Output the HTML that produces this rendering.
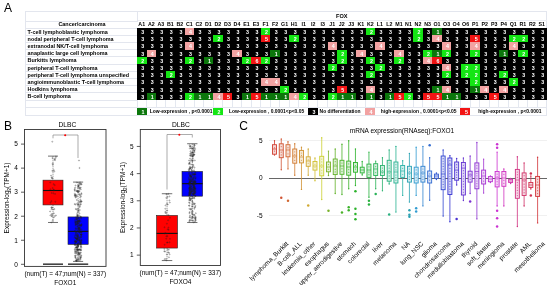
<!DOCTYPE html>
<html><head><meta charset="utf-8"><style>
html,body{margin:0;padding:0;background:#fff;}
body{width:550px;height:289px;position:relative;overflow:hidden;font-family:'Liberation Sans', Arial, sans-serif;color:#000;}
.lbl{position:absolute;line-height:1;}
.ln{position:absolute;background:#e3e6ee;}
.t{position:absolute;white-space:nowrap;}
.b{font-weight:bold;}
.d{color:#fff;text-align:center;font-size:5.3px;}
</style></head><body>
<div class="lbl" style="left:3.9px;top:1.7px;font-size:12px">A</div>
<div class="ln" style="left:25px;top:11px;width:522px;height:104.5px;border:1px solid #e3e6ee;box-sizing:border-box;background:none"></div>
<div class="ln" style="left:25px;top:20.8px;width:112.0px;height:1.2px"></div>
<div class="ln" style="left:137.0px;top:20.4px;width:410.0px;height:1px;background:#eceef4"></div>
<div class="ln" style="left:136.5px;top:11px;width:1px;height:11px"></div>
<div class="ln" style="left:136.5px;top:99px;width:1px;height:16.5px"></div>
<div class="ln" style="left:25px;top:34.7px;width:112.0px;height:1px"></div>
<div class="ln" style="left:25px;top:41.9px;width:112.0px;height:1px"></div>
<div class="ln" style="left:25px;top:49.1px;width:112.0px;height:1px"></div>
<div class="ln" style="left:25px;top:56.3px;width:112.0px;height:1px"></div>
<div class="ln" style="left:25px;top:63.5px;width:112.0px;height:1px"></div>
<div class="ln" style="left:25px;top:70.7px;width:112.0px;height:1px"></div>
<div class="ln" style="left:25px;top:77.9px;width:112.0px;height:1px"></div>
<div class="ln" style="left:25px;top:85.1px;width:112.0px;height:1px"></div>
<div class="ln" style="left:25px;top:92.3px;width:112.0px;height:1px"></div>
<div class="ln" style="left:25px;top:99.5px;width:112.0px;height:1px"></div>
<div class="ln" style="left:25px;top:106.8px;width:112.0px;height:1px"></div>
<div class="ln" style="left:25px;top:27.5px;width:112.0px;height:1px"></div>
<div class="ln" style="left:137.0px;top:107px;width:410.0px;height:1px"></div>
<div class="ln" style="left:146.03px;top:100px;width:1px;height:7.5px;background:#e4e8f0"></div>
<div class="ln" style="left:155.55px;top:100px;width:1px;height:7.5px;background:#e4e8f0"></div>
<div class="ln" style="left:165.08px;top:100px;width:1px;height:7.5px;background:#e4e8f0"></div>
<div class="ln" style="left:174.6px;top:100px;width:1px;height:7.5px;background:#e4e8f0"></div>
<div class="ln" style="left:184.13px;top:100px;width:1px;height:7.5px;background:#e4e8f0"></div>
<div class="ln" style="left:193.65px;top:100px;width:1px;height:7.5px;background:#e4e8f0"></div>
<div class="ln" style="left:203.18px;top:100px;width:1px;height:7.5px;background:#e4e8f0"></div>
<div class="ln" style="left:212.7px;top:100px;width:1px;height:7.5px;background:#e4e8f0"></div>
<div class="ln" style="left:222.23px;top:100px;width:1px;height:7.5px;background:#e4e8f0"></div>
<div class="ln" style="left:231.76px;top:100px;width:1px;height:7.5px;background:#e4e8f0"></div>
<div class="ln" style="left:241.28px;top:100px;width:1px;height:7.5px;background:#e4e8f0"></div>
<div class="ln" style="left:250.81px;top:100px;width:1px;height:7.5px;background:#e4e8f0"></div>
<div class="ln" style="left:260.33px;top:100px;width:1px;height:7.5px;background:#e4e8f0"></div>
<div class="ln" style="left:269.86px;top:100px;width:1px;height:7.5px;background:#e4e8f0"></div>
<div class="ln" style="left:279.38px;top:100px;width:1px;height:7.5px;background:#e4e8f0"></div>
<div class="ln" style="left:288.91px;top:100px;width:1px;height:7.5px;background:#e4e8f0"></div>
<div class="ln" style="left:298.43px;top:100px;width:1px;height:7.5px;background:#e4e8f0"></div>
<div class="ln" style="left:307.96px;top:100px;width:1px;height:7.5px;background:#e4e8f0"></div>
<div class="ln" style="left:317.49px;top:100px;width:1px;height:7.5px;background:#e4e8f0"></div>
<div class="ln" style="left:327.01px;top:100px;width:1px;height:7.5px;background:#e4e8f0"></div>
<div class="ln" style="left:336.54px;top:100px;width:1px;height:7.5px;background:#e4e8f0"></div>
<div class="ln" style="left:346.06px;top:100px;width:1px;height:7.5px;background:#e4e8f0"></div>
<div class="ln" style="left:355.59px;top:100px;width:1px;height:7.5px;background:#e4e8f0"></div>
<div class="ln" style="left:365.11px;top:100px;width:1px;height:7.5px;background:#e4e8f0"></div>
<div class="ln" style="left:374.64px;top:100px;width:1px;height:7.5px;background:#e4e8f0"></div>
<div class="ln" style="left:384.17px;top:100px;width:1px;height:7.5px;background:#e4e8f0"></div>
<div class="ln" style="left:393.69px;top:100px;width:1px;height:7.5px;background:#e4e8f0"></div>
<div class="ln" style="left:403.22px;top:100px;width:1px;height:7.5px;background:#e4e8f0"></div>
<div class="ln" style="left:412.74px;top:100px;width:1px;height:7.5px;background:#e4e8f0"></div>
<div class="ln" style="left:422.27px;top:100px;width:1px;height:7.5px;background:#e4e8f0"></div>
<div class="ln" style="left:431.79px;top:100px;width:1px;height:7.5px;background:#e4e8f0"></div>
<div class="ln" style="left:441.32px;top:100px;width:1px;height:7.5px;background:#e4e8f0"></div>
<div class="ln" style="left:450.84px;top:100px;width:1px;height:7.5px;background:#e4e8f0"></div>
<div class="ln" style="left:460.37px;top:100px;width:1px;height:7.5px;background:#e4e8f0"></div>
<div class="ln" style="left:469.9px;top:100px;width:1px;height:7.5px;background:#e4e8f0"></div>
<div class="ln" style="left:479.42px;top:100px;width:1px;height:7.5px;background:#e4e8f0"></div>
<div class="ln" style="left:488.95px;top:100px;width:1px;height:7.5px;background:#e4e8f0"></div>
<div class="ln" style="left:498.47px;top:100px;width:1px;height:7.5px;background:#e4e8f0"></div>
<div class="ln" style="left:508px;top:100px;width:1px;height:7.5px;background:#e4e8f0"></div>
<div class="ln" style="left:517.52px;top:100px;width:1px;height:7.5px;background:#e4e8f0"></div>
<div class="ln" style="left:527.05px;top:100px;width:1px;height:7.5px;background:#e4e8f0"></div>
<div class="ln" style="left:536.57px;top:100px;width:1px;height:7.5px;background:#e4e8f0"></div>
<div class="t b" style="left:137.0px;width:409.6px;top:11.5px;height:9px;line-height:9px;text-align:center;font-size:5.6px">FOX</div>
<div class="t b" style="left:26px;width:112.0px;top:21.4px;height:7px;line-height:7px;text-align:center;font-size:5.45px">Cancer/carcinoma</div>
<div class="t b" style="left:136px;width:11.53px;top:21.3px;height:7px;line-height:7px;text-align:center;font-size:5.3px">A1</div>
<div class="t b" style="left:145.53px;width:11.53px;top:21.3px;height:7px;line-height:7px;text-align:center;font-size:5.3px">A2</div>
<div class="t b" style="left:155.05px;width:11.53px;top:21.3px;height:7px;line-height:7px;text-align:center;font-size:5.3px">A3</div>
<div class="t b" style="left:164.58px;width:11.53px;top:21.3px;height:7px;line-height:7px;text-align:center;font-size:5.3px">B1</div>
<div class="t b" style="left:174.1px;width:11.53px;top:21.3px;height:7px;line-height:7px;text-align:center;font-size:5.3px">B2</div>
<div class="t b" style="left:183.63px;width:11.53px;top:21.3px;height:7px;line-height:7px;text-align:center;font-size:5.3px">C1</div>
<div class="t b" style="left:193.15px;width:11.53px;top:21.3px;height:7px;line-height:7px;text-align:center;font-size:5.3px">C2</div>
<div class="t b" style="left:202.68px;width:11.53px;top:21.3px;height:7px;line-height:7px;text-align:center;font-size:5.3px">D1</div>
<div class="t b" style="left:212.2px;width:11.53px;top:21.3px;height:7px;line-height:7px;text-align:center;font-size:5.3px">D2</div>
<div class="t b" style="left:221.73px;width:11.53px;top:21.3px;height:7px;line-height:7px;text-align:center;font-size:5.3px">D3</div>
<div class="t b" style="left:231.26px;width:11.53px;top:21.3px;height:7px;line-height:7px;text-align:center;font-size:5.3px">D4</div>
<div class="t b" style="left:240.78px;width:11.53px;top:21.3px;height:7px;line-height:7px;text-align:center;font-size:5.3px">E1</div>
<div class="t b" style="left:250.31px;width:11.53px;top:21.3px;height:7px;line-height:7px;text-align:center;font-size:5.3px">E3</div>
<div class="t b" style="left:259.83px;width:11.53px;top:21.3px;height:7px;line-height:7px;text-align:center;font-size:5.3px">F1</div>
<div class="t b" style="left:269.36px;width:11.53px;top:21.3px;height:7px;line-height:7px;text-align:center;font-size:5.3px">F2</div>
<div class="t b" style="left:278.88px;width:11.53px;top:21.3px;height:7px;line-height:7px;text-align:center;font-size:5.3px">G1</div>
<div class="t b" style="left:288.41px;width:11.53px;top:21.3px;height:7px;line-height:7px;text-align:center;font-size:5.3px">H1</div>
<div class="t b" style="left:297.93px;width:11.53px;top:21.3px;height:7px;line-height:7px;text-align:center;font-size:5.3px">I1</div>
<div class="t b" style="left:307.46px;width:11.53px;top:21.3px;height:7px;line-height:7px;text-align:center;font-size:5.3px">I2</div>
<div class="t b" style="left:316.99px;width:11.53px;top:21.3px;height:7px;line-height:7px;text-align:center;font-size:5.3px">I3</div>
<div class="t b" style="left:326.51px;width:11.53px;top:21.3px;height:7px;line-height:7px;text-align:center;font-size:5.3px">J1</div>
<div class="t b" style="left:336.04px;width:11.53px;top:21.3px;height:7px;line-height:7px;text-align:center;font-size:5.3px">J2</div>
<div class="t b" style="left:345.56px;width:11.53px;top:21.3px;height:7px;line-height:7px;text-align:center;font-size:5.3px">J3</div>
<div class="t b" style="left:355.09px;width:11.53px;top:21.3px;height:7px;line-height:7px;text-align:center;font-size:5.3px">K1</div>
<div class="t b" style="left:364.61px;width:11.53px;top:21.3px;height:7px;line-height:7px;text-align:center;font-size:5.3px">K2</div>
<div class="t b" style="left:374.14px;width:11.53px;top:21.3px;height:7px;line-height:7px;text-align:center;font-size:5.3px">L1</div>
<div class="t b" style="left:383.67px;width:11.53px;top:21.3px;height:7px;line-height:7px;text-align:center;font-size:5.3px">L2</div>
<div class="t b" style="left:393.19px;width:11.53px;top:21.3px;height:7px;line-height:7px;text-align:center;font-size:5.3px">M1</div>
<div class="t b" style="left:402.72px;width:11.53px;top:21.3px;height:7px;line-height:7px;text-align:center;font-size:5.3px">N1</div>
<div class="t b" style="left:412.24px;width:11.53px;top:21.3px;height:7px;line-height:7px;text-align:center;font-size:5.3px">N2</div>
<div class="t b" style="left:421.77px;width:11.53px;top:21.3px;height:7px;line-height:7px;text-align:center;font-size:5.3px">N3</div>
<div class="t b" style="left:431.29px;width:11.53px;top:21.3px;height:7px;line-height:7px;text-align:center;font-size:5.3px">O1</div>
<div class="t b" style="left:440.82px;width:11.53px;top:21.3px;height:7px;line-height:7px;text-align:center;font-size:5.3px">O3</div>
<div class="t b" style="left:450.34px;width:11.53px;top:21.3px;height:7px;line-height:7px;text-align:center;font-size:5.3px">O4</div>
<div class="t b" style="left:459.87px;width:11.53px;top:21.3px;height:7px;line-height:7px;text-align:center;font-size:5.3px">O6</div>
<div class="t b" style="left:469.4px;width:11.53px;top:21.3px;height:7px;line-height:7px;text-align:center;font-size:5.3px">P1</div>
<div class="t b" style="left:478.92px;width:11.53px;top:21.3px;height:7px;line-height:7px;text-align:center;font-size:5.3px">P2</div>
<div class="t b" style="left:488.45px;width:11.53px;top:21.3px;height:7px;line-height:7px;text-align:center;font-size:5.3px">P3</div>
<div class="t b" style="left:497.97px;width:11.53px;top:21.3px;height:7px;line-height:7px;text-align:center;font-size:5.3px">P4</div>
<div class="t b" style="left:507.5px;width:11.53px;top:21.3px;height:7px;line-height:7px;text-align:center;font-size:5.3px">Q1</div>
<div class="t b" style="left:517.02px;width:11.53px;top:21.3px;height:7px;line-height:7px;text-align:center;font-size:5.3px">R1</div>
<div class="t b" style="left:526.55px;width:11.53px;top:21.3px;height:7px;line-height:7px;text-align:center;font-size:5.3px">R2</div>
<div class="t b" style="left:536.07px;width:11.53px;top:21.3px;height:7px;line-height:7px;text-align:center;font-size:5.3px">S1</div>
<div style="position:absolute;left:137.0px;top:28.0px;width:409.6px;height:72px;background:#000"></div>
<div class="t b" style="left:27.6px;top:28.6px;height:7.2px;line-height:7.2px;font-size:5.42px">T-cell lymphoblastic lymphoma</div>
<div class="t b d" style="left:138px;top:28.9px;width:9.53px;height:7.2px;line-height:7.2px">3</div>
<div class="t b d" style="left:147.53px;top:28.9px;width:9.53px;height:7.2px;line-height:7.2px">3</div>
<div class="t b d" style="left:157.05px;top:28.9px;width:9.53px;height:7.2px;line-height:7.2px">3</div>
<div class="t b d" style="left:166.58px;top:28.9px;width:9.53px;height:7.2px;line-height:7.2px">3</div>
<div class="t b d" style="left:176.1px;top:28.9px;width:9.53px;height:7.2px;line-height:7.2px">3</div>
<div style="position:absolute;left:184.63px;top:28px;width:9.53px;height:7.2px;background:#f2a2a2"></div>
<div class="t b d" style="left:185.63px;top:28.9px;width:9.53px;height:7.2px;line-height:7.2px">4</div>
<div class="t b d" style="left:195.15px;top:28.9px;width:9.53px;height:7.2px;line-height:7.2px">3</div>
<div class="t b d" style="left:204.68px;top:28.9px;width:9.53px;height:7.2px;line-height:7.2px">3</div>
<div class="t b d" style="left:214.2px;top:28.9px;width:9.53px;height:7.2px;line-height:7.2px">3</div>
<div class="t b d" style="left:223.73px;top:28.9px;width:9.53px;height:7.2px;line-height:7.2px">3</div>
<div class="t b d" style="left:233.26px;top:28.9px;width:9.53px;height:7.2px;line-height:7.2px">3</div>
<div class="t b d" style="left:242.78px;top:28.9px;width:9.53px;height:7.2px;line-height:7.2px">3</div>
<div class="t b d" style="left:252.31px;top:28.9px;width:9.53px;height:7.2px;line-height:7.2px">3</div>
<div style="position:absolute;left:260.83px;top:28px;width:9.53px;height:7.2px;background:#14e614"></div>
<div class="t b d" style="left:261.83px;top:28.9px;width:9.53px;height:7.2px;line-height:7.2px">2</div>
<div class="t b d" style="left:271.36px;top:28.9px;width:9.53px;height:7.2px;line-height:7.2px">3</div>
<div class="t b d" style="left:280.88px;top:28.9px;width:9.53px;height:7.2px;line-height:7.2px">3</div>
<div class="t b d" style="left:290.41px;top:28.9px;width:9.53px;height:7.2px;line-height:7.2px">3</div>
<div class="t b d" style="left:299.93px;top:28.9px;width:9.53px;height:7.2px;line-height:7.2px">3</div>
<div class="t b d" style="left:309.46px;top:28.9px;width:9.53px;height:7.2px;line-height:7.2px">3</div>
<div class="t b d" style="left:318.99px;top:28.9px;width:9.53px;height:7.2px;line-height:7.2px">3</div>
<div class="t b d" style="left:328.51px;top:28.9px;width:9.53px;height:7.2px;line-height:7.2px">3</div>
<div class="t b d" style="left:338.04px;top:28.9px;width:9.53px;height:7.2px;line-height:7.2px">3</div>
<div class="t b d" style="left:347.56px;top:28.9px;width:9.53px;height:7.2px;line-height:7.2px">3</div>
<div class="t b d" style="left:357.09px;top:28.9px;width:9.53px;height:7.2px;line-height:7.2px">3</div>
<div style="position:absolute;left:365.61px;top:28px;width:9.53px;height:7.2px;background:#14e614"></div>
<div class="t b d" style="left:366.61px;top:28.9px;width:9.53px;height:7.2px;line-height:7.2px">2</div>
<div class="t b d" style="left:376.14px;top:28.9px;width:9.53px;height:7.2px;line-height:7.2px">3</div>
<div class="t b d" style="left:385.67px;top:28.9px;width:9.53px;height:7.2px;line-height:7.2px">3</div>
<div class="t b d" style="left:395.19px;top:28.9px;width:9.53px;height:7.2px;line-height:7.2px">3</div>
<div class="t b d" style="left:404.72px;top:28.9px;width:9.53px;height:7.2px;line-height:7.2px">3</div>
<div style="position:absolute;left:413.24px;top:28px;width:9.53px;height:7.2px;background:#14e614"></div>
<div class="t b d" style="left:414.24px;top:28.9px;width:9.53px;height:7.2px;line-height:7.2px">2</div>
<div class="t b d" style="left:423.77px;top:28.9px;width:9.53px;height:7.2px;line-height:7.2px">3</div>
<div style="position:absolute;left:432.29px;top:28px;width:9.53px;height:7.2px;background:#0c770c"></div>
<div class="t b d" style="left:433.29px;top:28.9px;width:9.53px;height:7.2px;line-height:7.2px">1</div>
<div class="t b d" style="left:442.82px;top:28.9px;width:9.53px;height:7.2px;line-height:7.2px">3</div>
<div class="t b d" style="left:452.34px;top:28.9px;width:9.53px;height:7.2px;line-height:7.2px">3</div>
<div class="t b d" style="left:461.87px;top:28.9px;width:9.53px;height:7.2px;line-height:7.2px">3</div>
<div class="t b d" style="left:471.4px;top:28.9px;width:9.53px;height:7.2px;line-height:7.2px">3</div>
<div class="t b d" style="left:480.92px;top:28.9px;width:9.53px;height:7.2px;line-height:7.2px">3</div>
<div class="t b d" style="left:490.45px;top:28.9px;width:9.53px;height:7.2px;line-height:7.2px">3</div>
<div class="t b d" style="left:499.97px;top:28.9px;width:9.53px;height:7.2px;line-height:7.2px">3</div>
<div class="t b d" style="left:509.5px;top:28.9px;width:9.53px;height:7.2px;line-height:7.2px">3</div>
<div class="t b d" style="left:519.02px;top:28.9px;width:9.53px;height:7.2px;line-height:7.2px">3</div>
<div class="t b d" style="left:528.55px;top:28.9px;width:9.53px;height:7.2px;line-height:7.2px">3</div>
<div class="t b d" style="left:538.07px;top:28.9px;width:9.53px;height:7.2px;line-height:7.2px">3</div>
<div class="t b" style="left:27.6px;top:35.8px;height:7.2px;line-height:7.2px;font-size:5.42px">nodal peripheral T-cell lymphoma</div>
<div class="t b d" style="left:138px;top:36.1px;width:9.53px;height:7.2px;line-height:7.2px">3</div>
<div class="t b d" style="left:147.53px;top:36.1px;width:9.53px;height:7.2px;line-height:7.2px">3</div>
<div class="t b d" style="left:157.05px;top:36.1px;width:9.53px;height:7.2px;line-height:7.2px">3</div>
<div class="t b d" style="left:166.58px;top:36.1px;width:9.53px;height:7.2px;line-height:7.2px">3</div>
<div class="t b d" style="left:176.1px;top:36.1px;width:9.53px;height:7.2px;line-height:7.2px">3</div>
<div class="t b d" style="left:185.63px;top:36.1px;width:9.53px;height:7.2px;line-height:7.2px">3</div>
<div class="t b d" style="left:195.15px;top:36.1px;width:9.53px;height:7.2px;line-height:7.2px">3</div>
<div class="t b d" style="left:204.68px;top:36.1px;width:9.53px;height:7.2px;line-height:7.2px">3</div>
<div style="position:absolute;left:213.2px;top:35.2px;width:9.53px;height:7.2px;background:#14e614"></div>
<div class="t b d" style="left:214.2px;top:36.1px;width:9.53px;height:7.2px;line-height:7.2px">2</div>
<div class="t b d" style="left:223.73px;top:36.1px;width:9.53px;height:7.2px;line-height:7.2px">3</div>
<div class="t b d" style="left:233.26px;top:36.1px;width:9.53px;height:7.2px;line-height:7.2px">3</div>
<div class="t b d" style="left:242.78px;top:36.1px;width:9.53px;height:7.2px;line-height:7.2px">3</div>
<div class="t b d" style="left:252.31px;top:36.1px;width:9.53px;height:7.2px;line-height:7.2px">3</div>
<div style="position:absolute;left:260.83px;top:35.2px;width:9.53px;height:7.2px;background:#f21414"></div>
<div class="t b d" style="left:261.83px;top:36.1px;width:9.53px;height:7.2px;line-height:7.2px">5</div>
<div class="t b d" style="left:271.36px;top:36.1px;width:9.53px;height:7.2px;line-height:7.2px">3</div>
<div class="t b d" style="left:280.88px;top:36.1px;width:9.53px;height:7.2px;line-height:7.2px">3</div>
<div style="position:absolute;left:289.41px;top:35.2px;width:9.53px;height:7.2px;background:#14e614"></div>
<div class="t b d" style="left:290.41px;top:36.1px;width:9.53px;height:7.2px;line-height:7.2px">2</div>
<div class="t b d" style="left:299.93px;top:36.1px;width:9.53px;height:7.2px;line-height:7.2px">3</div>
<div class="t b d" style="left:309.46px;top:36.1px;width:9.53px;height:7.2px;line-height:7.2px">3</div>
<div class="t b d" style="left:318.99px;top:36.1px;width:9.53px;height:7.2px;line-height:7.2px">3</div>
<div class="t b d" style="left:328.51px;top:36.1px;width:9.53px;height:7.2px;line-height:7.2px">3</div>
<div class="t b d" style="left:338.04px;top:36.1px;width:9.53px;height:7.2px;line-height:7.2px">3</div>
<div class="t b d" style="left:347.56px;top:36.1px;width:9.53px;height:7.2px;line-height:7.2px">3</div>
<div class="t b d" style="left:357.09px;top:36.1px;width:9.53px;height:7.2px;line-height:7.2px">3</div>
<div class="t b d" style="left:366.61px;top:36.1px;width:9.53px;height:7.2px;line-height:7.2px">3</div>
<div class="t b d" style="left:376.14px;top:36.1px;width:9.53px;height:7.2px;line-height:7.2px">3</div>
<div class="t b d" style="left:385.67px;top:36.1px;width:9.53px;height:7.2px;line-height:7.2px">3</div>
<div class="t b d" style="left:395.19px;top:36.1px;width:9.53px;height:7.2px;line-height:7.2px">3</div>
<div class="t b d" style="left:404.72px;top:36.1px;width:9.53px;height:7.2px;line-height:7.2px">3</div>
<div style="position:absolute;left:413.24px;top:35.2px;width:9.53px;height:7.2px;background:#14e614"></div>
<div class="t b d" style="left:414.24px;top:36.1px;width:9.53px;height:7.2px;line-height:7.2px">2</div>
<div class="t b d" style="left:423.77px;top:36.1px;width:9.53px;height:7.2px;line-height:7.2px">3</div>
<div style="position:absolute;left:432.29px;top:35.2px;width:9.53px;height:7.2px;background:#f2a2a2"></div>
<div class="t b d" style="left:433.29px;top:36.1px;width:9.53px;height:7.2px;line-height:7.2px">4</div>
<div class="t b d" style="left:442.82px;top:36.1px;width:9.53px;height:7.2px;line-height:7.2px">3</div>
<div class="t b d" style="left:452.34px;top:36.1px;width:9.53px;height:7.2px;line-height:7.2px">3</div>
<div class="t b d" style="left:461.87px;top:36.1px;width:9.53px;height:7.2px;line-height:7.2px">3</div>
<div style="position:absolute;left:470.4px;top:35.2px;width:9.53px;height:7.2px;background:#f21414"></div>
<div class="t b d" style="left:471.4px;top:36.1px;width:9.53px;height:7.2px;line-height:7.2px">5</div>
<div class="t b d" style="left:480.92px;top:36.1px;width:9.53px;height:7.2px;line-height:7.2px">3</div>
<div class="t b d" style="left:490.45px;top:36.1px;width:9.53px;height:7.2px;line-height:7.2px">3</div>
<div class="t b d" style="left:499.97px;top:36.1px;width:9.53px;height:7.2px;line-height:7.2px">3</div>
<div style="position:absolute;left:508.5px;top:35.2px;width:9.53px;height:7.2px;background:#14e614"></div>
<div class="t b d" style="left:509.5px;top:36.1px;width:9.53px;height:7.2px;line-height:7.2px">2</div>
<div style="position:absolute;left:518.02px;top:35.2px;width:9.53px;height:7.2px;background:#14e614"></div>
<div class="t b d" style="left:519.02px;top:36.1px;width:9.53px;height:7.2px;line-height:7.2px">2</div>
<div class="t b d" style="left:528.55px;top:36.1px;width:9.53px;height:7.2px;line-height:7.2px">3</div>
<div class="t b d" style="left:538.07px;top:36.1px;width:9.53px;height:7.2px;line-height:7.2px">3</div>
<div class="t b" style="left:27.6px;top:43px;height:7.2px;line-height:7.2px;font-size:5.42px">extranodal NK/T-cell lymphoma</div>
<div class="t b d" style="left:138px;top:43.3px;width:9.53px;height:7.2px;line-height:7.2px">3</div>
<div class="t b d" style="left:147.53px;top:43.3px;width:9.53px;height:7.2px;line-height:7.2px">3</div>
<div class="t b d" style="left:157.05px;top:43.3px;width:9.53px;height:7.2px;line-height:7.2px">3</div>
<div class="t b d" style="left:166.58px;top:43.3px;width:9.53px;height:7.2px;line-height:7.2px">3</div>
<div class="t b d" style="left:176.1px;top:43.3px;width:9.53px;height:7.2px;line-height:7.2px">3</div>
<div style="position:absolute;left:184.63px;top:42.4px;width:9.53px;height:7.2px;background:#f2a2a2"></div>
<div class="t b d" style="left:185.63px;top:43.3px;width:9.53px;height:7.2px;line-height:7.2px">4</div>
<div class="t b d" style="left:195.15px;top:43.3px;width:9.53px;height:7.2px;line-height:7.2px">3</div>
<div class="t b d" style="left:204.68px;top:43.3px;width:9.53px;height:7.2px;line-height:7.2px">3</div>
<div class="t b d" style="left:214.2px;top:43.3px;width:9.53px;height:7.2px;line-height:7.2px">3</div>
<div class="t b d" style="left:223.73px;top:43.3px;width:9.53px;height:7.2px;line-height:7.2px">3</div>
<div class="t b d" style="left:233.26px;top:43.3px;width:9.53px;height:7.2px;line-height:7.2px">3</div>
<div class="t b d" style="left:242.78px;top:43.3px;width:9.53px;height:7.2px;line-height:7.2px">3</div>
<div class="t b d" style="left:252.31px;top:43.3px;width:9.53px;height:7.2px;line-height:7.2px">3</div>
<div class="t b d" style="left:261.83px;top:43.3px;width:9.53px;height:7.2px;line-height:7.2px">3</div>
<div class="t b d" style="left:271.36px;top:43.3px;width:9.53px;height:7.2px;line-height:7.2px">3</div>
<div class="t b d" style="left:280.88px;top:43.3px;width:9.53px;height:7.2px;line-height:7.2px">3</div>
<div class="t b d" style="left:290.41px;top:43.3px;width:9.53px;height:7.2px;line-height:7.2px">3</div>
<div class="t b d" style="left:299.93px;top:43.3px;width:9.53px;height:7.2px;line-height:7.2px">3</div>
<div class="t b d" style="left:309.46px;top:43.3px;width:9.53px;height:7.2px;line-height:7.2px">3</div>
<div class="t b d" style="left:318.99px;top:43.3px;width:9.53px;height:7.2px;line-height:7.2px">3</div>
<div style="position:absolute;left:327.51px;top:42.4px;width:9.53px;height:7.2px;background:#f2a2a2"></div>
<div class="t b d" style="left:328.51px;top:43.3px;width:9.53px;height:7.2px;line-height:7.2px">4</div>
<div class="t b d" style="left:338.04px;top:43.3px;width:9.53px;height:7.2px;line-height:7.2px">3</div>
<div class="t b d" style="left:347.56px;top:43.3px;width:9.53px;height:7.2px;line-height:7.2px">3</div>
<div class="t b d" style="left:357.09px;top:43.3px;width:9.53px;height:7.2px;line-height:7.2px">3</div>
<div class="t b d" style="left:366.61px;top:43.3px;width:9.53px;height:7.2px;line-height:7.2px">3</div>
<div style="position:absolute;left:375.14px;top:42.4px;width:9.53px;height:7.2px;background:#f2a2a2"></div>
<div class="t b d" style="left:376.14px;top:43.3px;width:9.53px;height:7.2px;line-height:7.2px">4</div>
<div class="t b d" style="left:385.67px;top:43.3px;width:9.53px;height:7.2px;line-height:7.2px">3</div>
<div class="t b d" style="left:395.19px;top:43.3px;width:9.53px;height:7.2px;line-height:7.2px">3</div>
<div class="t b d" style="left:404.72px;top:43.3px;width:9.53px;height:7.2px;line-height:7.2px">3</div>
<div class="t b d" style="left:414.24px;top:43.3px;width:9.53px;height:7.2px;line-height:7.2px">3</div>
<div class="t b d" style="left:423.77px;top:43.3px;width:9.53px;height:7.2px;line-height:7.2px">3</div>
<div class="t b d" style="left:433.29px;top:43.3px;width:9.53px;height:7.2px;line-height:7.2px">3</div>
<div style="position:absolute;left:441.82px;top:42.4px;width:9.53px;height:7.2px;background:#f2a2a2"></div>
<div class="t b d" style="left:442.82px;top:43.3px;width:9.53px;height:7.2px;line-height:7.2px">4</div>
<div class="t b d" style="left:452.34px;top:43.3px;width:9.53px;height:7.2px;line-height:7.2px">3</div>
<div class="t b d" style="left:461.87px;top:43.3px;width:9.53px;height:7.2px;line-height:7.2px">3</div>
<div style="position:absolute;left:470.4px;top:42.4px;width:9.53px;height:7.2px;background:#f2a2a2"></div>
<div class="t b d" style="left:471.4px;top:43.3px;width:9.53px;height:7.2px;line-height:7.2px">4</div>
<div class="t b d" style="left:480.92px;top:43.3px;width:9.53px;height:7.2px;line-height:7.2px">3</div>
<div class="t b d" style="left:490.45px;top:43.3px;width:9.53px;height:7.2px;line-height:7.2px">3</div>
<div class="t b d" style="left:499.97px;top:43.3px;width:9.53px;height:7.2px;line-height:7.2px">3</div>
<div style="position:absolute;left:508.5px;top:42.4px;width:9.53px;height:7.2px;background:#f2a2a2"></div>
<div class="t b d" style="left:509.5px;top:43.3px;width:9.53px;height:7.2px;line-height:7.2px">4</div>
<div class="t b d" style="left:519.02px;top:43.3px;width:9.53px;height:7.2px;line-height:7.2px">3</div>
<div class="t b d" style="left:528.55px;top:43.3px;width:9.53px;height:7.2px;line-height:7.2px">3</div>
<div class="t b d" style="left:538.07px;top:43.3px;width:9.53px;height:7.2px;line-height:7.2px">3</div>
<div class="t b" style="left:27.6px;top:50.2px;height:7.2px;line-height:7.2px;font-size:5.42px">anaplastic large cell lymphoma</div>
<div class="t b d" style="left:138px;top:50.5px;width:9.53px;height:7.2px;line-height:7.2px">3</div>
<div style="position:absolute;left:146.53px;top:49.6px;width:9.53px;height:7.2px;background:#f2a2a2"></div>
<div class="t b d" style="left:147.53px;top:50.5px;width:9.53px;height:7.2px;line-height:7.2px">4</div>
<div class="t b d" style="left:157.05px;top:50.5px;width:9.53px;height:7.2px;line-height:7.2px">3</div>
<div class="t b d" style="left:166.58px;top:50.5px;width:9.53px;height:7.2px;line-height:7.2px">3</div>
<div class="t b d" style="left:176.1px;top:50.5px;width:9.53px;height:7.2px;line-height:7.2px">3</div>
<div class="t b d" style="left:185.63px;top:50.5px;width:9.53px;height:7.2px;line-height:7.2px">3</div>
<div class="t b d" style="left:195.15px;top:50.5px;width:9.53px;height:7.2px;line-height:7.2px">3</div>
<div class="t b d" style="left:204.68px;top:50.5px;width:9.53px;height:7.2px;line-height:7.2px">3</div>
<div class="t b d" style="left:214.2px;top:50.5px;width:9.53px;height:7.2px;line-height:7.2px">3</div>
<div class="t b d" style="left:223.73px;top:50.5px;width:9.53px;height:7.2px;line-height:7.2px">3</div>
<div style="position:absolute;left:232.26px;top:49.6px;width:9.53px;height:7.2px;background:#f2a2a2"></div>
<div class="t b d" style="left:233.26px;top:50.5px;width:9.53px;height:7.2px;line-height:7.2px">4</div>
<div class="t b d" style="left:242.78px;top:50.5px;width:9.53px;height:7.2px;line-height:7.2px">3</div>
<div class="t b d" style="left:252.31px;top:50.5px;width:9.53px;height:7.2px;line-height:7.2px">3</div>
<div class="t b d" style="left:261.83px;top:50.5px;width:9.53px;height:7.2px;line-height:7.2px">3</div>
<div style="position:absolute;left:270.36px;top:49.6px;width:9.53px;height:7.2px;background:#0c770c"></div>
<div class="t b d" style="left:271.36px;top:50.5px;width:9.53px;height:7.2px;line-height:7.2px">1</div>
<div class="t b d" style="left:280.88px;top:50.5px;width:9.53px;height:7.2px;line-height:7.2px">3</div>
<div class="t b d" style="left:290.41px;top:50.5px;width:9.53px;height:7.2px;line-height:7.2px">3</div>
<div class="t b d" style="left:299.93px;top:50.5px;width:9.53px;height:7.2px;line-height:7.2px">3</div>
<div class="t b d" style="left:309.46px;top:50.5px;width:9.53px;height:7.2px;line-height:7.2px">3</div>
<div class="t b d" style="left:318.99px;top:50.5px;width:9.53px;height:7.2px;line-height:7.2px">3</div>
<div class="t b d" style="left:328.51px;top:50.5px;width:9.53px;height:7.2px;line-height:7.2px">3</div>
<div style="position:absolute;left:337.04px;top:49.6px;width:9.53px;height:7.2px;background:#14e614"></div>
<div class="t b d" style="left:338.04px;top:50.5px;width:9.53px;height:7.2px;line-height:7.2px">2</div>
<div class="t b d" style="left:347.56px;top:50.5px;width:9.53px;height:7.2px;line-height:7.2px">3</div>
<div style="position:absolute;left:356.09px;top:49.6px;width:9.53px;height:7.2px;background:#f2a2a2"></div>
<div class="t b d" style="left:357.09px;top:50.5px;width:9.53px;height:7.2px;line-height:7.2px">4</div>
<div class="t b d" style="left:366.61px;top:50.5px;width:9.53px;height:7.2px;line-height:7.2px">3</div>
<div class="t b d" style="left:376.14px;top:50.5px;width:9.53px;height:7.2px;line-height:7.2px">3</div>
<div class="t b d" style="left:385.67px;top:50.5px;width:9.53px;height:7.2px;line-height:7.2px">3</div>
<div style="position:absolute;left:394.19px;top:49.6px;width:9.53px;height:7.2px;background:#f2a2a2"></div>
<div class="t b d" style="left:395.19px;top:50.5px;width:9.53px;height:7.2px;line-height:7.2px">4</div>
<div class="t b d" style="left:404.72px;top:50.5px;width:9.53px;height:7.2px;line-height:7.2px">3</div>
<div class="t b d" style="left:414.24px;top:50.5px;width:9.53px;height:7.2px;line-height:7.2px">3</div>
<div style="position:absolute;left:422.77px;top:49.6px;width:9.53px;height:7.2px;background:#14e614"></div>
<div class="t b d" style="left:423.77px;top:50.5px;width:9.53px;height:7.2px;line-height:7.2px">2</div>
<div style="position:absolute;left:432.29px;top:49.6px;width:9.53px;height:7.2px;background:#0c770c"></div>
<div class="t b d" style="left:433.29px;top:50.5px;width:9.53px;height:7.2px;line-height:7.2px">1</div>
<div style="position:absolute;left:441.82px;top:49.6px;width:9.53px;height:7.2px;background:#14e614"></div>
<div class="t b d" style="left:442.82px;top:50.5px;width:9.53px;height:7.2px;line-height:7.2px">2</div>
<div class="t b d" style="left:452.34px;top:50.5px;width:9.53px;height:7.2px;line-height:7.2px">3</div>
<div class="t b d" style="left:461.87px;top:50.5px;width:9.53px;height:7.2px;line-height:7.2px">3</div>
<div style="position:absolute;left:470.4px;top:49.6px;width:9.53px;height:7.2px;background:#14e614"></div>
<div class="t b d" style="left:471.4px;top:50.5px;width:9.53px;height:7.2px;line-height:7.2px">2</div>
<div class="t b d" style="left:480.92px;top:50.5px;width:9.53px;height:7.2px;line-height:7.2px">3</div>
<div class="t b d" style="left:490.45px;top:50.5px;width:9.53px;height:7.2px;line-height:7.2px">3</div>
<div style="position:absolute;left:498.97px;top:49.6px;width:9.53px;height:7.2px;background:#0c770c"></div>
<div class="t b d" style="left:499.97px;top:50.5px;width:9.53px;height:7.2px;line-height:7.2px">1</div>
<div class="t b d" style="left:509.5px;top:50.5px;width:9.53px;height:7.2px;line-height:7.2px">3</div>
<div style="position:absolute;left:518.02px;top:49.6px;width:9.53px;height:7.2px;background:#14e614"></div>
<div class="t b d" style="left:519.02px;top:50.5px;width:9.53px;height:7.2px;line-height:7.2px">2</div>
<div class="t b d" style="left:528.55px;top:50.5px;width:9.53px;height:7.2px;line-height:7.2px">3</div>
<div class="t b d" style="left:538.07px;top:50.5px;width:9.53px;height:7.2px;line-height:7.2px">3</div>
<div class="t b" style="left:27.6px;top:57.4px;height:7.2px;line-height:7.2px;font-size:5.42px">Burkitts lymphoma</div>
<div style="position:absolute;left:137px;top:56.8px;width:9.53px;height:7.2px;background:#14e614"></div>
<div class="t b d" style="left:138px;top:57.7px;width:9.53px;height:7.2px;line-height:7.2px">2</div>
<div class="t b d" style="left:147.53px;top:57.7px;width:9.53px;height:7.2px;line-height:7.2px">3</div>
<div class="t b d" style="left:157.05px;top:57.7px;width:9.53px;height:7.2px;line-height:7.2px">3</div>
<div class="t b d" style="left:166.58px;top:57.7px;width:9.53px;height:7.2px;line-height:7.2px">3</div>
<div class="t b d" style="left:176.1px;top:57.7px;width:9.53px;height:7.2px;line-height:7.2px">3</div>
<div style="position:absolute;left:184.63px;top:56.8px;width:9.53px;height:7.2px;background:#14e614"></div>
<div class="t b d" style="left:185.63px;top:57.7px;width:9.53px;height:7.2px;line-height:7.2px">2</div>
<div class="t b d" style="left:195.15px;top:57.7px;width:9.53px;height:7.2px;line-height:7.2px">3</div>
<div style="position:absolute;left:203.68px;top:56.8px;width:9.53px;height:7.2px;background:#0c770c"></div>
<div class="t b d" style="left:204.68px;top:57.7px;width:9.53px;height:7.2px;line-height:7.2px">1</div>
<div class="t b d" style="left:214.2px;top:57.7px;width:9.53px;height:7.2px;line-height:7.2px">3</div>
<div class="t b d" style="left:223.73px;top:57.7px;width:9.53px;height:7.2px;line-height:7.2px">3</div>
<div class="t b d" style="left:233.26px;top:57.7px;width:9.53px;height:7.2px;line-height:7.2px">3</div>
<div style="position:absolute;left:241.78px;top:56.8px;width:9.53px;height:7.2px;background:#14e614"></div>
<div class="t b d" style="left:242.78px;top:57.7px;width:9.53px;height:7.2px;line-height:7.2px">2</div>
<div style="position:absolute;left:251.31px;top:56.8px;width:9.53px;height:7.2px;background:#f21414"></div>
<div class="t b d" style="left:252.31px;top:57.7px;width:9.53px;height:7.2px;line-height:7.2px">6</div>
<div style="position:absolute;left:260.83px;top:56.8px;width:9.53px;height:7.2px;background:#14e614"></div>
<div class="t b d" style="left:261.83px;top:57.7px;width:9.53px;height:7.2px;line-height:7.2px">2</div>
<div class="t b d" style="left:271.36px;top:57.7px;width:9.53px;height:7.2px;line-height:7.2px">3</div>
<div class="t b d" style="left:280.88px;top:57.7px;width:9.53px;height:7.2px;line-height:7.2px">3</div>
<div class="t b d" style="left:290.41px;top:57.7px;width:9.53px;height:7.2px;line-height:7.2px">3</div>
<div class="t b d" style="left:299.93px;top:57.7px;width:9.53px;height:7.2px;line-height:7.2px">3</div>
<div class="t b d" style="left:309.46px;top:57.7px;width:9.53px;height:7.2px;line-height:7.2px">3</div>
<div class="t b d" style="left:318.99px;top:57.7px;width:9.53px;height:7.2px;line-height:7.2px">3</div>
<div class="t b d" style="left:328.51px;top:57.7px;width:9.53px;height:7.2px;line-height:7.2px">3</div>
<div style="position:absolute;left:337.04px;top:56.8px;width:9.53px;height:7.2px;background:#14e614"></div>
<div class="t b d" style="left:338.04px;top:57.7px;width:9.53px;height:7.2px;line-height:7.2px">2</div>
<div class="t b d" style="left:347.56px;top:57.7px;width:9.53px;height:7.2px;line-height:7.2px">3</div>
<div class="t b d" style="left:357.09px;top:57.7px;width:9.53px;height:7.2px;line-height:7.2px">3</div>
<div style="position:absolute;left:365.61px;top:56.8px;width:9.53px;height:7.2px;background:#14e614"></div>
<div class="t b d" style="left:366.61px;top:57.7px;width:9.53px;height:7.2px;line-height:7.2px">2</div>
<div class="t b d" style="left:376.14px;top:57.7px;width:9.53px;height:7.2px;line-height:7.2px">3</div>
<div class="t b d" style="left:385.67px;top:57.7px;width:9.53px;height:7.2px;line-height:7.2px">3</div>
<div style="position:absolute;left:394.19px;top:56.8px;width:9.53px;height:7.2px;background:#14e614"></div>
<div class="t b d" style="left:395.19px;top:57.7px;width:9.53px;height:7.2px;line-height:7.2px">2</div>
<div class="t b d" style="left:404.72px;top:57.7px;width:9.53px;height:7.2px;line-height:7.2px">3</div>
<div class="t b d" style="left:414.24px;top:57.7px;width:9.53px;height:7.2px;line-height:7.2px">3</div>
<div style="position:absolute;left:422.77px;top:56.8px;width:9.53px;height:7.2px;background:#f2a2a2"></div>
<div class="t b d" style="left:423.77px;top:57.7px;width:9.53px;height:7.2px;line-height:7.2px">4</div>
<div style="position:absolute;left:432.29px;top:56.8px;width:9.53px;height:7.2px;background:#f21414"></div>
<div class="t b d" style="left:433.29px;top:57.7px;width:9.53px;height:7.2px;line-height:7.2px">6</div>
<div class="t b d" style="left:442.82px;top:57.7px;width:9.53px;height:7.2px;line-height:7.2px">3</div>
<div class="t b d" style="left:452.34px;top:57.7px;width:9.53px;height:7.2px;line-height:7.2px">3</div>
<div class="t b d" style="left:461.87px;top:57.7px;width:9.53px;height:7.2px;line-height:7.2px">3</div>
<div class="t b d" style="left:471.4px;top:57.7px;width:9.53px;height:7.2px;line-height:7.2px">3</div>
<div class="t b d" style="left:480.92px;top:57.7px;width:9.53px;height:7.2px;line-height:7.2px">3</div>
<div class="t b d" style="left:490.45px;top:57.7px;width:9.53px;height:7.2px;line-height:7.2px">3</div>
<div class="t b d" style="left:499.97px;top:57.7px;width:9.53px;height:7.2px;line-height:7.2px">3</div>
<div class="t b d" style="left:509.5px;top:57.7px;width:9.53px;height:7.2px;line-height:7.2px">3</div>
<div class="t b d" style="left:519.02px;top:57.7px;width:9.53px;height:7.2px;line-height:7.2px">3</div>
<div class="t b d" style="left:528.55px;top:57.7px;width:9.53px;height:7.2px;line-height:7.2px">3</div>
<div class="t b d" style="left:538.07px;top:57.7px;width:9.53px;height:7.2px;line-height:7.2px">3</div>
<div class="t b" style="left:27.6px;top:64.6px;height:7.2px;line-height:7.2px;font-size:5.42px">peripheral T-cell lymphoma</div>
<div class="t b d" style="left:138px;top:64.9px;width:9.53px;height:7.2px;line-height:7.2px">3</div>
<div class="t b d" style="left:147.53px;top:64.9px;width:9.53px;height:7.2px;line-height:7.2px">3</div>
<div class="t b d" style="left:157.05px;top:64.9px;width:9.53px;height:7.2px;line-height:7.2px">3</div>
<div class="t b d" style="left:166.58px;top:64.9px;width:9.53px;height:7.2px;line-height:7.2px">3</div>
<div class="t b d" style="left:176.1px;top:64.9px;width:9.53px;height:7.2px;line-height:7.2px">3</div>
<div class="t b d" style="left:185.63px;top:64.9px;width:9.53px;height:7.2px;line-height:7.2px">3</div>
<div class="t b d" style="left:195.15px;top:64.9px;width:9.53px;height:7.2px;line-height:7.2px">3</div>
<div class="t b d" style="left:204.68px;top:64.9px;width:9.53px;height:7.2px;line-height:7.2px">3</div>
<div class="t b d" style="left:214.2px;top:64.9px;width:9.53px;height:7.2px;line-height:7.2px">3</div>
<div class="t b d" style="left:223.73px;top:64.9px;width:9.53px;height:7.2px;line-height:7.2px">3</div>
<div class="t b d" style="left:233.26px;top:64.9px;width:9.53px;height:7.2px;line-height:7.2px">3</div>
<div class="t b d" style="left:242.78px;top:64.9px;width:9.53px;height:7.2px;line-height:7.2px">3</div>
<div class="t b d" style="left:252.31px;top:64.9px;width:9.53px;height:7.2px;line-height:7.2px">3</div>
<div class="t b d" style="left:261.83px;top:64.9px;width:9.53px;height:7.2px;line-height:7.2px">3</div>
<div class="t b d" style="left:271.36px;top:64.9px;width:9.53px;height:7.2px;line-height:7.2px">3</div>
<div class="t b d" style="left:280.88px;top:64.9px;width:9.53px;height:7.2px;line-height:7.2px">3</div>
<div class="t b d" style="left:290.41px;top:64.9px;width:9.53px;height:7.2px;line-height:7.2px">3</div>
<div class="t b d" style="left:299.93px;top:64.9px;width:9.53px;height:7.2px;line-height:7.2px">3</div>
<div class="t b d" style="left:309.46px;top:64.9px;width:9.53px;height:7.2px;line-height:7.2px">3</div>
<div class="t b d" style="left:318.99px;top:64.9px;width:9.53px;height:7.2px;line-height:7.2px">3</div>
<div style="position:absolute;left:327.51px;top:64px;width:9.53px;height:7.2px;background:#14e614"></div>
<div class="t b d" style="left:328.51px;top:64.9px;width:9.53px;height:7.2px;line-height:7.2px">2</div>
<div class="t b d" style="left:338.04px;top:64.9px;width:9.53px;height:7.2px;line-height:7.2px">3</div>
<div class="t b d" style="left:347.56px;top:64.9px;width:9.53px;height:7.2px;line-height:7.2px">3</div>
<div class="t b d" style="left:357.09px;top:64.9px;width:9.53px;height:7.2px;line-height:7.2px">3</div>
<div class="t b d" style="left:366.61px;top:64.9px;width:9.53px;height:7.2px;line-height:7.2px">3</div>
<div style="position:absolute;left:375.14px;top:64px;width:9.53px;height:7.2px;background:#14e614"></div>
<div class="t b d" style="left:376.14px;top:64.9px;width:9.53px;height:7.2px;line-height:7.2px">2</div>
<div class="t b d" style="left:385.67px;top:64.9px;width:9.53px;height:7.2px;line-height:7.2px">3</div>
<div class="t b d" style="left:395.19px;top:64.9px;width:9.53px;height:7.2px;line-height:7.2px">3</div>
<div class="t b d" style="left:404.72px;top:64.9px;width:9.53px;height:7.2px;line-height:7.2px">3</div>
<div class="t b d" style="left:414.24px;top:64.9px;width:9.53px;height:7.2px;line-height:7.2px">3</div>
<div class="t b d" style="left:423.77px;top:64.9px;width:9.53px;height:7.2px;line-height:7.2px">3</div>
<div class="t b d" style="left:433.29px;top:64.9px;width:9.53px;height:7.2px;line-height:7.2px">3</div>
<div style="position:absolute;left:441.82px;top:64px;width:9.53px;height:7.2px;background:#f2a2a2"></div>
<div class="t b d" style="left:442.82px;top:64.9px;width:9.53px;height:7.2px;line-height:7.2px">4</div>
<div class="t b d" style="left:452.34px;top:64.9px;width:9.53px;height:7.2px;line-height:7.2px">3</div>
<div style="position:absolute;left:460.87px;top:64px;width:9.53px;height:7.2px;background:#14e614"></div>
<div class="t b d" style="left:461.87px;top:64.9px;width:9.53px;height:7.2px;line-height:7.2px">2</div>
<div style="position:absolute;left:470.4px;top:64px;width:9.53px;height:7.2px;background:#14e614"></div>
<div class="t b d" style="left:471.4px;top:64.9px;width:9.53px;height:7.2px;line-height:7.2px">2</div>
<div class="t b d" style="left:480.92px;top:64.9px;width:9.53px;height:7.2px;line-height:7.2px">3</div>
<div class="t b d" style="left:490.45px;top:64.9px;width:9.53px;height:7.2px;line-height:7.2px">3</div>
<div class="t b d" style="left:499.97px;top:64.9px;width:9.53px;height:7.2px;line-height:7.2px">3</div>
<div class="t b d" style="left:509.5px;top:64.9px;width:9.53px;height:7.2px;line-height:7.2px">3</div>
<div class="t b d" style="left:519.02px;top:64.9px;width:9.53px;height:7.2px;line-height:7.2px">3</div>
<div class="t b d" style="left:528.55px;top:64.9px;width:9.53px;height:7.2px;line-height:7.2px">3</div>
<div class="t b d" style="left:538.07px;top:64.9px;width:9.53px;height:7.2px;line-height:7.2px">3</div>
<div class="t b" style="left:27.6px;top:71.8px;height:7.2px;line-height:7.2px;font-size:5.42px">peripheral T-cell lymphoma unspecified</div>
<div class="t b d" style="left:138px;top:72.1px;width:9.53px;height:7.2px;line-height:7.2px">3</div>
<div class="t b d" style="left:147.53px;top:72.1px;width:9.53px;height:7.2px;line-height:7.2px">3</div>
<div class="t b d" style="left:157.05px;top:72.1px;width:9.53px;height:7.2px;line-height:7.2px">3</div>
<div style="position:absolute;left:165.58px;top:71.2px;width:9.53px;height:7.2px;background:#14e614"></div>
<div class="t b d" style="left:166.58px;top:72.1px;width:9.53px;height:7.2px;line-height:7.2px">2</div>
<div class="t b d" style="left:176.1px;top:72.1px;width:9.53px;height:7.2px;line-height:7.2px">3</div>
<div class="t b d" style="left:185.63px;top:72.1px;width:9.53px;height:7.2px;line-height:7.2px">3</div>
<div class="t b d" style="left:195.15px;top:72.1px;width:9.53px;height:7.2px;line-height:7.2px">3</div>
<div class="t b d" style="left:204.68px;top:72.1px;width:9.53px;height:7.2px;line-height:7.2px">3</div>
<div class="t b d" style="left:214.2px;top:72.1px;width:9.53px;height:7.2px;line-height:7.2px">3</div>
<div class="t b d" style="left:223.73px;top:72.1px;width:9.53px;height:7.2px;line-height:7.2px">3</div>
<div class="t b d" style="left:233.26px;top:72.1px;width:9.53px;height:7.2px;line-height:7.2px">3</div>
<div class="t b d" style="left:242.78px;top:72.1px;width:9.53px;height:7.2px;line-height:7.2px">3</div>
<div class="t b d" style="left:252.31px;top:72.1px;width:9.53px;height:7.2px;line-height:7.2px">3</div>
<div class="t b d" style="left:261.83px;top:72.1px;width:9.53px;height:7.2px;line-height:7.2px">3</div>
<div class="t b d" style="left:271.36px;top:72.1px;width:9.53px;height:7.2px;line-height:7.2px">3</div>
<div class="t b d" style="left:280.88px;top:72.1px;width:9.53px;height:7.2px;line-height:7.2px">3</div>
<div class="t b d" style="left:290.41px;top:72.1px;width:9.53px;height:7.2px;line-height:7.2px">3</div>
<div class="t b d" style="left:299.93px;top:72.1px;width:9.53px;height:7.2px;line-height:7.2px">3</div>
<div class="t b d" style="left:309.46px;top:72.1px;width:9.53px;height:7.2px;line-height:7.2px">3</div>
<div class="t b d" style="left:318.99px;top:72.1px;width:9.53px;height:7.2px;line-height:7.2px">3</div>
<div class="t b d" style="left:328.51px;top:72.1px;width:9.53px;height:7.2px;line-height:7.2px">3</div>
<div class="t b d" style="left:338.04px;top:72.1px;width:9.53px;height:7.2px;line-height:7.2px">3</div>
<div class="t b d" style="left:347.56px;top:72.1px;width:9.53px;height:7.2px;line-height:7.2px">3</div>
<div class="t b d" style="left:357.09px;top:72.1px;width:9.53px;height:7.2px;line-height:7.2px">3</div>
<div style="position:absolute;left:365.61px;top:71.2px;width:9.53px;height:7.2px;background:#14e614"></div>
<div class="t b d" style="left:366.61px;top:72.1px;width:9.53px;height:7.2px;line-height:7.2px">2</div>
<div class="t b d" style="left:376.14px;top:72.1px;width:9.53px;height:7.2px;line-height:7.2px">3</div>
<div class="t b d" style="left:385.67px;top:72.1px;width:9.53px;height:7.2px;line-height:7.2px">3</div>
<div class="t b d" style="left:395.19px;top:72.1px;width:9.53px;height:7.2px;line-height:7.2px">3</div>
<div class="t b d" style="left:404.72px;top:72.1px;width:9.53px;height:7.2px;line-height:7.2px">3</div>
<div class="t b d" style="left:414.24px;top:72.1px;width:9.53px;height:7.2px;line-height:7.2px">3</div>
<div class="t b d" style="left:423.77px;top:72.1px;width:9.53px;height:7.2px;line-height:7.2px">3</div>
<div class="t b d" style="left:433.29px;top:72.1px;width:9.53px;height:7.2px;line-height:7.2px">3</div>
<div style="position:absolute;left:441.82px;top:71.2px;width:9.53px;height:7.2px;background:#14e614"></div>
<div class="t b d" style="left:442.82px;top:72.1px;width:9.53px;height:7.2px;line-height:7.2px">2</div>
<div class="t b d" style="left:452.34px;top:72.1px;width:9.53px;height:7.2px;line-height:7.2px">3</div>
<div style="position:absolute;left:460.87px;top:71.2px;width:9.53px;height:7.2px;background:#14e614"></div>
<div class="t b d" style="left:461.87px;top:72.1px;width:9.53px;height:7.2px;line-height:7.2px">2</div>
<div style="position:absolute;left:470.4px;top:71.2px;width:9.53px;height:7.2px;background:#14e614"></div>
<div class="t b d" style="left:471.4px;top:72.1px;width:9.53px;height:7.2px;line-height:7.2px">2</div>
<div class="t b d" style="left:480.92px;top:72.1px;width:9.53px;height:7.2px;line-height:7.2px">3</div>
<div class="t b d" style="left:490.45px;top:72.1px;width:9.53px;height:7.2px;line-height:7.2px">3</div>
<div style="position:absolute;left:498.97px;top:71.2px;width:9.53px;height:7.2px;background:#14e614"></div>
<div class="t b d" style="left:499.97px;top:72.1px;width:9.53px;height:7.2px;line-height:7.2px">2</div>
<div class="t b d" style="left:509.5px;top:72.1px;width:9.53px;height:7.2px;line-height:7.2px">3</div>
<div class="t b d" style="left:519.02px;top:72.1px;width:9.53px;height:7.2px;line-height:7.2px">3</div>
<div class="t b d" style="left:528.55px;top:72.1px;width:9.53px;height:7.2px;line-height:7.2px">3</div>
<div class="t b d" style="left:538.07px;top:72.1px;width:9.53px;height:7.2px;line-height:7.2px">3</div>
<div class="t b" style="left:27.6px;top:79px;height:7.2px;line-height:7.2px;font-size:5.42px">angioimmunoblastic T-cell lymphoma</div>
<div class="t b d" style="left:138px;top:79.3px;width:9.53px;height:7.2px;line-height:7.2px">3</div>
<div class="t b d" style="left:147.53px;top:79.3px;width:9.53px;height:7.2px;line-height:7.2px">3</div>
<div class="t b d" style="left:157.05px;top:79.3px;width:9.53px;height:7.2px;line-height:7.2px">3</div>
<div class="t b d" style="left:166.58px;top:79.3px;width:9.53px;height:7.2px;line-height:7.2px">3</div>
<div class="t b d" style="left:176.1px;top:79.3px;width:9.53px;height:7.2px;line-height:7.2px">3</div>
<div class="t b d" style="left:185.63px;top:79.3px;width:9.53px;height:7.2px;line-height:7.2px">3</div>
<div class="t b d" style="left:195.15px;top:79.3px;width:9.53px;height:7.2px;line-height:7.2px">3</div>
<div class="t b d" style="left:204.68px;top:79.3px;width:9.53px;height:7.2px;line-height:7.2px">3</div>
<div class="t b d" style="left:214.2px;top:79.3px;width:9.53px;height:7.2px;line-height:7.2px">3</div>
<div class="t b d" style="left:223.73px;top:79.3px;width:9.53px;height:7.2px;line-height:7.2px">3</div>
<div class="t b d" style="left:233.26px;top:79.3px;width:9.53px;height:7.2px;line-height:7.2px">3</div>
<div class="t b d" style="left:242.78px;top:79.3px;width:9.53px;height:7.2px;line-height:7.2px">3</div>
<div class="t b d" style="left:252.31px;top:79.3px;width:9.53px;height:7.2px;line-height:7.2px">3</div>
<div style="position:absolute;left:260.83px;top:78.4px;width:9.53px;height:7.2px;background:#f2a2a2"></div>
<div class="t b d" style="left:261.83px;top:79.3px;width:9.53px;height:7.2px;line-height:7.2px">4</div>
<div style="position:absolute;left:270.36px;top:78.4px;width:9.53px;height:7.2px;background:#f2a2a2"></div>
<div class="t b d" style="left:271.36px;top:79.3px;width:9.53px;height:7.2px;line-height:7.2px">4</div>
<div class="t b d" style="left:280.88px;top:79.3px;width:9.53px;height:7.2px;line-height:7.2px">3</div>
<div class="t b d" style="left:290.41px;top:79.3px;width:9.53px;height:7.2px;line-height:7.2px">3</div>
<div class="t b d" style="left:299.93px;top:79.3px;width:9.53px;height:7.2px;line-height:7.2px">3</div>
<div class="t b d" style="left:309.46px;top:79.3px;width:9.53px;height:7.2px;line-height:7.2px">3</div>
<div class="t b d" style="left:318.99px;top:79.3px;width:9.53px;height:7.2px;line-height:7.2px">3</div>
<div class="t b d" style="left:328.51px;top:79.3px;width:9.53px;height:7.2px;line-height:7.2px">3</div>
<div class="t b d" style="left:338.04px;top:79.3px;width:9.53px;height:7.2px;line-height:7.2px">3</div>
<div class="t b d" style="left:347.56px;top:79.3px;width:9.53px;height:7.2px;line-height:7.2px">3</div>
<div class="t b d" style="left:357.09px;top:79.3px;width:9.53px;height:7.2px;line-height:7.2px">3</div>
<div class="t b d" style="left:366.61px;top:79.3px;width:9.53px;height:7.2px;line-height:7.2px">3</div>
<div class="t b d" style="left:376.14px;top:79.3px;width:9.53px;height:7.2px;line-height:7.2px">3</div>
<div class="t b d" style="left:385.67px;top:79.3px;width:9.53px;height:7.2px;line-height:7.2px">3</div>
<div class="t b d" style="left:395.19px;top:79.3px;width:9.53px;height:7.2px;line-height:7.2px">3</div>
<div class="t b d" style="left:404.72px;top:79.3px;width:9.53px;height:7.2px;line-height:7.2px">3</div>
<div class="t b d" style="left:414.24px;top:79.3px;width:9.53px;height:7.2px;line-height:7.2px">3</div>
<div class="t b d" style="left:423.77px;top:79.3px;width:9.53px;height:7.2px;line-height:7.2px">3</div>
<div class="t b d" style="left:433.29px;top:79.3px;width:9.53px;height:7.2px;line-height:7.2px">3</div>
<div class="t b d" style="left:442.82px;top:79.3px;width:9.53px;height:7.2px;line-height:7.2px">3</div>
<div class="t b d" style="left:452.34px;top:79.3px;width:9.53px;height:7.2px;line-height:7.2px">3</div>
<div class="t b d" style="left:461.87px;top:79.3px;width:9.53px;height:7.2px;line-height:7.2px">3</div>
<div style="position:absolute;left:470.4px;top:78.4px;width:9.53px;height:7.2px;background:#14e614"></div>
<div class="t b d" style="left:471.4px;top:79.3px;width:9.53px;height:7.2px;line-height:7.2px">2</div>
<div class="t b d" style="left:480.92px;top:79.3px;width:9.53px;height:7.2px;line-height:7.2px">3</div>
<div class="t b d" style="left:490.45px;top:79.3px;width:9.53px;height:7.2px;line-height:7.2px">3</div>
<div class="t b d" style="left:499.97px;top:79.3px;width:9.53px;height:7.2px;line-height:7.2px">3</div>
<div style="position:absolute;left:508.5px;top:78.4px;width:9.53px;height:7.2px;background:#14e614"></div>
<div class="t b d" style="left:509.5px;top:79.3px;width:9.53px;height:7.2px;line-height:7.2px">2</div>
<div class="t b d" style="left:519.02px;top:79.3px;width:9.53px;height:7.2px;line-height:7.2px">3</div>
<div class="t b d" style="left:528.55px;top:79.3px;width:9.53px;height:7.2px;line-height:7.2px">3</div>
<div class="t b d" style="left:538.07px;top:79.3px;width:9.53px;height:7.2px;line-height:7.2px">3</div>
<div class="t b" style="left:27.6px;top:86.2px;height:7.2px;line-height:7.2px;font-size:5.42px">Hodkins lymphoma</div>
<div class="t b d" style="left:138px;top:86.5px;width:9.53px;height:7.2px;line-height:7.2px">3</div>
<div class="t b d" style="left:147.53px;top:86.5px;width:9.53px;height:7.2px;line-height:7.2px">3</div>
<div class="t b d" style="left:157.05px;top:86.5px;width:9.53px;height:7.2px;line-height:7.2px">3</div>
<div class="t b d" style="left:166.58px;top:86.5px;width:9.53px;height:7.2px;line-height:7.2px">3</div>
<div class="t b d" style="left:176.1px;top:86.5px;width:9.53px;height:7.2px;line-height:7.2px">3</div>
<div class="t b d" style="left:185.63px;top:86.5px;width:9.53px;height:7.2px;line-height:7.2px">3</div>
<div class="t b d" style="left:195.15px;top:86.5px;width:9.53px;height:7.2px;line-height:7.2px">3</div>
<div class="t b d" style="left:204.68px;top:86.5px;width:9.53px;height:7.2px;line-height:7.2px">3</div>
<div class="t b d" style="left:214.2px;top:86.5px;width:9.53px;height:7.2px;line-height:7.2px">3</div>
<div class="t b d" style="left:223.73px;top:86.5px;width:9.53px;height:7.2px;line-height:7.2px">3</div>
<div class="t b d" style="left:233.26px;top:86.5px;width:9.53px;height:7.2px;line-height:7.2px">3</div>
<div class="t b d" style="left:242.78px;top:86.5px;width:9.53px;height:7.2px;line-height:7.2px">3</div>
<div class="t b d" style="left:252.31px;top:86.5px;width:9.53px;height:7.2px;line-height:7.2px">3</div>
<div class="t b d" style="left:261.83px;top:86.5px;width:9.53px;height:7.2px;line-height:7.2px">3</div>
<div class="t b d" style="left:271.36px;top:86.5px;width:9.53px;height:7.2px;line-height:7.2px">3</div>
<div style="position:absolute;left:279.88px;top:85.6px;width:9.53px;height:7.2px;background:#14e614"></div>
<div class="t b d" style="left:280.88px;top:86.5px;width:9.53px;height:7.2px;line-height:7.2px">2</div>
<div class="t b d" style="left:290.41px;top:86.5px;width:9.53px;height:7.2px;line-height:7.2px">3</div>
<div class="t b d" style="left:299.93px;top:86.5px;width:9.53px;height:7.2px;line-height:7.2px">3</div>
<div class="t b d" style="left:309.46px;top:86.5px;width:9.53px;height:7.2px;line-height:7.2px">3</div>
<div class="t b d" style="left:318.99px;top:86.5px;width:9.53px;height:7.2px;line-height:7.2px">3</div>
<div class="t b d" style="left:328.51px;top:86.5px;width:9.53px;height:7.2px;line-height:7.2px">3</div>
<div style="position:absolute;left:337.04px;top:85.6px;width:9.53px;height:7.2px;background:#f21414"></div>
<div class="t b d" style="left:338.04px;top:86.5px;width:9.53px;height:7.2px;line-height:7.2px">5</div>
<div class="t b d" style="left:347.56px;top:86.5px;width:9.53px;height:7.2px;line-height:7.2px">3</div>
<div class="t b d" style="left:357.09px;top:86.5px;width:9.53px;height:7.2px;line-height:7.2px">3</div>
<div style="position:absolute;left:365.61px;top:85.6px;width:9.53px;height:7.2px;background:#f2a2a2"></div>
<div class="t b d" style="left:366.61px;top:86.5px;width:9.53px;height:7.2px;line-height:7.2px">4</div>
<div class="t b d" style="left:376.14px;top:86.5px;width:9.53px;height:7.2px;line-height:7.2px">3</div>
<div class="t b d" style="left:385.67px;top:86.5px;width:9.53px;height:7.2px;line-height:7.2px">3</div>
<div class="t b d" style="left:395.19px;top:86.5px;width:9.53px;height:7.2px;line-height:7.2px">3</div>
<div class="t b d" style="left:404.72px;top:86.5px;width:9.53px;height:7.2px;line-height:7.2px">3</div>
<div class="t b d" style="left:414.24px;top:86.5px;width:9.53px;height:7.2px;line-height:7.2px">3</div>
<div class="t b d" style="left:423.77px;top:86.5px;width:9.53px;height:7.2px;line-height:7.2px">3</div>
<div style="position:absolute;left:432.29px;top:85.6px;width:9.53px;height:7.2px;background:#0c770c"></div>
<div class="t b d" style="left:433.29px;top:86.5px;width:9.53px;height:7.2px;line-height:7.2px">1</div>
<div style="position:absolute;left:441.82px;top:85.6px;width:9.53px;height:7.2px;background:#f2a2a2"></div>
<div class="t b d" style="left:442.82px;top:86.5px;width:9.53px;height:7.2px;line-height:7.2px">4</div>
<div class="t b d" style="left:452.34px;top:86.5px;width:9.53px;height:7.2px;line-height:7.2px">3</div>
<div class="t b d" style="left:461.87px;top:86.5px;width:9.53px;height:7.2px;line-height:7.2px">3</div>
<div style="position:absolute;left:470.4px;top:85.6px;width:9.53px;height:7.2px;background:#0c770c"></div>
<div class="t b d" style="left:471.4px;top:86.5px;width:9.53px;height:7.2px;line-height:7.2px">1</div>
<div style="position:absolute;left:479.92px;top:85.6px;width:9.53px;height:7.2px;background:#f2a2a2"></div>
<div class="t b d" style="left:480.92px;top:86.5px;width:9.53px;height:7.2px;line-height:7.2px">4</div>
<div class="t b d" style="left:490.45px;top:86.5px;width:9.53px;height:7.2px;line-height:7.2px">3</div>
<div style="position:absolute;left:498.97px;top:85.6px;width:9.53px;height:7.2px;background:#f2a2a2"></div>
<div class="t b d" style="left:499.97px;top:86.5px;width:9.53px;height:7.2px;line-height:7.2px">4</div>
<div class="t b d" style="left:509.5px;top:86.5px;width:9.53px;height:7.2px;line-height:7.2px">3</div>
<div class="t b d" style="left:519.02px;top:86.5px;width:9.53px;height:7.2px;line-height:7.2px">3</div>
<div class="t b d" style="left:528.55px;top:86.5px;width:9.53px;height:7.2px;line-height:7.2px">3</div>
<div class="t b d" style="left:538.07px;top:86.5px;width:9.53px;height:7.2px;line-height:7.2px">3</div>
<div class="t b" style="left:27.6px;top:93.4px;height:7.2px;line-height:7.2px;font-size:5.42px">B-cell lymphoma</div>
<div class="t b d" style="left:138px;top:93.7px;width:9.53px;height:7.2px;line-height:7.2px">3</div>
<div style="position:absolute;left:146.53px;top:92.8px;width:9.53px;height:7.2px;background:#0c770c"></div>
<div class="t b d" style="left:147.53px;top:93.7px;width:9.53px;height:7.2px;line-height:7.2px">1</div>
<div class="t b d" style="left:157.05px;top:93.7px;width:9.53px;height:7.2px;line-height:7.2px">3</div>
<div class="t b d" style="left:166.58px;top:93.7px;width:9.53px;height:7.2px;line-height:7.2px">3</div>
<div class="t b d" style="left:176.1px;top:93.7px;width:9.53px;height:7.2px;line-height:7.2px">3</div>
<div style="position:absolute;left:184.63px;top:92.8px;width:9.53px;height:7.2px;background:#14e614"></div>
<div class="t b d" style="left:185.63px;top:93.7px;width:9.53px;height:7.2px;line-height:7.2px">2</div>
<div style="position:absolute;left:194.15px;top:92.8px;width:9.53px;height:7.2px;background:#0c770c"></div>
<div class="t b d" style="left:195.15px;top:93.7px;width:9.53px;height:7.2px;line-height:7.2px">1</div>
<div style="position:absolute;left:203.68px;top:92.8px;width:9.53px;height:7.2px;background:#0c770c"></div>
<div class="t b d" style="left:204.68px;top:93.7px;width:9.53px;height:7.2px;line-height:7.2px">1</div>
<div style="position:absolute;left:213.2px;top:92.8px;width:9.53px;height:7.2px;background:#f2a2a2"></div>
<div class="t b d" style="left:214.2px;top:93.7px;width:9.53px;height:7.2px;line-height:7.2px">4</div>
<div style="position:absolute;left:222.73px;top:92.8px;width:9.53px;height:7.2px;background:#f21414"></div>
<div class="t b d" style="left:223.73px;top:93.7px;width:9.53px;height:7.2px;line-height:7.2px">5</div>
<div class="t b d" style="left:233.26px;top:93.7px;width:9.53px;height:7.2px;line-height:7.2px">3</div>
<div style="position:absolute;left:241.78px;top:92.8px;width:9.53px;height:7.2px;background:#0c770c"></div>
<div class="t b d" style="left:242.78px;top:93.7px;width:9.53px;height:7.2px;line-height:7.2px">1</div>
<div style="position:absolute;left:251.31px;top:92.8px;width:9.53px;height:7.2px;background:#f21414"></div>
<div class="t b d" style="left:252.31px;top:93.7px;width:9.53px;height:7.2px;line-height:7.2px">5</div>
<div style="position:absolute;left:260.83px;top:92.8px;width:9.53px;height:7.2px;background:#0c770c"></div>
<div class="t b d" style="left:261.83px;top:93.7px;width:9.53px;height:7.2px;line-height:7.2px">1</div>
<div style="position:absolute;left:270.36px;top:92.8px;width:9.53px;height:7.2px;background:#0c770c"></div>
<div class="t b d" style="left:271.36px;top:93.7px;width:9.53px;height:7.2px;line-height:7.2px">1</div>
<div style="position:absolute;left:279.88px;top:92.8px;width:9.53px;height:7.2px;background:#0c770c"></div>
<div class="t b d" style="left:280.88px;top:93.7px;width:9.53px;height:7.2px;line-height:7.2px">1</div>
<div style="position:absolute;left:289.41px;top:92.8px;width:9.53px;height:7.2px;background:#f2a2a2"></div>
<div class="t b d" style="left:290.41px;top:93.7px;width:9.53px;height:7.2px;line-height:7.2px">4</div>
<div style="position:absolute;left:298.93px;top:92.8px;width:9.53px;height:7.2px;background:#14e614"></div>
<div class="t b d" style="left:299.93px;top:93.7px;width:9.53px;height:7.2px;line-height:7.2px">2</div>
<div class="t b d" style="left:309.46px;top:93.7px;width:9.53px;height:7.2px;line-height:7.2px">3</div>
<div class="t b d" style="left:318.99px;top:93.7px;width:9.53px;height:7.2px;line-height:7.2px">3</div>
<div style="position:absolute;left:327.51px;top:92.8px;width:9.53px;height:7.2px;background:#14e614"></div>
<div class="t b d" style="left:328.51px;top:93.7px;width:9.53px;height:7.2px;line-height:7.2px">2</div>
<div style="position:absolute;left:337.04px;top:92.8px;width:9.53px;height:7.2px;background:#0c770c"></div>
<div class="t b d" style="left:338.04px;top:93.7px;width:9.53px;height:7.2px;line-height:7.2px">1</div>
<div style="position:absolute;left:346.56px;top:92.8px;width:9.53px;height:7.2px;background:#0c770c"></div>
<div class="t b d" style="left:347.56px;top:93.7px;width:9.53px;height:7.2px;line-height:7.2px">1</div>
<div class="t b d" style="left:357.09px;top:93.7px;width:9.53px;height:7.2px;line-height:7.2px">3</div>
<div style="position:absolute;left:365.61px;top:92.8px;width:9.53px;height:7.2px;background:#0c770c"></div>
<div class="t b d" style="left:366.61px;top:93.7px;width:9.53px;height:7.2px;line-height:7.2px">1</div>
<div class="t b d" style="left:376.14px;top:93.7px;width:9.53px;height:7.2px;line-height:7.2px">3</div>
<div style="position:absolute;left:384.67px;top:92.8px;width:9.53px;height:7.2px;background:#0c770c"></div>
<div class="t b d" style="left:385.67px;top:93.7px;width:9.53px;height:7.2px;line-height:7.2px">1</div>
<div style="position:absolute;left:394.19px;top:92.8px;width:9.53px;height:7.2px;background:#f21414"></div>
<div class="t b d" style="left:395.19px;top:93.7px;width:9.53px;height:7.2px;line-height:7.2px">5</div>
<div style="position:absolute;left:403.72px;top:92.8px;width:9.53px;height:7.2px;background:#14e614"></div>
<div class="t b d" style="left:404.72px;top:93.7px;width:9.53px;height:7.2px;line-height:7.2px">2</div>
<div class="t b d" style="left:414.24px;top:93.7px;width:9.53px;height:7.2px;line-height:7.2px">3</div>
<div style="position:absolute;left:422.77px;top:92.8px;width:9.53px;height:7.2px;background:#f21414"></div>
<div class="t b d" style="left:423.77px;top:93.7px;width:9.53px;height:7.2px;line-height:7.2px">5</div>
<div style="position:absolute;left:432.29px;top:92.8px;width:9.53px;height:7.2px;background:#f21414"></div>
<div class="t b d" style="left:433.29px;top:93.7px;width:9.53px;height:7.2px;line-height:7.2px">5</div>
<div style="position:absolute;left:441.82px;top:92.8px;width:9.53px;height:7.2px;background:#0c770c"></div>
<div class="t b d" style="left:442.82px;top:93.7px;width:9.53px;height:7.2px;line-height:7.2px">1</div>
<div style="position:absolute;left:451.34px;top:92.8px;width:9.53px;height:7.2px;background:#0c770c"></div>
<div class="t b d" style="left:452.34px;top:93.7px;width:9.53px;height:7.2px;line-height:7.2px">1</div>
<div class="t b d" style="left:461.87px;top:93.7px;width:9.53px;height:7.2px;line-height:7.2px">3</div>
<div class="t b d" style="left:471.4px;top:93.7px;width:9.53px;height:7.2px;line-height:7.2px">3</div>
<div class="t b d" style="left:480.92px;top:93.7px;width:9.53px;height:7.2px;line-height:7.2px">3</div>
<div style="position:absolute;left:489.45px;top:92.8px;width:9.53px;height:7.2px;background:#f21414"></div>
<div class="t b d" style="left:490.45px;top:93.7px;width:9.53px;height:7.2px;line-height:7.2px">5</div>
<div class="t b d" style="left:499.97px;top:93.7px;width:9.53px;height:7.2px;line-height:7.2px">3</div>
<div class="t b d" style="left:509.5px;top:93.7px;width:9.53px;height:7.2px;line-height:7.2px">3</div>
<div class="t b d" style="left:519.02px;top:93.7px;width:9.53px;height:7.2px;line-height:7.2px">3</div>
<div class="t b d" style="left:528.55px;top:93.7px;width:9.53px;height:7.2px;line-height:7.2px">3</div>
<div class="t b d" style="left:538.07px;top:93.7px;width:9.53px;height:7.2px;line-height:7.2px">3</div>
<div style="position:absolute;left:137.0px;top:108.2px;width:10.1px;height:7.2px;background:#0c770c"></div>
<div class="t b d" style="left:138.1px;top:109.1px;width:10px;height:6.8px;line-height:6.8px">1</div>
<div class="t b" style="left:149.7px;top:108.6px;height:6.8px;line-height:6.8px;font-size:4.95px">Low-expression , p&lt;0.0001</div>
<div style="position:absolute;left:213.0px;top:108.2px;width:10.1px;height:7.2px;background:#14e614"></div>
<div class="t b d" style="left:214.1px;top:109.1px;width:10px;height:6.8px;line-height:6.8px">2</div>
<div class="t b" style="left:229.0px;top:108.6px;height:6.8px;line-height:6.8px;font-size:4.95px">Low-expression , 0.0001&lt;p&lt;0.05</div>
<div style="position:absolute;left:308.0px;top:108.2px;width:10.1px;height:7.2px;background:#000"></div>
<div class="t b d" style="left:309.1px;top:109.1px;width:10px;height:6.8px;line-height:6.8px">3</div>
<div class="t b" style="left:319.6px;top:108.6px;height:6.8px;line-height:6.8px;font-size:4.95px">No differentiation</div>
<div style="position:absolute;left:365.0px;top:108.2px;width:10.1px;height:7.2px;background:#f2a2a2"></div>
<div class="t b d" style="left:366.1px;top:109.1px;width:10px;height:6.8px;line-height:6.8px">4</div>
<div class="t b" style="left:380.8px;top:108.6px;height:6.8px;line-height:6.8px;font-size:4.95px">high-expression , 0.0001&lt;p&lt;0.05</div>
<div style="position:absolute;left:460.3px;top:108.2px;width:10.1px;height:7.2px;background:#f21414"></div>
<div class="t b d" style="left:461.4px;top:109.1px;width:10px;height:6.8px;line-height:6.8px">5</div>
<div class="t b" style="left:478.2px;top:108.6px;height:6.8px;line-height:6.8px;font-size:4.95px">high-expression , p&lt;0.0001</div>
<div class="lbl" style="left:4.1px;top:119.8px;font-size:12px">B</div>
<svg width="550" height="289" style="position:absolute;left:0;top:0" font-family="Liberation Sans, Arial, sans-serif">
<rect x="24.5" y="129.5" width="81.5" height="136.9" fill="none" stroke="#333" stroke-width="0.9"/>
<line x1="21" y1="264.3" x2="24.5" y2="264.3" stroke="#333" stroke-width="0.8"/>
<text x="17.9" y="266.6" text-anchor="end" font-size="6.5">0</text>
<line x1="21" y1="240.26" x2="24.5" y2="240.26" stroke="#333" stroke-width="0.8"/>
<text x="17.9" y="242.56" text-anchor="end" font-size="6.5">1</text>
<line x1="21" y1="216.22" x2="24.5" y2="216.22" stroke="#333" stroke-width="0.8"/>
<text x="17.9" y="218.52" text-anchor="end" font-size="6.5">2</text>
<line x1="21" y1="192.18" x2="24.5" y2="192.18" stroke="#333" stroke-width="0.8"/>
<text x="17.9" y="194.48" text-anchor="end" font-size="6.5">3</text>
<line x1="21" y1="168.14" x2="24.5" y2="168.14" stroke="#333" stroke-width="0.8"/>
<text x="17.9" y="170.44" text-anchor="end" font-size="6.5">4</text>
<line x1="21" y1="144.1" x2="24.5" y2="144.1" stroke="#333" stroke-width="0.8"/>
<text x="17.9" y="146.4" text-anchor="end" font-size="6.5">5</text>
<line x1="53" y1="156.12" x2="53" y2="180.16" stroke="#555" stroke-width="0.6" stroke-dasharray="1.2,0.8"/>
<line x1="53" y1="204.92" x2="53" y2="222.47" stroke="#555" stroke-width="0.6" stroke-dasharray="1.2,0.8"/>
<line x1="48" y1="156.12" x2="58" y2="156.12" stroke="#333" stroke-width="0.7"/>
<line x1="48" y1="222.47" x2="58" y2="222.47" stroke="#333" stroke-width="0.7"/>
<rect x="43" y="180.16" width="20" height="24.76" fill="#f00" stroke="#222" stroke-width="0.6"/>
<line x1="43" y1="190.5" x2="63" y2="190.5" stroke="#111" stroke-width="1.1"/>
<circle cx="53.36" cy="193.24" r="0.55" fill="none" stroke="#222" stroke-width="0.3"/>
<circle cx="52.79" cy="163.41" r="0.55" fill="none" stroke="#222" stroke-width="0.3"/>
<circle cx="53.52" cy="190.17" r="0.55" fill="none" stroke="#222" stroke-width="0.3"/>
<circle cx="53.07" cy="209.51" r="0.55" fill="none" stroke="#222" stroke-width="0.3"/>
<circle cx="54.76" cy="185.13" r="0.55" fill="none" stroke="#222" stroke-width="0.3"/>
<circle cx="51.82" cy="215.86" r="0.55" fill="none" stroke="#222" stroke-width="0.3"/>
<circle cx="54.86" cy="216.11" r="0.55" fill="none" stroke="#222" stroke-width="0.3"/>
<circle cx="50.25" cy="182.5" r="0.55" fill="none" stroke="#222" stroke-width="0.3"/>
<circle cx="55.79" cy="157.83" r="0.55" fill="none" stroke="#222" stroke-width="0.3"/>
<circle cx="53.69" cy="184.13" r="0.55" fill="none" stroke="#222" stroke-width="0.3"/>
<circle cx="50.09" cy="211.41" r="0.55" fill="none" stroke="#222" stroke-width="0.3"/>
<circle cx="50.36" cy="189.32" r="0.55" fill="none" stroke="#222" stroke-width="0.3"/>
<circle cx="51.45" cy="209.12" r="0.55" fill="none" stroke="#222" stroke-width="0.3"/>
<circle cx="52.78" cy="220.36" r="0.55" fill="none" stroke="#222" stroke-width="0.3"/>
<circle cx="55.05" cy="193.93" r="0.55" fill="none" stroke="#222" stroke-width="0.3"/>
<circle cx="53.84" cy="189.71" r="0.55" fill="none" stroke="#222" stroke-width="0.3"/>
<circle cx="53.97" cy="190.51" r="0.55" fill="none" stroke="#222" stroke-width="0.3"/>
<circle cx="51.67" cy="192.96" r="0.55" fill="none" stroke="#222" stroke-width="0.3"/>
<circle cx="55.97" cy="156.35" r="0.55" fill="none" stroke="#222" stroke-width="0.3"/>
<circle cx="54.25" cy="171.48" r="0.55" fill="none" stroke="#222" stroke-width="0.3"/>
<circle cx="51.38" cy="201.15" r="0.55" fill="none" stroke="#222" stroke-width="0.3"/>
<circle cx="50.42" cy="202.67" r="0.55" fill="none" stroke="#222" stroke-width="0.3"/>
<circle cx="52.4" cy="178.59" r="0.55" fill="none" stroke="#222" stroke-width="0.3"/>
<circle cx="52.32" cy="170.87" r="0.55" fill="none" stroke="#222" stroke-width="0.3"/>
<circle cx="55.08" cy="160.15" r="0.55" fill="none" stroke="#222" stroke-width="0.3"/>
<circle cx="51.26" cy="222.43" r="0.55" fill="none" stroke="#222" stroke-width="0.3"/>
<circle cx="52.82" cy="164.75" r="0.55" fill="none" stroke="#222" stroke-width="0.3"/>
<circle cx="52.38" cy="158.01" r="0.55" fill="none" stroke="#222" stroke-width="0.3"/>
<circle cx="53.78" cy="217.34" r="0.55" fill="none" stroke="#222" stroke-width="0.3"/>
<circle cx="51.62" cy="177.42" r="0.55" fill="none" stroke="#222" stroke-width="0.3"/>
<circle cx="52" cy="216.35" r="0.55" fill="none" stroke="#222" stroke-width="0.3"/>
<circle cx="54.55" cy="159.57" r="0.55" fill="none" stroke="#222" stroke-width="0.3"/>
<circle cx="51.48" cy="214.19" r="0.55" fill="none" stroke="#222" stroke-width="0.3"/>
<circle cx="50.36" cy="215.38" r="0.55" fill="none" stroke="#222" stroke-width="0.3"/>
<circle cx="51.07" cy="175.64" r="0.55" fill="none" stroke="#222" stroke-width="0.3"/>
<circle cx="52.68" cy="188.05" r="0.55" fill="none" stroke="#222" stroke-width="0.3"/>
<circle cx="54.39" cy="209.08" r="0.55" fill="none" stroke="#222" stroke-width="0.3"/>
<circle cx="53.86" cy="213.28" r="0.55" fill="none" stroke="#222" stroke-width="0.3"/>
<circle cx="52.52" cy="214.29" r="0.55" fill="none" stroke="#222" stroke-width="0.3"/>
<circle cx="51.62" cy="207.53" r="0.55" fill="none" stroke="#222" stroke-width="0.3"/>
<circle cx="54.82" cy="158.92" r="0.55" fill="none" stroke="#222" stroke-width="0.3"/>
<circle cx="55.31" cy="201.8" r="0.55" fill="none" stroke="#222" stroke-width="0.3"/>
<circle cx="52.37" cy="207.68" r="0.55" fill="none" stroke="#222" stroke-width="0.3"/>
<circle cx="53.85" cy="170.12" r="0.55" fill="none" stroke="#222" stroke-width="0.3"/>
<circle cx="55.94" cy="215.43" r="0.55" fill="none" stroke="#222" stroke-width="0.3"/>
<circle cx="51.55" cy="207.5" r="0.55" fill="none" stroke="#222" stroke-width="0.3"/>
<circle cx="51.97" cy="177.98" r="0.55" fill="none" stroke="#222" stroke-width="0.3"/>
<line x1="78.1" y1="182.08" x2="78.1" y2="216.94" stroke="#555" stroke-width="0.6" stroke-dasharray="1.2,0.8"/>
<line x1="78.1" y1="244.35" x2="78.1" y2="261.42" stroke="#555" stroke-width="0.6" stroke-dasharray="1.2,0.8"/>
<line x1="73.05" y1="182.08" x2="83.15" y2="182.08" stroke="#333" stroke-width="0.7"/>
<line x1="73.05" y1="261.42" x2="83.15" y2="261.42" stroke="#333" stroke-width="0.7"/>
<rect x="68" y="216.94" width="20.2" height="27.41" fill="#00f" stroke="#222" stroke-width="0.6"/>
<line x1="68" y1="231.37" x2="88.2" y2="231.37" stroke="#111" stroke-width="1.1"/>
<circle cx="79.2" cy="232.69" r="0.55" fill="none" stroke="#222" stroke-width="0.3"/>
<circle cx="75.6" cy="221.76" r="0.55" fill="none" stroke="#222" stroke-width="0.3"/>
<circle cx="77.22" cy="260.67" r="0.55" fill="none" stroke="#222" stroke-width="0.3"/>
<circle cx="80.27" cy="243.1" r="0.55" fill="none" stroke="#222" stroke-width="0.3"/>
<circle cx="78.81" cy="220.37" r="0.55" fill="none" stroke="#222" stroke-width="0.3"/>
<circle cx="79.23" cy="228.01" r="0.55" fill="none" stroke="#222" stroke-width="0.3"/>
<circle cx="77.68" cy="251.49" r="0.55" fill="none" stroke="#222" stroke-width="0.3"/>
<circle cx="80.94" cy="250.34" r="0.55" fill="none" stroke="#222" stroke-width="0.3"/>
<circle cx="80.33" cy="257.4" r="0.55" fill="none" stroke="#222" stroke-width="0.3"/>
<circle cx="79.41" cy="256.32" r="0.55" fill="none" stroke="#222" stroke-width="0.3"/>
<circle cx="77.43" cy="239.83" r="0.55" fill="none" stroke="#222" stroke-width="0.3"/>
<circle cx="74.73" cy="204.06" r="0.55" fill="none" stroke="#222" stroke-width="0.3"/>
<circle cx="81.01" cy="257.27" r="0.55" fill="none" stroke="#222" stroke-width="0.3"/>
<circle cx="75.24" cy="230.85" r="0.55" fill="none" stroke="#222" stroke-width="0.3"/>
<circle cx="81.23" cy="183.88" r="0.55" fill="none" stroke="#222" stroke-width="0.3"/>
<circle cx="77.56" cy="253.73" r="0.55" fill="none" stroke="#222" stroke-width="0.3"/>
<circle cx="76.79" cy="252.19" r="0.55" fill="none" stroke="#222" stroke-width="0.3"/>
<circle cx="75.74" cy="224.36" r="0.55" fill="none" stroke="#222" stroke-width="0.3"/>
<circle cx="74.96" cy="220.01" r="0.55" fill="none" stroke="#222" stroke-width="0.3"/>
<circle cx="80.31" cy="249.73" r="0.55" fill="none" stroke="#222" stroke-width="0.3"/>
<circle cx="77.53" cy="236.53" r="0.55" fill="none" stroke="#222" stroke-width="0.3"/>
<circle cx="77.94" cy="225.83" r="0.55" fill="none" stroke="#222" stroke-width="0.3"/>
<circle cx="74.81" cy="237.36" r="0.55" fill="none" stroke="#222" stroke-width="0.3"/>
<circle cx="81.37" cy="218.31" r="0.55" fill="none" stroke="#222" stroke-width="0.3"/>
<circle cx="79.25" cy="185.39" r="0.55" fill="none" stroke="#222" stroke-width="0.3"/>
<circle cx="77.14" cy="238.82" r="0.55" fill="none" stroke="#222" stroke-width="0.3"/>
<circle cx="79.32" cy="220.4" r="0.55" fill="none" stroke="#222" stroke-width="0.3"/>
<circle cx="76.24" cy="253.64" r="0.55" fill="none" stroke="#222" stroke-width="0.3"/>
<circle cx="78.18" cy="238.46" r="0.55" fill="none" stroke="#222" stroke-width="0.3"/>
<circle cx="78.1" cy="208.56" r="0.55" fill="none" stroke="#222" stroke-width="0.3"/>
<circle cx="80.36" cy="259.49" r="0.55" fill="none" stroke="#222" stroke-width="0.3"/>
<circle cx="78.23" cy="234.99" r="0.55" fill="none" stroke="#222" stroke-width="0.3"/>
<circle cx="77.59" cy="246.25" r="0.55" fill="none" stroke="#222" stroke-width="0.3"/>
<circle cx="80" cy="237.17" r="0.55" fill="none" stroke="#222" stroke-width="0.3"/>
<circle cx="78.45" cy="254.41" r="0.55" fill="none" stroke="#222" stroke-width="0.3"/>
<circle cx="79.47" cy="249.26" r="0.55" fill="none" stroke="#222" stroke-width="0.3"/>
<circle cx="76.54" cy="258.9" r="0.55" fill="none" stroke="#222" stroke-width="0.3"/>
<circle cx="79.06" cy="239.46" r="0.55" fill="none" stroke="#222" stroke-width="0.3"/>
<circle cx="77.81" cy="257.86" r="0.55" fill="none" stroke="#222" stroke-width="0.3"/>
<circle cx="76.57" cy="247.16" r="0.55" fill="none" stroke="#222" stroke-width="0.3"/>
<circle cx="81.31" cy="232.6" r="0.55" fill="none" stroke="#222" stroke-width="0.3"/>
<circle cx="81.29" cy="232.35" r="0.55" fill="none" stroke="#222" stroke-width="0.3"/>
<circle cx="81.07" cy="249.98" r="0.55" fill="none" stroke="#222" stroke-width="0.3"/>
<circle cx="75.92" cy="238.42" r="0.55" fill="none" stroke="#222" stroke-width="0.3"/>
<circle cx="80.98" cy="217.03" r="0.55" fill="none" stroke="#222" stroke-width="0.3"/>
<circle cx="76.48" cy="260.96" r="0.55" fill="none" stroke="#222" stroke-width="0.3"/>
<circle cx="76.99" cy="214.06" r="0.55" fill="none" stroke="#222" stroke-width="0.3"/>
<circle cx="74.66" cy="244.92" r="0.55" fill="none" stroke="#222" stroke-width="0.3"/>
<circle cx="78.93" cy="258.68" r="0.55" fill="none" stroke="#222" stroke-width="0.3"/>
<circle cx="81.59" cy="184.34" r="0.55" fill="none" stroke="#222" stroke-width="0.3"/>
<circle cx="74.77" cy="231.16" r="0.55" fill="none" stroke="#222" stroke-width="0.3"/>
<circle cx="80.11" cy="240.58" r="0.55" fill="none" stroke="#222" stroke-width="0.3"/>
<circle cx="79.08" cy="205.51" r="0.55" fill="none" stroke="#222" stroke-width="0.3"/>
<circle cx="78.29" cy="245.75" r="0.55" fill="none" stroke="#222" stroke-width="0.3"/>
<circle cx="78.99" cy="232.54" r="0.55" fill="none" stroke="#222" stroke-width="0.3"/>
<circle cx="81.23" cy="243.69" r="0.55" fill="none" stroke="#222" stroke-width="0.3"/>
<circle cx="75.74" cy="196.82" r="0.55" fill="none" stroke="#222" stroke-width="0.3"/>
<circle cx="80.71" cy="242.2" r="0.55" fill="none" stroke="#222" stroke-width="0.3"/>
<circle cx="81.21" cy="242.88" r="0.55" fill="none" stroke="#222" stroke-width="0.3"/>
<circle cx="79.47" cy="230.49" r="0.55" fill="none" stroke="#222" stroke-width="0.3"/>
<circle cx="76.1" cy="219.56" r="0.55" fill="none" stroke="#222" stroke-width="0.3"/>
<circle cx="76.38" cy="242.53" r="0.55" fill="none" stroke="#222" stroke-width="0.3"/>
<circle cx="79.46" cy="220.79" r="0.55" fill="none" stroke="#222" stroke-width="0.3"/>
<circle cx="80.81" cy="252.42" r="0.55" fill="none" stroke="#222" stroke-width="0.3"/>
<circle cx="76.29" cy="235.5" r="0.55" fill="none" stroke="#222" stroke-width="0.3"/>
<circle cx="81.46" cy="234.73" r="0.55" fill="none" stroke="#222" stroke-width="0.3"/>
<circle cx="78.97" cy="227.91" r="0.55" fill="none" stroke="#222" stroke-width="0.3"/>
<circle cx="81.33" cy="193.25" r="0.55" fill="none" stroke="#222" stroke-width="0.3"/>
<circle cx="77.52" cy="215.49" r="0.55" fill="none" stroke="#222" stroke-width="0.3"/>
<circle cx="80.91" cy="226.26" r="0.55" fill="none" stroke="#222" stroke-width="0.3"/>
<circle cx="78.66" cy="211.47" r="0.55" fill="none" stroke="#222" stroke-width="0.3"/>
<circle cx="77.18" cy="239.29" r="0.55" fill="none" stroke="#222" stroke-width="0.3"/>
<circle cx="78.54" cy="217.76" r="0.55" fill="none" stroke="#222" stroke-width="0.3"/>
<circle cx="79.57" cy="260.25" r="0.55" fill="none" stroke="#222" stroke-width="0.3"/>
<circle cx="80.18" cy="195.5" r="0.55" fill="none" stroke="#222" stroke-width="0.3"/>
<circle cx="80.97" cy="196.38" r="0.55" fill="none" stroke="#222" stroke-width="0.3"/>
<circle cx="80.12" cy="229.35" r="0.55" fill="none" stroke="#222" stroke-width="0.3"/>
<circle cx="75.29" cy="237.62" r="0.55" fill="none" stroke="#222" stroke-width="0.3"/>
<circle cx="76.78" cy="238.99" r="0.55" fill="none" stroke="#222" stroke-width="0.3"/>
<circle cx="79.42" cy="191.28" r="0.55" fill="none" stroke="#222" stroke-width="0.3"/>
<circle cx="78.95" cy="228.96" r="0.55" fill="none" stroke="#222" stroke-width="0.3"/>
<circle cx="78.34" cy="252.9" r="0.55" fill="none" stroke="#222" stroke-width="0.3"/>
<circle cx="77.36" cy="219.79" r="0.55" fill="none" stroke="#222" stroke-width="0.3"/>
<circle cx="77.45" cy="244.64" r="0.55" fill="none" stroke="#222" stroke-width="0.3"/>
<circle cx="79.4" cy="240.53" r="0.55" fill="none" stroke="#222" stroke-width="0.3"/>
<circle cx="75.23" cy="251.73" r="0.55" fill="none" stroke="#222" stroke-width="0.3"/>
<circle cx="79.47" cy="241.1" r="0.55" fill="none" stroke="#222" stroke-width="0.3"/>
<circle cx="79.22" cy="215.6" r="0.55" fill="none" stroke="#222" stroke-width="0.3"/>
<circle cx="77.16" cy="191.19" r="0.55" fill="none" stroke="#222" stroke-width="0.3"/>
<circle cx="78.01" cy="259.38" r="0.55" fill="none" stroke="#222" stroke-width="0.3"/>
<circle cx="75.86" cy="234.29" r="0.55" fill="none" stroke="#222" stroke-width="0.3"/>
<circle cx="76.99" cy="221.71" r="0.55" fill="none" stroke="#222" stroke-width="0.3"/>
<circle cx="76.89" cy="245.14" r="0.55" fill="none" stroke="#222" stroke-width="0.3"/>
<circle cx="74.65" cy="189.92" r="0.55" fill="none" stroke="#222" stroke-width="0.3"/>
<circle cx="76.56" cy="238.62" r="0.55" fill="none" stroke="#222" stroke-width="0.3"/>
<circle cx="77.63" cy="247.67" r="0.55" fill="none" stroke="#222" stroke-width="0.3"/>
<circle cx="81.03" cy="246.37" r="0.55" fill="none" stroke="#222" stroke-width="0.3"/>
<circle cx="79.49" cy="231.31" r="0.55" fill="none" stroke="#222" stroke-width="0.3"/>
<circle cx="77.85" cy="250.33" r="0.55" fill="none" stroke="#222" stroke-width="0.3"/>
<circle cx="80.5" cy="225.22" r="0.55" fill="none" stroke="#222" stroke-width="0.3"/>
<circle cx="77.82" cy="244.36" r="0.55" fill="none" stroke="#222" stroke-width="0.3"/>
<circle cx="80.42" cy="202.33" r="0.55" fill="none" stroke="#222" stroke-width="0.3"/>
<circle cx="78.37" cy="245.88" r="0.55" fill="none" stroke="#222" stroke-width="0.3"/>
<circle cx="77.37" cy="215.37" r="0.55" fill="none" stroke="#222" stroke-width="0.3"/>
<circle cx="79.24" cy="221.36" r="0.55" fill="none" stroke="#222" stroke-width="0.3"/>
<circle cx="78.48" cy="185.93" r="0.55" fill="none" stroke="#222" stroke-width="0.3"/>
<circle cx="77.05" cy="220.93" r="0.55" fill="none" stroke="#222" stroke-width="0.3"/>
<circle cx="76.86" cy="217.96" r="0.55" fill="none" stroke="#222" stroke-width="0.3"/>
<circle cx="77.13" cy="231.37" r="0.55" fill="none" stroke="#222" stroke-width="0.3"/>
<circle cx="75.55" cy="241.38" r="0.55" fill="none" stroke="#222" stroke-width="0.3"/>
<circle cx="78.41" cy="246.01" r="0.55" fill="none" stroke="#222" stroke-width="0.3"/>
<circle cx="74.92" cy="244.25" r="0.55" fill="none" stroke="#222" stroke-width="0.3"/>
<circle cx="76.6" cy="209.47" r="0.55" fill="none" stroke="#222" stroke-width="0.3"/>
<circle cx="78.79" cy="190.99" r="0.55" fill="none" stroke="#222" stroke-width="0.3"/>
<circle cx="80.71" cy="237.12" r="0.55" fill="none" stroke="#222" stroke-width="0.3"/>
<circle cx="76.85" cy="196.41" r="0.55" fill="none" stroke="#222" stroke-width="0.3"/>
<circle cx="79.09" cy="252.82" r="0.55" fill="none" stroke="#222" stroke-width="0.3"/>
<circle cx="78.86" cy="204.02" r="0.55" fill="none" stroke="#222" stroke-width="0.3"/>
<circle cx="77.49" cy="212.15" r="0.55" fill="none" stroke="#222" stroke-width="0.3"/>
<circle cx="76.44" cy="224.57" r="0.55" fill="none" stroke="#222" stroke-width="0.3"/>
<circle cx="77.26" cy="236.2" r="0.55" fill="none" stroke="#222" stroke-width="0.3"/>
<circle cx="77.4" cy="237.35" r="0.55" fill="none" stroke="#222" stroke-width="0.3"/>
<circle cx="75.79" cy="208.97" r="0.55" fill="none" stroke="#222" stroke-width="0.3"/>
<circle cx="76.38" cy="247.41" r="0.55" fill="none" stroke="#222" stroke-width="0.3"/>
<circle cx="78.26" cy="186.12" r="0.55" fill="none" stroke="#222" stroke-width="0.3"/>
<circle cx="80.45" cy="257.8" r="0.55" fill="none" stroke="#222" stroke-width="0.3"/>
<circle cx="80.35" cy="199.72" r="0.55" fill="none" stroke="#222" stroke-width="0.3"/>
<circle cx="79.74" cy="238.7" r="0.55" fill="none" stroke="#222" stroke-width="0.3"/>
<circle cx="75.56" cy="241.47" r="0.55" fill="none" stroke="#222" stroke-width="0.3"/>
<circle cx="80.43" cy="200.87" r="0.55" fill="none" stroke="#222" stroke-width="0.3"/>
<circle cx="80.76" cy="247" r="0.55" fill="none" stroke="#222" stroke-width="0.3"/>
<circle cx="76.76" cy="259.74" r="0.55" fill="none" stroke="#222" stroke-width="0.3"/>
<circle cx="75.8" cy="260.53" r="0.55" fill="none" stroke="#222" stroke-width="0.3"/>
<circle cx="79.61" cy="250.27" r="0.55" fill="none" stroke="#222" stroke-width="0.3"/>
<circle cx="75.93" cy="241.93" r="0.55" fill="none" stroke="#222" stroke-width="0.3"/>
<circle cx="76.78" cy="248.85" r="0.55" fill="none" stroke="#222" stroke-width="0.3"/>
<circle cx="78.85" cy="201.3" r="0.55" fill="none" stroke="#222" stroke-width="0.3"/>
<circle cx="79.39" cy="254.43" r="0.55" fill="none" stroke="#222" stroke-width="0.3"/>
<circle cx="77.74" cy="229.27" r="0.55" fill="none" stroke="#222" stroke-width="0.3"/>
<circle cx="79.16" cy="229.77" r="0.55" fill="none" stroke="#222" stroke-width="0.3"/>
<circle cx="78.14" cy="209.87" r="0.55" fill="none" stroke="#222" stroke-width="0.3"/>
<circle cx="77.87" cy="223.54" r="0.55" fill="none" stroke="#222" stroke-width="0.3"/>
<circle cx="77.32" cy="223.63" r="0.55" fill="none" stroke="#222" stroke-width="0.3"/>
<circle cx="78.22" cy="235.79" r="0.55" fill="none" stroke="#222" stroke-width="0.3"/>
<circle cx="76.55" cy="218.96" r="0.55" fill="none" stroke="#222" stroke-width="0.3"/>
<circle cx="78.04" cy="192.56" r="0.55" fill="none" stroke="#222" stroke-width="0.3"/>
<circle cx="79.43" cy="202.23" r="0.55" fill="none" stroke="#222" stroke-width="0.3"/>
<circle cx="79.38" cy="188.17" r="0.55" fill="none" stroke="#222" stroke-width="0.3"/>
<circle cx="77.44" cy="235.16" r="0.55" fill="none" stroke="#222" stroke-width="0.3"/>
<circle cx="79.88" cy="225.15" r="0.55" fill="none" stroke="#222" stroke-width="0.3"/>
<circle cx="75.51" cy="204.52" r="0.55" fill="none" stroke="#222" stroke-width="0.3"/>
<circle cx="75.36" cy="257.16" r="0.55" fill="none" stroke="#222" stroke-width="0.3"/>
<circle cx="75" cy="255.66" r="0.55" fill="none" stroke="#222" stroke-width="0.3"/>
<circle cx="76.35" cy="260.84" r="0.55" fill="none" stroke="#222" stroke-width="0.3"/>
<circle cx="79.4" cy="253.69" r="0.55" fill="none" stroke="#222" stroke-width="0.3"/>
<circle cx="81.36" cy="224.68" r="0.55" fill="none" stroke="#222" stroke-width="0.3"/>
<circle cx="79.83" cy="187.59" r="0.55" fill="none" stroke="#222" stroke-width="0.3"/>
<circle cx="74.8" cy="189.11" r="0.55" fill="none" stroke="#222" stroke-width="0.3"/>
<circle cx="81.08" cy="245.85" r="0.55" fill="none" stroke="#222" stroke-width="0.3"/>
<circle cx="76.05" cy="232.64" r="0.55" fill="none" stroke="#222" stroke-width="0.3"/>
<circle cx="77.56" cy="215.99" r="0.55" fill="none" stroke="#222" stroke-width="0.3"/>
<circle cx="76.81" cy="228.88" r="0.55" fill="none" stroke="#222" stroke-width="0.3"/>
<circle cx="75.21" cy="244.91" r="0.55" fill="none" stroke="#222" stroke-width="0.3"/>
<circle cx="81.27" cy="225.2" r="0.55" fill="none" stroke="#222" stroke-width="0.3"/>
<circle cx="79.96" cy="183.93" r="0.55" fill="none" stroke="#222" stroke-width="0.3"/>
<circle cx="77.14" cy="191.37" r="0.55" fill="none" stroke="#222" stroke-width="0.3"/>
<circle cx="81.06" cy="241.85" r="0.55" fill="none" stroke="#222" stroke-width="0.3"/>
<circle cx="79.28" cy="225.59" r="0.55" fill="none" stroke="#222" stroke-width="0.3"/>
<circle cx="76.2" cy="260.56" r="0.55" fill="none" stroke="#222" stroke-width="0.3"/>
<circle cx="79.72" cy="232.28" r="0.55" fill="none" stroke="#222" stroke-width="0.3"/>
<circle cx="79.9" cy="206.37" r="0.55" fill="none" stroke="#222" stroke-width="0.3"/>
<circle cx="77.27" cy="239.69" r="0.55" fill="none" stroke="#222" stroke-width="0.3"/>
<circle cx="81.53" cy="201.28" r="0.55" fill="none" stroke="#222" stroke-width="0.3"/>
<circle cx="75.96" cy="232.14" r="0.55" fill="none" stroke="#222" stroke-width="0.3"/>
<circle cx="78.35" cy="224.19" r="0.55" fill="none" stroke="#222" stroke-width="0.3"/>
<circle cx="76.21" cy="238.55" r="0.55" fill="none" stroke="#222" stroke-width="0.3"/>
<circle cx="78.89" cy="237.32" r="0.55" fill="none" stroke="#222" stroke-width="0.3"/>
<circle cx="78.39" cy="252.76" r="0.55" fill="none" stroke="#222" stroke-width="0.3"/>
<circle cx="79.81" cy="188.73" r="0.55" fill="none" stroke="#222" stroke-width="0.3"/>
<circle cx="77.53" cy="244.24" r="0.55" fill="none" stroke="#222" stroke-width="0.3"/>
<circle cx="79.76" cy="254.43" r="0.55" fill="none" stroke="#222" stroke-width="0.3"/>
<circle cx="75.81" cy="223.76" r="0.55" fill="none" stroke="#222" stroke-width="0.3"/>
<circle cx="78.77" cy="228.59" r="0.55" fill="none" stroke="#222" stroke-width="0.3"/>
<circle cx="77.25" cy="226.91" r="0.55" fill="none" stroke="#222" stroke-width="0.3"/>
<circle cx="77.08" cy="241.24" r="0.55" fill="none" stroke="#222" stroke-width="0.3"/>
<circle cx="76.91" cy="182.42" r="0.55" fill="none" stroke="#222" stroke-width="0.3"/>
<circle cx="77.82" cy="231.22" r="0.55" fill="none" stroke="#222" stroke-width="0.3"/>
<circle cx="77.4" cy="249.6" r="0.55" fill="none" stroke="#222" stroke-width="0.3"/>
<circle cx="76.86" cy="247.42" r="0.55" fill="none" stroke="#222" stroke-width="0.3"/>
<circle cx="77.05" cy="238.26" r="0.55" fill="none" stroke="#222" stroke-width="0.3"/>
<circle cx="76.68" cy="190.74" r="0.55" fill="none" stroke="#222" stroke-width="0.3"/>
<circle cx="79.2" cy="240.07" r="0.55" fill="none" stroke="#222" stroke-width="0.3"/>
<circle cx="78.21" cy="236.7" r="0.55" fill="none" stroke="#222" stroke-width="0.3"/>
<circle cx="75.12" cy="222.85" r="0.55" fill="none" stroke="#222" stroke-width="0.3"/>
<circle cx="75.31" cy="221.47" r="0.55" fill="none" stroke="#222" stroke-width="0.3"/>
<circle cx="80.27" cy="244.34" r="0.55" fill="none" stroke="#222" stroke-width="0.3"/>
<circle cx="79.32" cy="183.54" r="0.55" fill="none" stroke="#222" stroke-width="0.3"/>
<circle cx="77.67" cy="249.7" r="0.55" fill="none" stroke="#222" stroke-width="0.3"/>
<circle cx="80.49" cy="242.65" r="0.55" fill="none" stroke="#222" stroke-width="0.3"/>
<circle cx="75.97" cy="245.49" r="0.55" fill="none" stroke="#222" stroke-width="0.3"/>
<circle cx="79.06" cy="223.4" r="0.55" fill="none" stroke="#222" stroke-width="0.3"/>
<circle cx="77.95" cy="226.19" r="0.55" fill="none" stroke="#222" stroke-width="0.3"/>
<circle cx="77.81" cy="187.79" r="0.55" fill="none" stroke="#222" stroke-width="0.3"/>
<circle cx="77.34" cy="190.86" r="0.55" fill="none" stroke="#222" stroke-width="0.3"/>
<circle cx="77.12" cy="233.16" r="0.55" fill="none" stroke="#222" stroke-width="0.3"/>
<circle cx="79.86" cy="218.95" r="0.55" fill="none" stroke="#222" stroke-width="0.3"/>
<circle cx="78.28" cy="245.08" r="0.55" fill="none" stroke="#222" stroke-width="0.3"/>
<circle cx="78.11" cy="218.3" r="0.55" fill="none" stroke="#222" stroke-width="0.3"/>
<circle cx="78.91" cy="222" r="0.55" fill="none" stroke="#222" stroke-width="0.3"/>
<circle cx="77.09" cy="219" r="0.55" fill="none" stroke="#222" stroke-width="0.3"/>
<circle cx="74.77" cy="241.41" r="0.55" fill="none" stroke="#222" stroke-width="0.3"/>
<circle cx="80.13" cy="197.37" r="0.55" fill="none" stroke="#222" stroke-width="0.3"/>
<circle cx="81.37" cy="237.06" r="0.55" fill="none" stroke="#222" stroke-width="0.3"/>
<circle cx="75.66" cy="195.69" r="0.55" fill="none" stroke="#222" stroke-width="0.3"/>
<circle cx="77.55" cy="204.86" r="0.55" fill="none" stroke="#222" stroke-width="0.3"/>
<circle cx="76.41" cy="241.01" r="0.55" fill="none" stroke="#222" stroke-width="0.3"/>
<circle cx="74.96" cy="235.84" r="0.55" fill="none" stroke="#222" stroke-width="0.3"/>
<circle cx="75.42" cy="257.97" r="0.55" fill="none" stroke="#222" stroke-width="0.3"/>
<circle cx="75.71" cy="241.37" r="0.55" fill="none" stroke="#222" stroke-width="0.3"/>
<circle cx="80.42" cy="253.1" r="0.55" fill="none" stroke="#222" stroke-width="0.3"/>
<circle cx="78.03" cy="237.61" r="0.55" fill="none" stroke="#222" stroke-width="0.3"/>
<circle cx="81.13" cy="225.52" r="0.55" fill="none" stroke="#222" stroke-width="0.3"/>
<circle cx="76.2" cy="251.44" r="0.55" fill="none" stroke="#222" stroke-width="0.3"/>
<circle cx="80.97" cy="201.55" r="0.55" fill="none" stroke="#222" stroke-width="0.3"/>
<circle cx="78.3" cy="191.59" r="0.55" fill="none" stroke="#222" stroke-width="0.3"/>
<circle cx="75.92" cy="238.27" r="0.55" fill="none" stroke="#222" stroke-width="0.3"/>
<circle cx="79.96" cy="194.54" r="0.55" fill="none" stroke="#222" stroke-width="0.3"/>
<circle cx="80.14" cy="228.38" r="0.55" fill="none" stroke="#222" stroke-width="0.3"/>
<circle cx="78.34" cy="243.79" r="0.55" fill="none" stroke="#222" stroke-width="0.3"/>
<circle cx="75.36" cy="195.11" r="0.55" fill="none" stroke="#222" stroke-width="0.3"/>
<circle cx="75.9" cy="224.59" r="0.55" fill="none" stroke="#222" stroke-width="0.3"/>
<circle cx="80.47" cy="204.7" r="0.55" fill="none" stroke="#222" stroke-width="0.3"/>
<circle cx="77.65" cy="223.05" r="0.55" fill="none" stroke="#222" stroke-width="0.3"/>
<circle cx="78.06" cy="259.95" r="0.55" fill="none" stroke="#222" stroke-width="0.3"/>
<circle cx="77.4" cy="238.68" r="0.55" fill="none" stroke="#222" stroke-width="0.3"/>
<circle cx="81.04" cy="256.11" r="0.55" fill="none" stroke="#222" stroke-width="0.3"/>
<circle cx="78.53" cy="230.09" r="0.55" fill="none" stroke="#222" stroke-width="0.3"/>
<circle cx="80.87" cy="204.07" r="0.55" fill="none" stroke="#222" stroke-width="0.3"/>
<circle cx="78.41" cy="228.5" r="0.55" fill="none" stroke="#222" stroke-width="0.3"/>
<circle cx="77.21" cy="203.41" r="0.55" fill="none" stroke="#222" stroke-width="0.3"/>
<circle cx="74.77" cy="195.97" r="0.55" fill="none" stroke="#222" stroke-width="0.3"/>
<circle cx="78.29" cy="210.51" r="0.55" fill="none" stroke="#222" stroke-width="0.3"/>
<circle cx="81.53" cy="224.3" r="0.55" fill="none" stroke="#222" stroke-width="0.3"/>
<circle cx="77.45" cy="246.4" r="0.55" fill="none" stroke="#222" stroke-width="0.3"/>
<circle cx="79.83" cy="210.02" r="0.55" fill="none" stroke="#222" stroke-width="0.3"/>
<circle cx="80.04" cy="229.97" r="0.55" fill="none" stroke="#222" stroke-width="0.3"/>
<circle cx="80.68" cy="221.14" r="0.55" fill="none" stroke="#222" stroke-width="0.3"/>
<circle cx="77.14" cy="222.7" r="0.55" fill="none" stroke="#222" stroke-width="0.3"/>
<circle cx="75.17" cy="242.44" r="0.55" fill="none" stroke="#222" stroke-width="0.3"/>
<circle cx="74.9" cy="253" r="0.55" fill="none" stroke="#222" stroke-width="0.3"/>
<circle cx="75.58" cy="185.48" r="0.55" fill="none" stroke="#222" stroke-width="0.3"/>
<circle cx="75.54" cy="225.43" r="0.55" fill="none" stroke="#222" stroke-width="0.3"/>
<circle cx="78.33" cy="186.8" r="0.55" fill="none" stroke="#222" stroke-width="0.3"/>
<circle cx="80.39" cy="249.33" r="0.55" fill="none" stroke="#222" stroke-width="0.3"/>
<circle cx="81.45" cy="201.59" r="0.55" fill="none" stroke="#222" stroke-width="0.3"/>
<circle cx="77.42" cy="246.17" r="0.55" fill="none" stroke="#222" stroke-width="0.3"/>
<circle cx="76.58" cy="222.09" r="0.55" fill="none" stroke="#222" stroke-width="0.3"/>
<circle cx="79.51" cy="227.37" r="0.55" fill="none" stroke="#222" stroke-width="0.3"/>
<circle cx="80.37" cy="216.73" r="0.55" fill="none" stroke="#222" stroke-width="0.3"/>
<circle cx="76.6" cy="216.81" r="0.55" fill="none" stroke="#222" stroke-width="0.3"/>
<circle cx="77.64" cy="216.17" r="0.55" fill="none" stroke="#222" stroke-width="0.3"/>
<circle cx="74.75" cy="249.85" r="0.55" fill="none" stroke="#222" stroke-width="0.3"/>
<circle cx="77.11" cy="224.31" r="0.55" fill="none" stroke="#222" stroke-width="0.3"/>
<circle cx="78.03" cy="255" r="0.55" fill="none" stroke="#222" stroke-width="0.3"/>
<circle cx="76.88" cy="235.78" r="0.55" fill="none" stroke="#222" stroke-width="0.3"/>
<circle cx="78.37" cy="227.54" r="0.55" fill="none" stroke="#222" stroke-width="0.3"/>
<circle cx="81.51" cy="229.65" r="0.55" fill="none" stroke="#222" stroke-width="0.3"/>
<circle cx="76.69" cy="195.36" r="0.55" fill="none" stroke="#222" stroke-width="0.3"/>
<circle cx="76.81" cy="199.93" r="0.55" fill="none" stroke="#222" stroke-width="0.3"/>
<circle cx="75" cy="190.87" r="0.55" fill="none" stroke="#222" stroke-width="0.3"/>
<circle cx="81.12" cy="240.81" r="0.55" fill="none" stroke="#222" stroke-width="0.3"/>
<circle cx="79.55" cy="222.05" r="0.55" fill="none" stroke="#222" stroke-width="0.3"/>
<circle cx="75.45" cy="247.46" r="0.55" fill="none" stroke="#222" stroke-width="0.3"/>
<circle cx="75.06" cy="187.7" r="0.55" fill="none" stroke="#222" stroke-width="0.3"/>
<circle cx="77.62" cy="249.44" r="0.55" fill="none" stroke="#222" stroke-width="0.3"/>
<circle cx="79.35" cy="207.29" r="0.55" fill="none" stroke="#222" stroke-width="0.3"/>
<circle cx="80.05" cy="182.3" r="0.55" fill="none" stroke="#222" stroke-width="0.3"/>
<circle cx="80.98" cy="234.62" r="0.55" fill="none" stroke="#222" stroke-width="0.3"/>
<circle cx="74.96" cy="240.89" r="0.55" fill="none" stroke="#222" stroke-width="0.3"/>
<circle cx="80.77" cy="187.74" r="0.55" fill="none" stroke="#222" stroke-width="0.3"/>
<circle cx="77.96" cy="222.12" r="0.55" fill="none" stroke="#222" stroke-width="0.3"/>
<circle cx="76.14" cy="247.5" r="0.55" fill="none" stroke="#222" stroke-width="0.3"/>
<circle cx="75.26" cy="256.81" r="0.55" fill="none" stroke="#222" stroke-width="0.3"/>
<circle cx="80.87" cy="232.45" r="0.55" fill="none" stroke="#222" stroke-width="0.3"/>
<circle cx="78.2" cy="191.53" r="0.55" fill="none" stroke="#222" stroke-width="0.3"/>
<circle cx="77.88" cy="221.35" r="0.55" fill="none" stroke="#222" stroke-width="0.3"/>
<circle cx="79.54" cy="213.29" r="0.55" fill="none" stroke="#222" stroke-width="0.3"/>
<circle cx="80.52" cy="184.19" r="0.55" fill="none" stroke="#222" stroke-width="0.3"/>
<circle cx="78.73" cy="221.1" r="0.55" fill="none" stroke="#222" stroke-width="0.3"/>
<circle cx="77.9" cy="249.9" r="0.55" fill="none" stroke="#222" stroke-width="0.3"/>
<circle cx="75.68" cy="234.08" r="0.55" fill="none" stroke="#222" stroke-width="0.3"/>
<circle cx="77.48" cy="247.65" r="0.55" fill="none" stroke="#222" stroke-width="0.3"/>
<circle cx="78.97" cy="249.41" r="0.55" fill="none" stroke="#222" stroke-width="0.3"/>
<circle cx="81.52" cy="240.3" r="0.55" fill="none" stroke="#222" stroke-width="0.3"/>
<circle cx="78.22" cy="220.74" r="0.55" fill="none" stroke="#222" stroke-width="0.3"/>
<circle cx="77.34" cy="234.8" r="0.55" fill="none" stroke="#222" stroke-width="0.3"/>
<circle cx="81.34" cy="247.73" r="0.55" fill="none" stroke="#222" stroke-width="0.3"/>
<circle cx="79.15" cy="194.13" r="0.55" fill="none" stroke="#222" stroke-width="0.3"/>
<circle cx="75.61" cy="222.71" r="0.55" fill="none" stroke="#222" stroke-width="0.3"/>
<circle cx="75.77" cy="228.97" r="0.55" fill="none" stroke="#222" stroke-width="0.3"/>
<circle cx="78.71" cy="240.49" r="0.55" fill="none" stroke="#222" stroke-width="0.3"/>
<circle cx="76.23" cy="249.8" r="0.55" fill="none" stroke="#222" stroke-width="0.3"/>
<circle cx="77.99" cy="218.07" r="0.55" fill="none" stroke="#222" stroke-width="0.3"/>
<circle cx="75.71" cy="197.47" r="0.55" fill="none" stroke="#222" stroke-width="0.3"/>
<circle cx="81.17" cy="255.37" r="0.55" fill="none" stroke="#222" stroke-width="0.3"/>
<circle cx="79.45" cy="225.09" r="0.55" fill="none" stroke="#222" stroke-width="0.3"/>
<circle cx="75.64" cy="228.12" r="0.55" fill="none" stroke="#222" stroke-width="0.3"/>
<circle cx="78.07" cy="185.18" r="0.55" fill="none" stroke="#222" stroke-width="0.3"/>
<circle cx="75.62" cy="194.75" r="0.55" fill="none" stroke="#222" stroke-width="0.3"/>
<circle cx="78.44" cy="243.04" r="0.55" fill="none" stroke="#222" stroke-width="0.3"/>
<circle cx="80.62" cy="244.51" r="0.55" fill="none" stroke="#222" stroke-width="0.3"/>
<circle cx="75.15" cy="243.79" r="0.55" fill="none" stroke="#222" stroke-width="0.3"/>
<circle cx="76.5" cy="250.29" r="0.55" fill="none" stroke="#222" stroke-width="0.3"/>
<circle cx="80.75" cy="189.37" r="0.55" fill="none" stroke="#222" stroke-width="0.3"/>
<circle cx="77.59" cy="221.58" r="0.55" fill="none" stroke="#222" stroke-width="0.3"/>
<circle cx="80.42" cy="258.59" r="0.55" fill="none" stroke="#222" stroke-width="0.3"/>
<circle cx="76" cy="252.82" r="0.55" fill="none" stroke="#222" stroke-width="0.3"/>
<circle cx="80.64" cy="234.74" r="0.55" fill="none" stroke="#222" stroke-width="0.3"/>
<circle cx="75.04" cy="248.93" r="0.55" fill="none" stroke="#222" stroke-width="0.3"/>
<circle cx="74.66" cy="195.01" r="0.55" fill="none" stroke="#222" stroke-width="0.3"/>
<circle cx="75.58" cy="217.85" r="0.55" fill="none" stroke="#222" stroke-width="0.3"/>
<circle cx="76.05" cy="241.8" r="0.55" fill="none" stroke="#222" stroke-width="0.3"/>
<circle cx="81.05" cy="234.54" r="0.55" fill="none" stroke="#222" stroke-width="0.3"/>
<circle cx="78.35" cy="204.4" r="0.55" fill="none" stroke="#222" stroke-width="0.3"/>
<circle cx="75.83" cy="255.43" r="0.55" fill="none" stroke="#222" stroke-width="0.3"/>
<circle cx="80.16" cy="241.99" r="0.55" fill="none" stroke="#222" stroke-width="0.3"/>
<circle cx="74.78" cy="193.81" r="0.55" fill="none" stroke="#222" stroke-width="0.3"/>
<circle cx="81.32" cy="239.97" r="0.55" fill="none" stroke="#222" stroke-width="0.3"/>
<circle cx="75.16" cy="251.11" r="0.55" fill="none" stroke="#222" stroke-width="0.3"/>
<circle cx="80.82" cy="243.52" r="0.55" fill="none" stroke="#222" stroke-width="0.3"/>
<circle cx="79.65" cy="243.67" r="0.55" fill="none" stroke="#222" stroke-width="0.3"/>
<circle cx="79.21" cy="253.3" r="0.55" fill="none" stroke="#222" stroke-width="0.3"/>
<circle cx="78.77" cy="249.87" r="0.55" fill="none" stroke="#222" stroke-width="0.3"/>
<circle cx="80.75" cy="217.37" r="0.55" fill="none" stroke="#222" stroke-width="0.3"/>
<circle cx="81.49" cy="234.69" r="0.55" fill="none" stroke="#222" stroke-width="0.3"/>
<circle cx="81.25" cy="236.23" r="0.55" fill="none" stroke="#222" stroke-width="0.3"/>
<circle cx="81.59" cy="194.08" r="0.55" fill="none" stroke="#222" stroke-width="0.3"/>
<polyline points="53.0,138.3 53.0,135.0 78.0,135.0 78.0,158.0" fill="none" stroke="#888" stroke-width="0.7"/>
<circle cx="65.2" cy="135.2" r="1.05" fill="#f00"/>
<text x="67.45" y="126.7" text-anchor="middle" font-size="6.7">DLBC</text>
<text x="65.25" y="276" text-anchor="middle" font-size="6.5">(num(T) = 47;num(N) = 337)</text>
<text x="65.25" y="285.2" text-anchor="middle" font-size="6.5">FOXO1</text>
<text transform="translate(9.3,197.95) rotate(-90)" text-anchor="middle" font-size="6.5">Expression-log<tspan font-size="4.5" dy="1.5">2</tspan><tspan dy="-1.5">(TPM+1)</tspan></text>
<rect x="43" y="263.4" width="20" height="1.6" fill="#444"/><rect x="68" y="263.4" width="20.2" height="1.6" fill="#444"/>
<circle cx="52.3" cy="141.7" r="0.55" fill="none" stroke="#222" stroke-width="0.3"/>
<circle cx="79" cy="160.5" r="0.55" fill="none" stroke="#222" stroke-width="0.3"/>
<circle cx="79.5" cy="168" r="0.55" fill="none" stroke="#222" stroke-width="0.3"/>
<rect x="140.3" y="129.5" width="80.2" height="136" fill="none" stroke="#333" stroke-width="0.9"/>
<line x1="136.8" y1="255.13" x2="140.3" y2="255.13" stroke="#333" stroke-width="0.8"/>
<text x="133.7" y="257.43" text-anchor="end" font-size="6.5">1</text>
<line x1="136.8" y1="227.96" x2="140.3" y2="227.96" stroke="#333" stroke-width="0.8"/>
<text x="133.7" y="230.26" text-anchor="end" font-size="6.5">2</text>
<line x1="136.8" y1="200.79" x2="140.3" y2="200.79" stroke="#333" stroke-width="0.8"/>
<text x="133.7" y="203.09" text-anchor="end" font-size="6.5">3</text>
<line x1="136.8" y1="173.62" x2="140.3" y2="173.62" stroke="#333" stroke-width="0.8"/>
<text x="133.7" y="175.92" text-anchor="end" font-size="6.5">4</text>
<line x1="136.8" y1="146.45" x2="140.3" y2="146.45" stroke="#333" stroke-width="0.8"/>
<text x="133.7" y="148.75" text-anchor="end" font-size="6.5">5</text>
<line x1="167.05" y1="193.73" x2="167.05" y2="215.46" stroke="#555" stroke-width="0.6" stroke-dasharray="1.2,0.8"/>
<line x1="167.05" y1="248.07" x2="167.05" y2="260.56" stroke="#555" stroke-width="0.6" stroke-dasharray="1.2,0.8"/>
<line x1="161.83" y1="193.73" x2="172.28" y2="193.73" stroke="#333" stroke-width="0.7"/>
<line x1="161.83" y1="260.56" x2="172.28" y2="260.56" stroke="#333" stroke-width="0.7"/>
<rect x="156.6" y="215.46" width="20.9" height="32.6" fill="#f00" stroke="#222" stroke-width="0.6"/>
<line x1="156.6" y1="233.39" x2="177.5" y2="233.39" stroke="#111" stroke-width="1.1"/>
<circle cx="168.19" cy="252.32" r="0.55" fill="none" stroke="#222" stroke-width="0.3"/>
<circle cx="166.92" cy="223.71" r="0.55" fill="none" stroke="#222" stroke-width="0.3"/>
<circle cx="168.81" cy="249.76" r="0.55" fill="none" stroke="#222" stroke-width="0.3"/>
<circle cx="167.12" cy="210.43" r="0.55" fill="none" stroke="#222" stroke-width="0.3"/>
<circle cx="165.47" cy="233.03" r="0.55" fill="none" stroke="#222" stroke-width="0.3"/>
<circle cx="166.28" cy="260.4" r="0.55" fill="none" stroke="#222" stroke-width="0.3"/>
<circle cx="164.47" cy="227.27" r="0.55" fill="none" stroke="#222" stroke-width="0.3"/>
<circle cx="165.44" cy="211.66" r="0.55" fill="none" stroke="#222" stroke-width="0.3"/>
<circle cx="164.3" cy="248.93" r="0.55" fill="none" stroke="#222" stroke-width="0.3"/>
<circle cx="168.48" cy="193.94" r="0.55" fill="none" stroke="#222" stroke-width="0.3"/>
<circle cx="167.75" cy="204.59" r="0.55" fill="none" stroke="#222" stroke-width="0.3"/>
<circle cx="166.02" cy="258.86" r="0.55" fill="none" stroke="#222" stroke-width="0.3"/>
<circle cx="164.74" cy="233.54" r="0.55" fill="none" stroke="#222" stroke-width="0.3"/>
<circle cx="166.26" cy="197.9" r="0.55" fill="none" stroke="#222" stroke-width="0.3"/>
<circle cx="168.96" cy="252.82" r="0.55" fill="none" stroke="#222" stroke-width="0.3"/>
<circle cx="169.62" cy="254.32" r="0.55" fill="none" stroke="#222" stroke-width="0.3"/>
<circle cx="167.36" cy="236.14" r="0.55" fill="none" stroke="#222" stroke-width="0.3"/>
<circle cx="166.96" cy="242.61" r="0.55" fill="none" stroke="#222" stroke-width="0.3"/>
<circle cx="164.27" cy="251.22" r="0.55" fill="none" stroke="#222" stroke-width="0.3"/>
<circle cx="165.46" cy="205.39" r="0.55" fill="none" stroke="#222" stroke-width="0.3"/>
<circle cx="165.3" cy="212.83" r="0.55" fill="none" stroke="#222" stroke-width="0.3"/>
<circle cx="169.41" cy="196.44" r="0.55" fill="none" stroke="#222" stroke-width="0.3"/>
<circle cx="168.63" cy="215.05" r="0.55" fill="none" stroke="#222" stroke-width="0.3"/>
<circle cx="168.43" cy="227.6" r="0.55" fill="none" stroke="#222" stroke-width="0.3"/>
<circle cx="166.91" cy="254.44" r="0.55" fill="none" stroke="#222" stroke-width="0.3"/>
<circle cx="165.26" cy="208.77" r="0.55" fill="none" stroke="#222" stroke-width="0.3"/>
<circle cx="169.38" cy="200.41" r="0.55" fill="none" stroke="#222" stroke-width="0.3"/>
<circle cx="166.24" cy="238.7" r="0.55" fill="none" stroke="#222" stroke-width="0.3"/>
<circle cx="166.36" cy="236.25" r="0.55" fill="none" stroke="#222" stroke-width="0.3"/>
<circle cx="166.37" cy="194.17" r="0.55" fill="none" stroke="#222" stroke-width="0.3"/>
<circle cx="164.61" cy="259.22" r="0.55" fill="none" stroke="#222" stroke-width="0.3"/>
<circle cx="170.01" cy="217.75" r="0.55" fill="none" stroke="#222" stroke-width="0.3"/>
<circle cx="167" cy="233.63" r="0.55" fill="none" stroke="#222" stroke-width="0.3"/>
<circle cx="168.54" cy="229.78" r="0.55" fill="none" stroke="#222" stroke-width="0.3"/>
<circle cx="167.7" cy="249.46" r="0.55" fill="none" stroke="#222" stroke-width="0.3"/>
<circle cx="167.79" cy="229.34" r="0.55" fill="none" stroke="#222" stroke-width="0.3"/>
<circle cx="165.07" cy="251.53" r="0.55" fill="none" stroke="#222" stroke-width="0.3"/>
<circle cx="169.61" cy="242.3" r="0.55" fill="none" stroke="#222" stroke-width="0.3"/>
<circle cx="167.63" cy="242.4" r="0.55" fill="none" stroke="#222" stroke-width="0.3"/>
<circle cx="164.67" cy="244.74" r="0.55" fill="none" stroke="#222" stroke-width="0.3"/>
<circle cx="168.93" cy="257.28" r="0.55" fill="none" stroke="#222" stroke-width="0.3"/>
<circle cx="166.3" cy="213.11" r="0.55" fill="none" stroke="#222" stroke-width="0.3"/>
<circle cx="168.11" cy="220.24" r="0.55" fill="none" stroke="#222" stroke-width="0.3"/>
<circle cx="169.8" cy="202.53" r="0.55" fill="none" stroke="#222" stroke-width="0.3"/>
<circle cx="169.98" cy="238.85" r="0.55" fill="none" stroke="#222" stroke-width="0.3"/>
<circle cx="167.59" cy="197.08" r="0.55" fill="none" stroke="#222" stroke-width="0.3"/>
<circle cx="167" cy="203.88" r="0.55" fill="none" stroke="#222" stroke-width="0.3"/>
<line x1="192.3" y1="143.73" x2="192.3" y2="171.45" stroke="#555" stroke-width="0.6" stroke-dasharray="1.2,0.8"/>
<line x1="192.3" y1="196.17" x2="192.3" y2="222.53" stroke="#555" stroke-width="0.6" stroke-dasharray="1.2,0.8"/>
<line x1="187.15" y1="143.73" x2="197.45" y2="143.73" stroke="#333" stroke-width="0.7"/>
<line x1="187.15" y1="222.53" x2="197.45" y2="222.53" stroke="#333" stroke-width="0.7"/>
<rect x="182" y="171.45" width="20.6" height="24.72" fill="#00f" stroke="#222" stroke-width="0.6"/>
<line x1="182" y1="183.67" x2="202.6" y2="183.67" stroke="#111" stroke-width="1.1"/>
<circle cx="189.78" cy="148.37" r="0.55" fill="none" stroke="#222" stroke-width="0.3"/>
<circle cx="195.79" cy="220.04" r="0.55" fill="none" stroke="#222" stroke-width="0.3"/>
<circle cx="189.64" cy="203.1" r="0.55" fill="none" stroke="#222" stroke-width="0.3"/>
<circle cx="191.22" cy="176.27" r="0.55" fill="none" stroke="#222" stroke-width="0.3"/>
<circle cx="190.42" cy="155.98" r="0.55" fill="none" stroke="#222" stroke-width="0.3"/>
<circle cx="191.04" cy="148.22" r="0.55" fill="none" stroke="#222" stroke-width="0.3"/>
<circle cx="195.32" cy="178.73" r="0.55" fill="none" stroke="#222" stroke-width="0.3"/>
<circle cx="195.27" cy="174.61" r="0.55" fill="none" stroke="#222" stroke-width="0.3"/>
<circle cx="189.14" cy="173.49" r="0.55" fill="none" stroke="#222" stroke-width="0.3"/>
<circle cx="192.93" cy="156.88" r="0.55" fill="none" stroke="#222" stroke-width="0.3"/>
<circle cx="190.13" cy="193.14" r="0.55" fill="none" stroke="#222" stroke-width="0.3"/>
<circle cx="192.88" cy="160.38" r="0.55" fill="none" stroke="#222" stroke-width="0.3"/>
<circle cx="194.22" cy="150.61" r="0.55" fill="none" stroke="#222" stroke-width="0.3"/>
<circle cx="192.76" cy="148.04" r="0.55" fill="none" stroke="#222" stroke-width="0.3"/>
<circle cx="193.09" cy="173.97" r="0.55" fill="none" stroke="#222" stroke-width="0.3"/>
<circle cx="195.5" cy="195.75" r="0.55" fill="none" stroke="#222" stroke-width="0.3"/>
<circle cx="194.27" cy="193.05" r="0.55" fill="none" stroke="#222" stroke-width="0.3"/>
<circle cx="193.36" cy="148.76" r="0.55" fill="none" stroke="#222" stroke-width="0.3"/>
<circle cx="194.58" cy="207.53" r="0.55" fill="none" stroke="#222" stroke-width="0.3"/>
<circle cx="190.1" cy="175.48" r="0.55" fill="none" stroke="#222" stroke-width="0.3"/>
<circle cx="192.52" cy="217.35" r="0.55" fill="none" stroke="#222" stroke-width="0.3"/>
<circle cx="195.28" cy="219.12" r="0.55" fill="none" stroke="#222" stroke-width="0.3"/>
<circle cx="192.42" cy="183.37" r="0.55" fill="none" stroke="#222" stroke-width="0.3"/>
<circle cx="193.43" cy="188.2" r="0.55" fill="none" stroke="#222" stroke-width="0.3"/>
<circle cx="190.95" cy="152.99" r="0.55" fill="none" stroke="#222" stroke-width="0.3"/>
<circle cx="192.88" cy="189.98" r="0.55" fill="none" stroke="#222" stroke-width="0.3"/>
<circle cx="192.97" cy="193.81" r="0.55" fill="none" stroke="#222" stroke-width="0.3"/>
<circle cx="191.83" cy="181.56" r="0.55" fill="none" stroke="#222" stroke-width="0.3"/>
<circle cx="192.5" cy="175.2" r="0.55" fill="none" stroke="#222" stroke-width="0.3"/>
<circle cx="195.78" cy="213.24" r="0.55" fill="none" stroke="#222" stroke-width="0.3"/>
<circle cx="191.82" cy="190.89" r="0.55" fill="none" stroke="#222" stroke-width="0.3"/>
<circle cx="195.31" cy="188.53" r="0.55" fill="none" stroke="#222" stroke-width="0.3"/>
<circle cx="192.38" cy="149.04" r="0.55" fill="none" stroke="#222" stroke-width="0.3"/>
<circle cx="189.48" cy="188.64" r="0.55" fill="none" stroke="#222" stroke-width="0.3"/>
<circle cx="190" cy="155.32" r="0.55" fill="none" stroke="#222" stroke-width="0.3"/>
<circle cx="191.24" cy="181.39" r="0.55" fill="none" stroke="#222" stroke-width="0.3"/>
<circle cx="191.3" cy="192.26" r="0.55" fill="none" stroke="#222" stroke-width="0.3"/>
<circle cx="189.06" cy="202.36" r="0.55" fill="none" stroke="#222" stroke-width="0.3"/>
<circle cx="194.37" cy="181.94" r="0.55" fill="none" stroke="#222" stroke-width="0.3"/>
<circle cx="190.21" cy="176.48" r="0.55" fill="none" stroke="#222" stroke-width="0.3"/>
<circle cx="189.16" cy="174.2" r="0.55" fill="none" stroke="#222" stroke-width="0.3"/>
<circle cx="194.6" cy="188.13" r="0.55" fill="none" stroke="#222" stroke-width="0.3"/>
<circle cx="192.02" cy="152.49" r="0.55" fill="none" stroke="#222" stroke-width="0.3"/>
<circle cx="192.29" cy="160.75" r="0.55" fill="none" stroke="#222" stroke-width="0.3"/>
<circle cx="192.89" cy="182.5" r="0.55" fill="none" stroke="#222" stroke-width="0.3"/>
<circle cx="194.01" cy="144.7" r="0.55" fill="none" stroke="#222" stroke-width="0.3"/>
<circle cx="193.89" cy="185.02" r="0.55" fill="none" stroke="#222" stroke-width="0.3"/>
<circle cx="191.28" cy="176.67" r="0.55" fill="none" stroke="#222" stroke-width="0.3"/>
<circle cx="194.54" cy="167.66" r="0.55" fill="none" stroke="#222" stroke-width="0.3"/>
<circle cx="195.4" cy="178.37" r="0.55" fill="none" stroke="#222" stroke-width="0.3"/>
<circle cx="192.3" cy="220.61" r="0.55" fill="none" stroke="#222" stroke-width="0.3"/>
<circle cx="191.18" cy="177.09" r="0.55" fill="none" stroke="#222" stroke-width="0.3"/>
<circle cx="193.64" cy="204.46" r="0.55" fill="none" stroke="#222" stroke-width="0.3"/>
<circle cx="190.68" cy="186.95" r="0.55" fill="none" stroke="#222" stroke-width="0.3"/>
<circle cx="195.57" cy="218.11" r="0.55" fill="none" stroke="#222" stroke-width="0.3"/>
<circle cx="189.63" cy="191.06" r="0.55" fill="none" stroke="#222" stroke-width="0.3"/>
<circle cx="190.58" cy="199.72" r="0.55" fill="none" stroke="#222" stroke-width="0.3"/>
<circle cx="190.06" cy="158.57" r="0.55" fill="none" stroke="#222" stroke-width="0.3"/>
<circle cx="189.48" cy="194.85" r="0.55" fill="none" stroke="#222" stroke-width="0.3"/>
<circle cx="190.25" cy="185.17" r="0.55" fill="none" stroke="#222" stroke-width="0.3"/>
<circle cx="193.94" cy="191.47" r="0.55" fill="none" stroke="#222" stroke-width="0.3"/>
<circle cx="194.64" cy="152.04" r="0.55" fill="none" stroke="#222" stroke-width="0.3"/>
<circle cx="191.44" cy="218.49" r="0.55" fill="none" stroke="#222" stroke-width="0.3"/>
<circle cx="189.03" cy="160.48" r="0.55" fill="none" stroke="#222" stroke-width="0.3"/>
<circle cx="192.23" cy="201.1" r="0.55" fill="none" stroke="#222" stroke-width="0.3"/>
<circle cx="194.05" cy="189.55" r="0.55" fill="none" stroke="#222" stroke-width="0.3"/>
<circle cx="192.05" cy="173" r="0.55" fill="none" stroke="#222" stroke-width="0.3"/>
<circle cx="190.42" cy="196.27" r="0.55" fill="none" stroke="#222" stroke-width="0.3"/>
<circle cx="189.26" cy="195.36" r="0.55" fill="none" stroke="#222" stroke-width="0.3"/>
<circle cx="189.9" cy="175.57" r="0.55" fill="none" stroke="#222" stroke-width="0.3"/>
<circle cx="193.32" cy="155.99" r="0.55" fill="none" stroke="#222" stroke-width="0.3"/>
<circle cx="192.29" cy="216.54" r="0.55" fill="none" stroke="#222" stroke-width="0.3"/>
<circle cx="189.1" cy="178.6" r="0.55" fill="none" stroke="#222" stroke-width="0.3"/>
<circle cx="189.01" cy="184.34" r="0.55" fill="none" stroke="#222" stroke-width="0.3"/>
<circle cx="188.83" cy="169.64" r="0.55" fill="none" stroke="#222" stroke-width="0.3"/>
<circle cx="195.7" cy="177.22" r="0.55" fill="none" stroke="#222" stroke-width="0.3"/>
<circle cx="190.43" cy="160.76" r="0.55" fill="none" stroke="#222" stroke-width="0.3"/>
<circle cx="189.78" cy="181.98" r="0.55" fill="none" stroke="#222" stroke-width="0.3"/>
<circle cx="194.85" cy="191.56" r="0.55" fill="none" stroke="#222" stroke-width="0.3"/>
<circle cx="188.86" cy="163.94" r="0.55" fill="none" stroke="#222" stroke-width="0.3"/>
<circle cx="193.28" cy="189.68" r="0.55" fill="none" stroke="#222" stroke-width="0.3"/>
<circle cx="194.42" cy="204.03" r="0.55" fill="none" stroke="#222" stroke-width="0.3"/>
<circle cx="192.66" cy="155.59" r="0.55" fill="none" stroke="#222" stroke-width="0.3"/>
<circle cx="194.74" cy="190.57" r="0.55" fill="none" stroke="#222" stroke-width="0.3"/>
<circle cx="190.12" cy="183.05" r="0.55" fill="none" stroke="#222" stroke-width="0.3"/>
<circle cx="189.91" cy="194.78" r="0.55" fill="none" stroke="#222" stroke-width="0.3"/>
<circle cx="192.37" cy="161.61" r="0.55" fill="none" stroke="#222" stroke-width="0.3"/>
<circle cx="194.52" cy="174.05" r="0.55" fill="none" stroke="#222" stroke-width="0.3"/>
<circle cx="190.13" cy="146.64" r="0.55" fill="none" stroke="#222" stroke-width="0.3"/>
<circle cx="194.92" cy="188.39" r="0.55" fill="none" stroke="#222" stroke-width="0.3"/>
<circle cx="191.51" cy="170.15" r="0.55" fill="none" stroke="#222" stroke-width="0.3"/>
<circle cx="190.16" cy="176.05" r="0.55" fill="none" stroke="#222" stroke-width="0.3"/>
<circle cx="189.15" cy="205.47" r="0.55" fill="none" stroke="#222" stroke-width="0.3"/>
<circle cx="190.45" cy="189.69" r="0.55" fill="none" stroke="#222" stroke-width="0.3"/>
<circle cx="195.59" cy="182.81" r="0.55" fill="none" stroke="#222" stroke-width="0.3"/>
<circle cx="192.7" cy="206.41" r="0.55" fill="none" stroke="#222" stroke-width="0.3"/>
<circle cx="192.99" cy="158.74" r="0.55" fill="none" stroke="#222" stroke-width="0.3"/>
<circle cx="194.17" cy="182.34" r="0.55" fill="none" stroke="#222" stroke-width="0.3"/>
<circle cx="195.44" cy="220.23" r="0.55" fill="none" stroke="#222" stroke-width="0.3"/>
<circle cx="194.45" cy="174.55" r="0.55" fill="none" stroke="#222" stroke-width="0.3"/>
<circle cx="189.49" cy="163.11" r="0.55" fill="none" stroke="#222" stroke-width="0.3"/>
<circle cx="190.05" cy="215.5" r="0.55" fill="none" stroke="#222" stroke-width="0.3"/>
<circle cx="195.37" cy="183.44" r="0.55" fill="none" stroke="#222" stroke-width="0.3"/>
<circle cx="191.68" cy="153.79" r="0.55" fill="none" stroke="#222" stroke-width="0.3"/>
<circle cx="193.98" cy="177.69" r="0.55" fill="none" stroke="#222" stroke-width="0.3"/>
<circle cx="195.59" cy="192.05" r="0.55" fill="none" stroke="#222" stroke-width="0.3"/>
<circle cx="193.89" cy="150.19" r="0.55" fill="none" stroke="#222" stroke-width="0.3"/>
<circle cx="194.41" cy="154.66" r="0.55" fill="none" stroke="#222" stroke-width="0.3"/>
<circle cx="191.05" cy="176.23" r="0.55" fill="none" stroke="#222" stroke-width="0.3"/>
<circle cx="190.47" cy="194.6" r="0.55" fill="none" stroke="#222" stroke-width="0.3"/>
<circle cx="195.28" cy="216.48" r="0.55" fill="none" stroke="#222" stroke-width="0.3"/>
<circle cx="188.97" cy="193.75" r="0.55" fill="none" stroke="#222" stroke-width="0.3"/>
<circle cx="189.52" cy="192.87" r="0.55" fill="none" stroke="#222" stroke-width="0.3"/>
<circle cx="191.13" cy="186.42" r="0.55" fill="none" stroke="#222" stroke-width="0.3"/>
<circle cx="192.14" cy="204.03" r="0.55" fill="none" stroke="#222" stroke-width="0.3"/>
<circle cx="191.28" cy="187.93" r="0.55" fill="none" stroke="#222" stroke-width="0.3"/>
<circle cx="190.95" cy="164.43" r="0.55" fill="none" stroke="#222" stroke-width="0.3"/>
<circle cx="194.95" cy="181.66" r="0.55" fill="none" stroke="#222" stroke-width="0.3"/>
<circle cx="191.42" cy="148.27" r="0.55" fill="none" stroke="#222" stroke-width="0.3"/>
<circle cx="195.45" cy="218.26" r="0.55" fill="none" stroke="#222" stroke-width="0.3"/>
<circle cx="190.32" cy="182.98" r="0.55" fill="none" stroke="#222" stroke-width="0.3"/>
<circle cx="190.47" cy="209.01" r="0.55" fill="none" stroke="#222" stroke-width="0.3"/>
<circle cx="189.77" cy="193.15" r="0.55" fill="none" stroke="#222" stroke-width="0.3"/>
<circle cx="195.76" cy="217.36" r="0.55" fill="none" stroke="#222" stroke-width="0.3"/>
<circle cx="189.59" cy="163.66" r="0.55" fill="none" stroke="#222" stroke-width="0.3"/>
<circle cx="194.41" cy="184.64" r="0.55" fill="none" stroke="#222" stroke-width="0.3"/>
<circle cx="189.28" cy="183.45" r="0.55" fill="none" stroke="#222" stroke-width="0.3"/>
<circle cx="191.46" cy="191.69" r="0.55" fill="none" stroke="#222" stroke-width="0.3"/>
<circle cx="192.88" cy="153.21" r="0.55" fill="none" stroke="#222" stroke-width="0.3"/>
<circle cx="193.21" cy="185.72" r="0.55" fill="none" stroke="#222" stroke-width="0.3"/>
<circle cx="193.6" cy="217.4" r="0.55" fill="none" stroke="#222" stroke-width="0.3"/>
<circle cx="193.5" cy="165.02" r="0.55" fill="none" stroke="#222" stroke-width="0.3"/>
<circle cx="190.8" cy="190.63" r="0.55" fill="none" stroke="#222" stroke-width="0.3"/>
<circle cx="189.37" cy="221.46" r="0.55" fill="none" stroke="#222" stroke-width="0.3"/>
<circle cx="191.97" cy="206.23" r="0.55" fill="none" stroke="#222" stroke-width="0.3"/>
<circle cx="190.32" cy="168.31" r="0.55" fill="none" stroke="#222" stroke-width="0.3"/>
<circle cx="193.25" cy="185.06" r="0.55" fill="none" stroke="#222" stroke-width="0.3"/>
<circle cx="188.94" cy="177.34" r="0.55" fill="none" stroke="#222" stroke-width="0.3"/>
<circle cx="192.9" cy="152.54" r="0.55" fill="none" stroke="#222" stroke-width="0.3"/>
<circle cx="190.48" cy="193.51" r="0.55" fill="none" stroke="#222" stroke-width="0.3"/>
<circle cx="195.33" cy="174.43" r="0.55" fill="none" stroke="#222" stroke-width="0.3"/>
<circle cx="191.59" cy="191.81" r="0.55" fill="none" stroke="#222" stroke-width="0.3"/>
<circle cx="190.02" cy="180.88" r="0.55" fill="none" stroke="#222" stroke-width="0.3"/>
<circle cx="195.22" cy="188.38" r="0.55" fill="none" stroke="#222" stroke-width="0.3"/>
<circle cx="194.56" cy="180.92" r="0.55" fill="none" stroke="#222" stroke-width="0.3"/>
<circle cx="194.88" cy="195.58" r="0.55" fill="none" stroke="#222" stroke-width="0.3"/>
<circle cx="190.38" cy="167.83" r="0.55" fill="none" stroke="#222" stroke-width="0.3"/>
<circle cx="193.57" cy="182.21" r="0.55" fill="none" stroke="#222" stroke-width="0.3"/>
<circle cx="193.01" cy="180.11" r="0.55" fill="none" stroke="#222" stroke-width="0.3"/>
<circle cx="192.68" cy="197.22" r="0.55" fill="none" stroke="#222" stroke-width="0.3"/>
<circle cx="194.39" cy="190.94" r="0.55" fill="none" stroke="#222" stroke-width="0.3"/>
<circle cx="195.66" cy="190.04" r="0.55" fill="none" stroke="#222" stroke-width="0.3"/>
<circle cx="190.39" cy="179.74" r="0.55" fill="none" stroke="#222" stroke-width="0.3"/>
<circle cx="189.7" cy="187.89" r="0.55" fill="none" stroke="#222" stroke-width="0.3"/>
<circle cx="189.12" cy="172.11" r="0.55" fill="none" stroke="#222" stroke-width="0.3"/>
<circle cx="190.96" cy="178.54" r="0.55" fill="none" stroke="#222" stroke-width="0.3"/>
<circle cx="189.69" cy="168.45" r="0.55" fill="none" stroke="#222" stroke-width="0.3"/>
<circle cx="193.8" cy="174.85" r="0.55" fill="none" stroke="#222" stroke-width="0.3"/>
<circle cx="189.71" cy="197.95" r="0.55" fill="none" stroke="#222" stroke-width="0.3"/>
<circle cx="193.34" cy="190.05" r="0.55" fill="none" stroke="#222" stroke-width="0.3"/>
<circle cx="188.86" cy="195.63" r="0.55" fill="none" stroke="#222" stroke-width="0.3"/>
<circle cx="194.46" cy="186.6" r="0.55" fill="none" stroke="#222" stroke-width="0.3"/>
<circle cx="195.38" cy="205.89" r="0.55" fill="none" stroke="#222" stroke-width="0.3"/>
<circle cx="189.92" cy="183.27" r="0.55" fill="none" stroke="#222" stroke-width="0.3"/>
<circle cx="191.4" cy="211.98" r="0.55" fill="none" stroke="#222" stroke-width="0.3"/>
<circle cx="190.03" cy="184.85" r="0.55" fill="none" stroke="#222" stroke-width="0.3"/>
<circle cx="192.31" cy="213.66" r="0.55" fill="none" stroke="#222" stroke-width="0.3"/>
<circle cx="191.91" cy="195.97" r="0.55" fill="none" stroke="#222" stroke-width="0.3"/>
<circle cx="193.68" cy="186.13" r="0.55" fill="none" stroke="#222" stroke-width="0.3"/>
<circle cx="190.4" cy="179.88" r="0.55" fill="none" stroke="#222" stroke-width="0.3"/>
<circle cx="194.81" cy="203.58" r="0.55" fill="none" stroke="#222" stroke-width="0.3"/>
<circle cx="189.66" cy="217.2" r="0.55" fill="none" stroke="#222" stroke-width="0.3"/>
<circle cx="194.58" cy="215.16" r="0.55" fill="none" stroke="#222" stroke-width="0.3"/>
<circle cx="195.27" cy="181.67" r="0.55" fill="none" stroke="#222" stroke-width="0.3"/>
<circle cx="191.15" cy="177.5" r="0.55" fill="none" stroke="#222" stroke-width="0.3"/>
<circle cx="193.93" cy="187.15" r="0.55" fill="none" stroke="#222" stroke-width="0.3"/>
<circle cx="194.42" cy="198.15" r="0.55" fill="none" stroke="#222" stroke-width="0.3"/>
<circle cx="189.1" cy="188.3" r="0.55" fill="none" stroke="#222" stroke-width="0.3"/>
<circle cx="192.72" cy="191.49" r="0.55" fill="none" stroke="#222" stroke-width="0.3"/>
<circle cx="195.14" cy="207.07" r="0.55" fill="none" stroke="#222" stroke-width="0.3"/>
<circle cx="192.38" cy="151.92" r="0.55" fill="none" stroke="#222" stroke-width="0.3"/>
<circle cx="193.63" cy="154.31" r="0.55" fill="none" stroke="#222" stroke-width="0.3"/>
<circle cx="189.91" cy="181.81" r="0.55" fill="none" stroke="#222" stroke-width="0.3"/>
<circle cx="195.24" cy="148.96" r="0.55" fill="none" stroke="#222" stroke-width="0.3"/>
<circle cx="191.49" cy="186.07" r="0.55" fill="none" stroke="#222" stroke-width="0.3"/>
<circle cx="193.13" cy="214.76" r="0.55" fill="none" stroke="#222" stroke-width="0.3"/>
<circle cx="191.52" cy="159.82" r="0.55" fill="none" stroke="#222" stroke-width="0.3"/>
<circle cx="193.09" cy="194.23" r="0.55" fill="none" stroke="#222" stroke-width="0.3"/>
<circle cx="189.99" cy="166.64" r="0.55" fill="none" stroke="#222" stroke-width="0.3"/>
<circle cx="193.3" cy="194.55" r="0.55" fill="none" stroke="#222" stroke-width="0.3"/>
<circle cx="194.52" cy="218.17" r="0.55" fill="none" stroke="#222" stroke-width="0.3"/>
<circle cx="194.62" cy="192.89" r="0.55" fill="none" stroke="#222" stroke-width="0.3"/>
<circle cx="189.96" cy="185.93" r="0.55" fill="none" stroke="#222" stroke-width="0.3"/>
<circle cx="189.59" cy="220.48" r="0.55" fill="none" stroke="#222" stroke-width="0.3"/>
<circle cx="194.1" cy="195.66" r="0.55" fill="none" stroke="#222" stroke-width="0.3"/>
<circle cx="193.22" cy="166.57" r="0.55" fill="none" stroke="#222" stroke-width="0.3"/>
<circle cx="193.45" cy="193.31" r="0.55" fill="none" stroke="#222" stroke-width="0.3"/>
<circle cx="191.37" cy="172.3" r="0.55" fill="none" stroke="#222" stroke-width="0.3"/>
<circle cx="192.08" cy="213.93" r="0.55" fill="none" stroke="#222" stroke-width="0.3"/>
<circle cx="190.12" cy="199.12" r="0.55" fill="none" stroke="#222" stroke-width="0.3"/>
<circle cx="189.32" cy="189.14" r="0.55" fill="none" stroke="#222" stroke-width="0.3"/>
<circle cx="190.77" cy="155.05" r="0.55" fill="none" stroke="#222" stroke-width="0.3"/>
<circle cx="193.96" cy="154.99" r="0.55" fill="none" stroke="#222" stroke-width="0.3"/>
<circle cx="195.09" cy="221.39" r="0.55" fill="none" stroke="#222" stroke-width="0.3"/>
<circle cx="192.48" cy="164.86" r="0.55" fill="none" stroke="#222" stroke-width="0.3"/>
<circle cx="192.15" cy="156.56" r="0.55" fill="none" stroke="#222" stroke-width="0.3"/>
<circle cx="189.85" cy="219.88" r="0.55" fill="none" stroke="#222" stroke-width="0.3"/>
<circle cx="194.81" cy="193.14" r="0.55" fill="none" stroke="#222" stroke-width="0.3"/>
<circle cx="189.63" cy="162.64" r="0.55" fill="none" stroke="#222" stroke-width="0.3"/>
<circle cx="189.58" cy="191.18" r="0.55" fill="none" stroke="#222" stroke-width="0.3"/>
<circle cx="191.26" cy="198.45" r="0.55" fill="none" stroke="#222" stroke-width="0.3"/>
<circle cx="189.85" cy="187.95" r="0.55" fill="none" stroke="#222" stroke-width="0.3"/>
<circle cx="190.49" cy="175.96" r="0.55" fill="none" stroke="#222" stroke-width="0.3"/>
<circle cx="192.17" cy="155.92" r="0.55" fill="none" stroke="#222" stroke-width="0.3"/>
<circle cx="194.16" cy="187.19" r="0.55" fill="none" stroke="#222" stroke-width="0.3"/>
<circle cx="190.6" cy="191.42" r="0.55" fill="none" stroke="#222" stroke-width="0.3"/>
<circle cx="190.86" cy="209.61" r="0.55" fill="none" stroke="#222" stroke-width="0.3"/>
<circle cx="193.95" cy="197.8" r="0.55" fill="none" stroke="#222" stroke-width="0.3"/>
<circle cx="193.75" cy="190.92" r="0.55" fill="none" stroke="#222" stroke-width="0.3"/>
<circle cx="189.29" cy="194.89" r="0.55" fill="none" stroke="#222" stroke-width="0.3"/>
<circle cx="191.55" cy="193.43" r="0.55" fill="none" stroke="#222" stroke-width="0.3"/>
<circle cx="190.2" cy="153.7" r="0.55" fill="none" stroke="#222" stroke-width="0.3"/>
<circle cx="189.89" cy="200.21" r="0.55" fill="none" stroke="#222" stroke-width="0.3"/>
<circle cx="195.52" cy="196.01" r="0.55" fill="none" stroke="#222" stroke-width="0.3"/>
<circle cx="190.39" cy="151.29" r="0.55" fill="none" stroke="#222" stroke-width="0.3"/>
<circle cx="192.21" cy="217.27" r="0.55" fill="none" stroke="#222" stroke-width="0.3"/>
<circle cx="189.58" cy="179.53" r="0.55" fill="none" stroke="#222" stroke-width="0.3"/>
<circle cx="194.18" cy="187.77" r="0.55" fill="none" stroke="#222" stroke-width="0.3"/>
<circle cx="193.83" cy="222.38" r="0.55" fill="none" stroke="#222" stroke-width="0.3"/>
<circle cx="194.31" cy="174.63" r="0.55" fill="none" stroke="#222" stroke-width="0.3"/>
<circle cx="192.05" cy="184.33" r="0.55" fill="none" stroke="#222" stroke-width="0.3"/>
<circle cx="189.75" cy="182.77" r="0.55" fill="none" stroke="#222" stroke-width="0.3"/>
<circle cx="190.48" cy="182.99" r="0.55" fill="none" stroke="#222" stroke-width="0.3"/>
<circle cx="189.11" cy="192.62" r="0.55" fill="none" stroke="#222" stroke-width="0.3"/>
<circle cx="189.19" cy="205.82" r="0.55" fill="none" stroke="#222" stroke-width="0.3"/>
<circle cx="190.45" cy="181.67" r="0.55" fill="none" stroke="#222" stroke-width="0.3"/>
<circle cx="192.33" cy="180.95" r="0.55" fill="none" stroke="#222" stroke-width="0.3"/>
<circle cx="189.69" cy="197.96" r="0.55" fill="none" stroke="#222" stroke-width="0.3"/>
<circle cx="193.54" cy="178.98" r="0.55" fill="none" stroke="#222" stroke-width="0.3"/>
<circle cx="192.35" cy="174.36" r="0.55" fill="none" stroke="#222" stroke-width="0.3"/>
<circle cx="188.97" cy="179.76" r="0.55" fill="none" stroke="#222" stroke-width="0.3"/>
<circle cx="194.4" cy="193.35" r="0.55" fill="none" stroke="#222" stroke-width="0.3"/>
<circle cx="189.53" cy="189.81" r="0.55" fill="none" stroke="#222" stroke-width="0.3"/>
<circle cx="194.64" cy="187.63" r="0.55" fill="none" stroke="#222" stroke-width="0.3"/>
<circle cx="189.58" cy="212.18" r="0.55" fill="none" stroke="#222" stroke-width="0.3"/>
<circle cx="194.91" cy="183.76" r="0.55" fill="none" stroke="#222" stroke-width="0.3"/>
<circle cx="190.54" cy="189.15" r="0.55" fill="none" stroke="#222" stroke-width="0.3"/>
<circle cx="189.46" cy="169.46" r="0.55" fill="none" stroke="#222" stroke-width="0.3"/>
<circle cx="192.99" cy="193.9" r="0.55" fill="none" stroke="#222" stroke-width="0.3"/>
<circle cx="194.83" cy="160.43" r="0.55" fill="none" stroke="#222" stroke-width="0.3"/>
<circle cx="190.66" cy="192.38" r="0.55" fill="none" stroke="#222" stroke-width="0.3"/>
<circle cx="189.65" cy="190.5" r="0.55" fill="none" stroke="#222" stroke-width="0.3"/>
<circle cx="194.17" cy="195.04" r="0.55" fill="none" stroke="#222" stroke-width="0.3"/>
<circle cx="190.69" cy="146.07" r="0.55" fill="none" stroke="#222" stroke-width="0.3"/>
<circle cx="193.98" cy="214.89" r="0.55" fill="none" stroke="#222" stroke-width="0.3"/>
<circle cx="194.36" cy="147.49" r="0.55" fill="none" stroke="#222" stroke-width="0.3"/>
<circle cx="194.01" cy="188.04" r="0.55" fill="none" stroke="#222" stroke-width="0.3"/>
<circle cx="194.01" cy="170.28" r="0.55" fill="none" stroke="#222" stroke-width="0.3"/>
<circle cx="195.79" cy="184.03" r="0.55" fill="none" stroke="#222" stroke-width="0.3"/>
<circle cx="190.45" cy="168.04" r="0.55" fill="none" stroke="#222" stroke-width="0.3"/>
<circle cx="189.42" cy="187.14" r="0.55" fill="none" stroke="#222" stroke-width="0.3"/>
<circle cx="194.52" cy="189.94" r="0.55" fill="none" stroke="#222" stroke-width="0.3"/>
<circle cx="192.47" cy="184.36" r="0.55" fill="none" stroke="#222" stroke-width="0.3"/>
<circle cx="189.41" cy="168.23" r="0.55" fill="none" stroke="#222" stroke-width="0.3"/>
<circle cx="192.18" cy="190.99" r="0.55" fill="none" stroke="#222" stroke-width="0.3"/>
<circle cx="193.59" cy="183.98" r="0.55" fill="none" stroke="#222" stroke-width="0.3"/>
<circle cx="194.41" cy="150.72" r="0.55" fill="none" stroke="#222" stroke-width="0.3"/>
<circle cx="193.59" cy="181.45" r="0.55" fill="none" stroke="#222" stroke-width="0.3"/>
<circle cx="195.7" cy="181.79" r="0.55" fill="none" stroke="#222" stroke-width="0.3"/>
<circle cx="192.96" cy="178.95" r="0.55" fill="none" stroke="#222" stroke-width="0.3"/>
<circle cx="191.74" cy="188.88" r="0.55" fill="none" stroke="#222" stroke-width="0.3"/>
<circle cx="191.41" cy="169.89" r="0.55" fill="none" stroke="#222" stroke-width="0.3"/>
<circle cx="193.89" cy="154.4" r="0.55" fill="none" stroke="#222" stroke-width="0.3"/>
<circle cx="193.75" cy="148.71" r="0.55" fill="none" stroke="#222" stroke-width="0.3"/>
<circle cx="191.37" cy="180.25" r="0.55" fill="none" stroke="#222" stroke-width="0.3"/>
<circle cx="193.43" cy="220.63" r="0.55" fill="none" stroke="#222" stroke-width="0.3"/>
<circle cx="193.86" cy="171.3" r="0.55" fill="none" stroke="#222" stroke-width="0.3"/>
<circle cx="189.05" cy="170.44" r="0.55" fill="none" stroke="#222" stroke-width="0.3"/>
<circle cx="190.76" cy="174.67" r="0.55" fill="none" stroke="#222" stroke-width="0.3"/>
<circle cx="194.88" cy="189.24" r="0.55" fill="none" stroke="#222" stroke-width="0.3"/>
<circle cx="192.07" cy="188.42" r="0.55" fill="none" stroke="#222" stroke-width="0.3"/>
<circle cx="190.07" cy="217.18" r="0.55" fill="none" stroke="#222" stroke-width="0.3"/>
<circle cx="190.31" cy="200.37" r="0.55" fill="none" stroke="#222" stroke-width="0.3"/>
<circle cx="189.13" cy="182.57" r="0.55" fill="none" stroke="#222" stroke-width="0.3"/>
<circle cx="189.4" cy="213.14" r="0.55" fill="none" stroke="#222" stroke-width="0.3"/>
<circle cx="195.59" cy="172.25" r="0.55" fill="none" stroke="#222" stroke-width="0.3"/>
<circle cx="192.4" cy="171.44" r="0.55" fill="none" stroke="#222" stroke-width="0.3"/>
<circle cx="194.29" cy="208.77" r="0.55" fill="none" stroke="#222" stroke-width="0.3"/>
<circle cx="189.34" cy="208.87" r="0.55" fill="none" stroke="#222" stroke-width="0.3"/>
<circle cx="194.84" cy="183.11" r="0.55" fill="none" stroke="#222" stroke-width="0.3"/>
<circle cx="194.84" cy="193.14" r="0.55" fill="none" stroke="#222" stroke-width="0.3"/>
<circle cx="195.56" cy="192.06" r="0.55" fill="none" stroke="#222" stroke-width="0.3"/>
<circle cx="194.85" cy="172" r="0.55" fill="none" stroke="#222" stroke-width="0.3"/>
<circle cx="194.52" cy="145.45" r="0.55" fill="none" stroke="#222" stroke-width="0.3"/>
<circle cx="192.41" cy="201.84" r="0.55" fill="none" stroke="#222" stroke-width="0.3"/>
<circle cx="193.86" cy="181.49" r="0.55" fill="none" stroke="#222" stroke-width="0.3"/>
<circle cx="192.84" cy="198.31" r="0.55" fill="none" stroke="#222" stroke-width="0.3"/>
<circle cx="190.09" cy="194.46" r="0.55" fill="none" stroke="#222" stroke-width="0.3"/>
<circle cx="194.42" cy="186.19" r="0.55" fill="none" stroke="#222" stroke-width="0.3"/>
<circle cx="191.28" cy="181.04" r="0.55" fill="none" stroke="#222" stroke-width="0.3"/>
<circle cx="191.31" cy="198.72" r="0.55" fill="none" stroke="#222" stroke-width="0.3"/>
<circle cx="190.7" cy="188.72" r="0.55" fill="none" stroke="#222" stroke-width="0.3"/>
<circle cx="190.39" cy="193.12" r="0.55" fill="none" stroke="#222" stroke-width="0.3"/>
<circle cx="193.51" cy="193.97" r="0.55" fill="none" stroke="#222" stroke-width="0.3"/>
<circle cx="193.19" cy="177.55" r="0.55" fill="none" stroke="#222" stroke-width="0.3"/>
<circle cx="193.46" cy="152.17" r="0.55" fill="none" stroke="#222" stroke-width="0.3"/>
<circle cx="191.63" cy="208.81" r="0.55" fill="none" stroke="#222" stroke-width="0.3"/>
<circle cx="194.02" cy="182.49" r="0.55" fill="none" stroke="#222" stroke-width="0.3"/>
<circle cx="189.45" cy="182.19" r="0.55" fill="none" stroke="#222" stroke-width="0.3"/>
<circle cx="193.39" cy="184.87" r="0.55" fill="none" stroke="#222" stroke-width="0.3"/>
<circle cx="191.92" cy="167.54" r="0.55" fill="none" stroke="#222" stroke-width="0.3"/>
<circle cx="189.04" cy="199.98" r="0.55" fill="none" stroke="#222" stroke-width="0.3"/>
<circle cx="194.05" cy="183.52" r="0.55" fill="none" stroke="#222" stroke-width="0.3"/>
<circle cx="192.46" cy="210.89" r="0.55" fill="none" stroke="#222" stroke-width="0.3"/>
<circle cx="192.72" cy="178.94" r="0.55" fill="none" stroke="#222" stroke-width="0.3"/>
<circle cx="189.44" cy="198.11" r="0.55" fill="none" stroke="#222" stroke-width="0.3"/>
<circle cx="190.94" cy="220.26" r="0.55" fill="none" stroke="#222" stroke-width="0.3"/>
<circle cx="191.73" cy="155.17" r="0.55" fill="none" stroke="#222" stroke-width="0.3"/>
<circle cx="194.57" cy="145.18" r="0.55" fill="none" stroke="#222" stroke-width="0.3"/>
<circle cx="191.88" cy="179.57" r="0.55" fill="none" stroke="#222" stroke-width="0.3"/>
<circle cx="194.68" cy="180.62" r="0.55" fill="none" stroke="#222" stroke-width="0.3"/>
<circle cx="189.89" cy="191.96" r="0.55" fill="none" stroke="#222" stroke-width="0.3"/>
<circle cx="193.22" cy="154.96" r="0.55" fill="none" stroke="#222" stroke-width="0.3"/>
<circle cx="191.6" cy="189.78" r="0.55" fill="none" stroke="#222" stroke-width="0.3"/>
<circle cx="192.77" cy="211.86" r="0.55" fill="none" stroke="#222" stroke-width="0.3"/>
<circle cx="192.29" cy="167.45" r="0.55" fill="none" stroke="#222" stroke-width="0.3"/>
<circle cx="193.97" cy="174.02" r="0.55" fill="none" stroke="#222" stroke-width="0.3"/>
<circle cx="193.26" cy="192.12" r="0.55" fill="none" stroke="#222" stroke-width="0.3"/>
<circle cx="193.81" cy="146.82" r="0.55" fill="none" stroke="#222" stroke-width="0.3"/>
<circle cx="193.44" cy="203.23" r="0.55" fill="none" stroke="#222" stroke-width="0.3"/>
<circle cx="194.23" cy="176.6" r="0.55" fill="none" stroke="#222" stroke-width="0.3"/>
<circle cx="195.19" cy="173.8" r="0.55" fill="none" stroke="#222" stroke-width="0.3"/>
<circle cx="190.27" cy="146.37" r="0.55" fill="none" stroke="#222" stroke-width="0.3"/>
<circle cx="189.12" cy="184.7" r="0.55" fill="none" stroke="#222" stroke-width="0.3"/>
<circle cx="189.55" cy="145.26" r="0.55" fill="none" stroke="#222" stroke-width="0.3"/>
<circle cx="193.11" cy="187.36" r="0.55" fill="none" stroke="#222" stroke-width="0.3"/>
<circle cx="190" cy="187.21" r="0.55" fill="none" stroke="#222" stroke-width="0.3"/>
<polyline points="167.0,189.5 167.0,134.5 192.3,134.5 192.3,137.5" fill="none" stroke="#888" stroke-width="0.7"/>
<circle cx="179.35" cy="134.7" r="1.05" fill="#f00"/>
<text x="180.9" y="126.7" text-anchor="middle" font-size="6.7">DLBC</text>
<text x="180.4" y="275.1" text-anchor="middle" font-size="6.5">(num(T) = 47;num(N) = 337)</text>
<text x="180.4" y="284.3" text-anchor="middle" font-size="6.5">FOXO4</text>
<text transform="translate(125.0,197.5) rotate(-90)" text-anchor="middle" font-size="6.5">Expression-log<tspan font-size="4.5" dy="1.5">2</tspan><tspan dy="-1.5">(TPM+1)</tspan></text>
</svg>
<div class="lbl" style="left:239.2px;top:119.9px;font-size:12px">C</div>
<svg width="550" height="289" style="position:absolute;left:0;top:0" font-family="Liberation Sans, Arial, sans-serif">
<text x="402" y="133.3" text-anchor="middle" font-size="6.5">mRNA expression(RNAseq):FOXO1</text>
<line x1="269" y1="140.5" x2="547" y2="140.5" stroke="#e6e6e6" stroke-width="0.6"/>
<line x1="269" y1="215.5" x2="547" y2="215.5" stroke="#e6e6e6" stroke-width="0.6"/>
<line x1="269" y1="178.5" x2="547" y2="178.5" stroke="#666" stroke-width="1"/>
<text x="262.6" y="142.8" text-anchor="end" font-size="6.5">5</text>
<text x="262.6" y="180.3" text-anchor="end" font-size="6.5">0</text>
<text x="262.6" y="217.8" text-anchor="end" font-size="6.5">-5</text>
<line x1="274.5" y1="140.7" x2="274.5" y2="155.1" stroke="#d13f32" stroke-width="0.8"/>
<circle cx="274.5" cy="140.7" r="0.7" fill="#d13f32"/>
<circle cx="274.5" cy="155.1" r="0.7" fill="#d13f32"/>
<rect x="272.5" y="144.7" width="4.0" height="9.5" fill="#f5d8d6" stroke="#d13f32" stroke-width="0.9"/>
<line x1="272.5" y1="149" x2="276.5" y2="149" stroke="#d13f32" stroke-width="0.7"/>
<circle cx="274.5" cy="147.78" r="0.6" fill="#d13f32" fill-opacity="0.75"/>
<circle cx="274.5" cy="151.12" r="0.6" fill="#d13f32" fill-opacity="0.75"/>
<line x1="281.25" y1="139" x2="281.25" y2="169.8" stroke="#d15332" stroke-width="0.8"/>
<circle cx="281.25" cy="139" r="0.7" fill="#d15332"/>
<circle cx="281.25" cy="169.8" r="0.7" fill="#d15332"/>
<rect x="279.25" y="143.8" width="4.0" height="13.9" fill="#f5dcd6" stroke="#d15332" stroke-width="0.9"/>
<line x1="279.25" y1="150" x2="283.25" y2="150" stroke="#d15332" stroke-width="0.7"/>
<circle cx="281.25" cy="146.59" r="0.6" fill="#d15332" fill-opacity="0.75"/>
<circle cx="281.25" cy="152.14" r="0.6" fill="#d15332" fill-opacity="0.75"/>
<circle cx="281.25" cy="154.91" r="0.6" fill="#d15332" fill-opacity="0.75"/>
<circle cx="281.25" cy="197.7" r="1.25" fill="#d15332"/>
<text transform="translate(288.85,244.2) rotate(-45)" text-anchor="end" font-size="6.5" fill="#000">lymphoma_Burkitt</text>
<line x1="287.99" y1="141.8" x2="287.99" y2="168.9" stroke="#d16832" stroke-width="0.8"/>
<circle cx="287.99" cy="141.8" r="0.7" fill="#d16832"/>
<circle cx="287.99" cy="168.9" r="0.7" fill="#d16832"/>
<rect x="285.99" y="144.7" width="4.0" height="12.1" fill="#f5e0d6" stroke="#d16832" stroke-width="0.9"/>
<line x1="285.99" y1="150" x2="289.99" y2="150" stroke="#d16832" stroke-width="0.7"/>
<circle cx="287.99" cy="147.65" r="0.6" fill="#d16832" fill-opacity="0.75"/>
<circle cx="287.99" cy="153.85" r="0.6" fill="#d16832" fill-opacity="0.75"/>
<circle cx="287.99" cy="200.8" r="1.25" fill="#d16832"/>
<line x1="294.74" y1="143.8" x2="294.74" y2="175.3" stroke="#d17c32" stroke-width="0.8"/>
<circle cx="294.74" cy="143.8" r="0.7" fill="#d17c32"/>
<circle cx="294.74" cy="175.3" r="0.7" fill="#d17c32"/>
<rect x="292.74" y="149" width="4.0" height="14.2" fill="#f5e4d6" stroke="#d17c32" stroke-width="0.9"/>
<line x1="292.74" y1="156" x2="296.74" y2="156" stroke="#d17c32" stroke-width="0.7"/>
<circle cx="294.74" cy="151.83" r="0.6" fill="#d17c32" fill-opacity="0.75"/>
<circle cx="294.74" cy="154.68" r="0.6" fill="#d17c32" fill-opacity="0.75"/>
<circle cx="294.74" cy="157.53" r="0.6" fill="#d17c32" fill-opacity="0.75"/>
<circle cx="294.74" cy="160.38" r="0.6" fill="#d17c32" fill-opacity="0.75"/>
<text transform="translate(302.34,244.2) rotate(-45)" text-anchor="end" font-size="6.5" fill="#000">B-cell_ALL</text>
<line x1="301.48" y1="147.3" x2="301.48" y2="189.4" stroke="#d19232" stroke-width="0.8"/>
<circle cx="301.48" cy="147.3" r="0.7" fill="#d19232"/>
<circle cx="301.48" cy="189.4" r="0.7" fill="#d19232"/>
<rect x="299.48" y="150.4" width="4.0" height="12.5" fill="#f5e9d6" stroke="#d19232" stroke-width="0.9"/>
<line x1="299.48" y1="157" x2="303.48" y2="157" stroke="#d19232" stroke-width="0.7"/>
<circle cx="301.48" cy="153.01" r="0.6" fill="#d19232" fill-opacity="0.75"/>
<circle cx="301.48" cy="155.44" r="0.6" fill="#d19232" fill-opacity="0.75"/>
<circle cx="301.48" cy="160.29" r="0.6" fill="#d19232" fill-opacity="0.75"/>
<line x1="308.23" y1="149" x2="308.23" y2="175.3" stroke="#d1a932" stroke-width="0.8"/>
<circle cx="308.23" cy="149" r="0.7" fill="#d1a932"/>
<circle cx="308.23" cy="175.3" r="0.7" fill="#d1a932"/>
<rect x="306.23" y="156.8" width="4.0" height="9.5" fill="#f5edd6" stroke="#d1a932" stroke-width="0.9"/>
<line x1="306.23" y1="161" x2="310.23" y2="161" stroke="#d1a932" stroke-width="0.7"/>
<circle cx="308.23" cy="159.88" r="0.6" fill="#d1a932" fill-opacity="0.75"/>
<circle cx="308.23" cy="163.23" r="0.6" fill="#d1a932" fill-opacity="0.75"/>
<circle cx="308.23" cy="205.5" r="1.25" fill="#d1a932"/>
<text transform="translate(315.83,244.2) rotate(-45)" text-anchor="end" font-size="6.5" fill="#000">leukemia_other</text>
<line x1="314.98" y1="158" x2="314.98" y2="180.7" stroke="#d1bf32" stroke-width="0.8"/>
<circle cx="314.98" cy="158" r="0.7" fill="#d1bf32"/>
<circle cx="314.98" cy="180.7" r="0.7" fill="#d1bf32"/>
<rect x="312.98" y="161.5" width="4.0" height="8.6" fill="#f5f2d6" stroke="#d1bf32" stroke-width="0.9"/>
<line x1="312.98" y1="166" x2="316.98" y2="166" stroke="#d1bf32" stroke-width="0.7"/>
<circle cx="314.98" cy="164.35" r="0.6" fill="#d1bf32" fill-opacity="0.75"/>
<circle cx="314.98" cy="167.25" r="0.6" fill="#d1bf32" fill-opacity="0.75"/>
<line x1="321.72" y1="137.8" x2="321.72" y2="199.5" stroke="#cbd132" stroke-width="0.8"/>
<circle cx="321.72" cy="137.8" r="0.7" fill="#cbd132"/>
<circle cx="321.72" cy="199.5" r="0.7" fill="#cbd132"/>
<rect x="319.72" y="156.3" width="4.0" height="19.5" fill="#f4f5d6" stroke="#cbd132" stroke-width="0.9"/>
<line x1="319.72" y1="166" x2="323.72" y2="166" stroke="#cbd132" stroke-width="0.7"/>
<circle cx="321.72" cy="159.09" r="0.6" fill="#cbd132" fill-opacity="0.75"/>
<circle cx="321.72" cy="161.88" r="0.6" fill="#cbd132" fill-opacity="0.75"/>
<circle cx="321.72" cy="164.66" r="0.6" fill="#cbd132" fill-opacity="0.75"/>
<circle cx="321.72" cy="167.44" r="0.6" fill="#cbd132" fill-opacity="0.75"/>
<circle cx="321.72" cy="170.23" r="0.6" fill="#cbd132" fill-opacity="0.75"/>
<circle cx="321.72" cy="173.01" r="0.6" fill="#cbd132" fill-opacity="0.75"/>
<text transform="translate(329.32,244.2) rotate(-45)" text-anchor="end" font-size="6.5" fill="#000">esophagus</text>
<line x1="328.47" y1="151.1" x2="328.47" y2="175.5" stroke="#79b22a" stroke-width="0.8"/>
<circle cx="328.47" cy="151.1" r="0.7" fill="#79b22a"/>
<circle cx="328.47" cy="175.5" r="0.7" fill="#79b22a"/>
<rect x="326.47" y="162" width="4.0" height="9.8" fill="#e4efd4" stroke="#79b22a" stroke-width="0.9"/>
<line x1="326.47" y1="167" x2="330.47" y2="167" stroke="#79b22a" stroke-width="0.7"/>
<circle cx="328.47" cy="164.57" r="0.6" fill="#79b22a" fill-opacity="0.75"/>
<circle cx="328.47" cy="169.23" r="0.6" fill="#79b22a" fill-opacity="0.75"/>
<circle cx="328.47" cy="210.7" r="1.25" fill="#79b22a"/>
<line x1="335.22" y1="149" x2="335.22" y2="193.5" stroke="#63b22a" stroke-width="0.8"/>
<circle cx="335.22" cy="149" r="0.7" fill="#63b22a"/>
<circle cx="335.22" cy="193.5" r="0.7" fill="#63b22a"/>
<rect x="333.22" y="159" width="4.0" height="15.6" fill="#dfefd4" stroke="#63b22a" stroke-width="0.9"/>
<line x1="333.22" y1="166" x2="337.22" y2="166" stroke="#63b22a" stroke-width="0.7"/>
<circle cx="335.22" cy="161.68" r="0.6" fill="#63b22a" fill-opacity="0.75"/>
<circle cx="335.22" cy="164.24" r="0.6" fill="#63b22a" fill-opacity="0.75"/>
<circle cx="335.22" cy="169.36" r="0.6" fill="#63b22a" fill-opacity="0.75"/>
<circle cx="335.22" cy="171.92" r="0.6" fill="#63b22a" fill-opacity="0.75"/>
<text transform="translate(342.82,244.2) rotate(-45)" text-anchor="end" font-size="6.5" fill="#000">upper_aerodigestive</text>
<line x1="341.96" y1="144.2" x2="341.96" y2="194.5" stroke="#4cb22a" stroke-width="0.8"/>
<circle cx="341.96" cy="144.2" r="0.7" fill="#4cb22a"/>
<circle cx="341.96" cy="194.5" r="0.7" fill="#4cb22a"/>
<rect x="339.96" y="160.3" width="4.0" height="14" fill="#dbefd4" stroke="#4cb22a" stroke-width="0.9"/>
<line x1="339.96" y1="166" x2="343.96" y2="166" stroke="#4cb22a" stroke-width="0.7"/>
<circle cx="341.96" cy="163.1" r="0.6" fill="#4cb22a" fill-opacity="0.75"/>
<circle cx="341.96" cy="168.7" r="0.6" fill="#4cb22a" fill-opacity="0.75"/>
<circle cx="341.96" cy="171.5" r="0.6" fill="#4cb22a" fill-opacity="0.75"/>
<circle cx="341.96" cy="212.5" r="1.25" fill="#4cb22a"/>
<line x1="348.71" y1="140.7" x2="348.71" y2="188.8" stroke="#3bb22a" stroke-width="0.8"/>
<circle cx="348.71" cy="140.7" r="0.7" fill="#3bb22a"/>
<circle cx="348.71" cy="188.8" r="0.7" fill="#3bb22a"/>
<rect x="346.71" y="161.1" width="4.0" height="14.1" fill="#d7efd4" stroke="#3bb22a" stroke-width="0.9"/>
<line x1="346.71" y1="167" x2="350.71" y2="167" stroke="#3bb22a" stroke-width="0.7"/>
<circle cx="348.71" cy="163.91" r="0.6" fill="#3bb22a" fill-opacity="0.75"/>
<circle cx="348.71" cy="169.56" r="0.6" fill="#3bb22a" fill-opacity="0.75"/>
<circle cx="348.71" cy="172.39" r="0.6" fill="#3bb22a" fill-opacity="0.75"/>
<circle cx="348.71" cy="207.2" r="1.25" fill="#3bb22a"/>
<circle cx="348.71" cy="210.2" r="1.25" fill="#3bb22a"/>
<text transform="translate(356.31,244.2) rotate(-45)" text-anchor="end" font-size="6.5" fill="#000">stomach</text>
<line x1="355.45" y1="149" x2="355.45" y2="185.5" stroke="#2ab22a" stroke-width="0.8"/>
<circle cx="355.45" cy="149" r="0.7" fill="#2ab22a"/>
<circle cx="355.45" cy="185.5" r="0.7" fill="#2ab22a"/>
<rect x="353.45" y="162.5" width="4.0" height="9.7" fill="#d4efd4" stroke="#2ab22a" stroke-width="0.9"/>
<line x1="353.45" y1="167" x2="357.45" y2="167" stroke="#2ab22a" stroke-width="0.7"/>
<circle cx="355.45" cy="165.62" r="0.6" fill="#2ab22a" fill-opacity="0.75"/>
<circle cx="355.45" cy="169.07" r="0.6" fill="#2ab22a" fill-opacity="0.75"/>
<circle cx="355.45" cy="191.2" r="1.25" fill="#2ab22a"/>
<circle cx="355.45" cy="208.7" r="1.25" fill="#2ab22a"/>
<circle cx="355.45" cy="214" r="1.25" fill="#2ab22a"/>
<circle cx="355.45" cy="219.2" r="1.25" fill="#2ab22a"/>
<line x1="362.2" y1="161.5" x2="362.2" y2="175" stroke="#2ab236" stroke-width="0.8"/>
<circle cx="362.2" cy="161.5" r="0.7" fill="#2ab236"/>
<circle cx="362.2" cy="175" r="0.7" fill="#2ab236"/>
<rect x="360.2" y="167.2" width="4.0" height="5.7" fill="#d4efd6" stroke="#2ab236" stroke-width="0.9"/>
<line x1="360.2" y1="170" x2="364.2" y2="170" stroke="#2ab236" stroke-width="0.7"/>
<text transform="translate(369.8,244.2) rotate(-45)" text-anchor="end" font-size="6.5" fill="#000">colorectal</text>
<line x1="368.95" y1="152.1" x2="368.95" y2="197.3" stroke="#2ab241" stroke-width="0.8"/>
<circle cx="368.95" cy="152.1" r="0.7" fill="#2ab241"/>
<circle cx="368.95" cy="197.3" r="0.7" fill="#2ab241"/>
<rect x="366.95" y="164.1" width="4.0" height="13.3" fill="#d4efd9" stroke="#2ab241" stroke-width="0.9"/>
<line x1="366.95" y1="170" x2="370.95" y2="170" stroke="#2ab241" stroke-width="0.7"/>
<circle cx="368.95" cy="166.81" r="0.6" fill="#2ab241" fill-opacity="0.75"/>
<circle cx="368.95" cy="172.06" r="0.6" fill="#2ab241" fill-opacity="0.75"/>
<circle cx="368.95" cy="174.69" r="0.6" fill="#2ab241" fill-opacity="0.75"/>
<circle cx="368.95" cy="200.7" r="1.25" fill="#2ab241"/>
<circle cx="368.95" cy="204.5" r="1.25" fill="#2ab241"/>
<line x1="375.69" y1="161.1" x2="375.69" y2="188.8" stroke="#2ab258" stroke-width="0.8"/>
<circle cx="375.69" cy="161.1" r="0.7" fill="#2ab258"/>
<circle cx="375.69" cy="188.8" r="0.7" fill="#2ab258"/>
<rect x="373.69" y="163.7" width="4.0" height="11.8" fill="#d4efdd" stroke="#2ab258" stroke-width="0.9"/>
<line x1="373.69" y1="169" x2="377.69" y2="169" stroke="#2ab258" stroke-width="0.7"/>
<circle cx="375.69" cy="166.6" r="0.6" fill="#2ab258" fill-opacity="0.75"/>
<circle cx="375.69" cy="172.6" r="0.6" fill="#2ab258" fill-opacity="0.75"/>
<circle cx="375.69" cy="194.1" r="1.25" fill="#2ab258"/>
<text transform="translate(383.29,244.2) rotate(-45)" text-anchor="end" font-size="6.5" fill="#000">liver</text>
<line x1="382.44" y1="157.7" x2="382.44" y2="190.7" stroke="#2ab26e" stroke-width="0.8"/>
<circle cx="382.44" cy="157.7" r="0.7" fill="#2ab26e"/>
<circle cx="382.44" cy="190.7" r="0.7" fill="#2ab26e"/>
<rect x="380.44" y="165.5" width="4.0" height="10" fill="#d4efe2" stroke="#2ab26e" stroke-width="0.9"/>
<line x1="380.44" y1="172" x2="384.44" y2="172" stroke="#2ab26e" stroke-width="0.7"/>
<circle cx="382.44" cy="168.1" r="0.6" fill="#2ab26e" fill-opacity="0.75"/>
<circle cx="382.44" cy="170.5" r="0.6" fill="#2ab26e" fill-opacity="0.75"/>
<circle cx="382.44" cy="172.9" r="0.6" fill="#2ab26e" fill-opacity="0.75"/>
<line x1="389.18" y1="149.9" x2="389.18" y2="184" stroke="#2ab280" stroke-width="0.8"/>
<circle cx="389.18" cy="149.9" r="0.7" fill="#2ab280"/>
<circle cx="389.18" cy="184" r="0.7" fill="#2ab280"/>
<rect x="387.18" y="160.3" width="4.0" height="20.9" fill="#d4efe5" stroke="#2ab280" stroke-width="0.9"/>
<line x1="387.18" y1="171.9" x2="391.18" y2="171.9" stroke="#2ab280" stroke-width="0.7"/>
<circle cx="389.18" cy="162.99" r="0.6" fill="#2ab280" fill-opacity="0.75"/>
<circle cx="389.18" cy="165.58" r="0.6" fill="#2ab280" fill-opacity="0.75"/>
<circle cx="389.18" cy="168.16" r="0.6" fill="#2ab280" fill-opacity="0.75"/>
<circle cx="389.18" cy="170.75" r="0.6" fill="#2ab280" fill-opacity="0.75"/>
<circle cx="389.18" cy="173.34" r="0.6" fill="#2ab280" fill-opacity="0.75"/>
<circle cx="389.18" cy="175.92" r="0.6" fill="#2ab280" fill-opacity="0.75"/>
<circle cx="389.18" cy="178.51" r="0.6" fill="#2ab280" fill-opacity="0.75"/>
<circle cx="389.18" cy="214.4" r="1.25" fill="#2ab280"/>
<text transform="translate(396.78,244.2) rotate(-45)" text-anchor="end" font-size="6.5" fill="#000">melanoma</text>
<line x1="395.93" y1="146.4" x2="395.93" y2="212.1" stroke="#2ab293" stroke-width="0.8"/>
<circle cx="395.93" cy="146.4" r="0.7" fill="#2ab293"/>
<circle cx="395.93" cy="212.1" r="0.7" fill="#2ab293"/>
<rect x="393.93" y="162" width="4.0" height="21" fill="#d4efe9" stroke="#2ab293" stroke-width="0.9"/>
<line x1="393.93" y1="172" x2="397.93" y2="172" stroke="#2ab293" stroke-width="0.7"/>
<circle cx="395.93" cy="164.7" r="0.6" fill="#2ab293" fill-opacity="0.75"/>
<circle cx="395.93" cy="167.3" r="0.6" fill="#2ab293" fill-opacity="0.75"/>
<circle cx="395.93" cy="169.9" r="0.6" fill="#2ab293" fill-opacity="0.75"/>
<circle cx="395.93" cy="175.1" r="0.6" fill="#2ab293" fill-opacity="0.75"/>
<circle cx="395.93" cy="177.7" r="0.6" fill="#2ab293" fill-opacity="0.75"/>
<circle cx="395.93" cy="180.3" r="0.6" fill="#2ab293" fill-opacity="0.75"/>
<line x1="402.68" y1="160.8" x2="402.68" y2="195.4" stroke="#2ab2a7" stroke-width="0.8"/>
<circle cx="402.68" cy="160.8" r="0.7" fill="#2ab2a7"/>
<circle cx="402.68" cy="195.4" r="0.7" fill="#2ab2a7"/>
<rect x="400.68" y="165.5" width="4.0" height="11.9" fill="#d4efed" stroke="#2ab2a7" stroke-width="0.9"/>
<line x1="400.68" y1="171" x2="404.68" y2="171" stroke="#2ab2a7" stroke-width="0.7"/>
<circle cx="402.68" cy="168.42" r="0.6" fill="#2ab2a7" fill-opacity="0.75"/>
<circle cx="402.68" cy="174.48" r="0.6" fill="#2ab2a7" fill-opacity="0.75"/>
<text transform="translate(410.28,244.2) rotate(-45)" text-anchor="end" font-size="6.5" fill="#000">NA</text>
<line x1="409.42" y1="153.4" x2="409.42" y2="202.1" stroke="#2aa1b2" stroke-width="0.8"/>
<circle cx="409.42" cy="153.4" r="0.7" fill="#2aa1b2"/>
<circle cx="409.42" cy="202.1" r="0.7" fill="#2aa1b2"/>
<rect x="407.42" y="166.3" width="4.0" height="15.8" fill="#d4ecef" stroke="#2aa1b2" stroke-width="0.9"/>
<line x1="407.42" y1="173" x2="411.42" y2="173" stroke="#2aa1b2" stroke-width="0.7"/>
<circle cx="409.42" cy="169" r="0.6" fill="#2aa1b2" fill-opacity="0.75"/>
<circle cx="409.42" cy="171.6" r="0.6" fill="#2aa1b2" fill-opacity="0.75"/>
<circle cx="409.42" cy="174.2" r="0.6" fill="#2aa1b2" fill-opacity="0.75"/>
<circle cx="409.42" cy="176.8" r="0.6" fill="#2aa1b2" fill-opacity="0.75"/>
<circle cx="409.42" cy="179.4" r="0.6" fill="#2aa1b2" fill-opacity="0.75"/>
<circle cx="409.42" cy="210.2" r="1.25" fill="#2aa1b2"/>
<circle cx="409.42" cy="214.8" r="1.25" fill="#2aa1b2"/>
<circle cx="409.42" cy="216.7" r="1.25" fill="#2aa1b2"/>
<line x1="416.17" y1="147.3" x2="416.17" y2="195.4" stroke="#329cd1" stroke-width="0.8"/>
<circle cx="416.17" cy="147.3" r="0.7" fill="#329cd1"/>
<circle cx="416.17" cy="195.4" r="0.7" fill="#329cd1"/>
<rect x="414.17" y="167.2" width="4.0" height="15.8" fill="#d6ebf5" stroke="#329cd1" stroke-width="0.9"/>
<line x1="414.17" y1="174" x2="418.17" y2="174" stroke="#329cd1" stroke-width="0.7"/>
<circle cx="416.17" cy="169.9" r="0.6" fill="#329cd1" fill-opacity="0.75"/>
<circle cx="416.17" cy="172.5" r="0.6" fill="#329cd1" fill-opacity="0.75"/>
<circle cx="416.17" cy="175.1" r="0.6" fill="#329cd1" fill-opacity="0.75"/>
<circle cx="416.17" cy="177.7" r="0.6" fill="#329cd1" fill-opacity="0.75"/>
<circle cx="416.17" cy="180.3" r="0.6" fill="#329cd1" fill-opacity="0.75"/>
<circle cx="416.17" cy="208.3" r="1.25" fill="#329cd1"/>
<circle cx="416.17" cy="211.6" r="1.25" fill="#329cd1"/>
<text transform="translate(423.77,244.2) rotate(-45)" text-anchor="end" font-size="6.5" fill="#000">lung_NSC</text>
<line x1="422.92" y1="146.4" x2="422.92" y2="205.9" stroke="#3284d1" stroke-width="0.8"/>
<circle cx="422.92" cy="146.4" r="0.7" fill="#3284d1"/>
<circle cx="422.92" cy="205.9" r="0.7" fill="#3284d1"/>
<rect x="420.92" y="166.3" width="4.0" height="15.8" fill="#d6e6f5" stroke="#3284d1" stroke-width="0.9"/>
<line x1="420.92" y1="173" x2="424.92" y2="173" stroke="#3284d1" stroke-width="0.7"/>
<circle cx="422.92" cy="169" r="0.6" fill="#3284d1" fill-opacity="0.75"/>
<circle cx="422.92" cy="171.6" r="0.6" fill="#3284d1" fill-opacity="0.75"/>
<circle cx="422.92" cy="174.2" r="0.6" fill="#3284d1" fill-opacity="0.75"/>
<circle cx="422.92" cy="176.8" r="0.6" fill="#3284d1" fill-opacity="0.75"/>
<circle cx="422.92" cy="179.4" r="0.6" fill="#3284d1" fill-opacity="0.75"/>
<line x1="429.66" y1="157.7" x2="429.66" y2="200.2" stroke="#326cd1" stroke-width="0.8"/>
<circle cx="429.66" cy="157.7" r="0.7" fill="#326cd1"/>
<circle cx="429.66" cy="200.2" r="0.7" fill="#326cd1"/>
<rect x="427.66" y="171" width="4.0" height="12" fill="#d6e1f5" stroke="#326cd1" stroke-width="0.9"/>
<line x1="427.66" y1="176" x2="431.66" y2="176" stroke="#326cd1" stroke-width="0.7"/>
<circle cx="429.66" cy="173.93" r="0.6" fill="#326cd1" fill-opacity="0.75"/>
<circle cx="429.66" cy="177" r="0.6" fill="#326cd1" fill-opacity="0.75"/>
<circle cx="429.66" cy="180.07" r="0.6" fill="#326cd1" fill-opacity="0.75"/>
<circle cx="429.66" cy="145.2" r="1.25" fill="#326cd1"/>
<text transform="translate(437.26,244.2) rotate(-45)" text-anchor="end" font-size="6.5" fill="#000">glioma</text>
<line x1="436.41" y1="173" x2="436.41" y2="179.5" stroke="#3259d1" stroke-width="0.8"/>
<circle cx="436.41" cy="173" r="0.7" fill="#3259d1"/>
<circle cx="436.41" cy="179.5" r="0.7" fill="#3259d1"/>
<rect x="434.41" y="174.1" width="4.0" height="4.2" fill="#d6ddf5" stroke="#3259d1" stroke-width="0.9"/>
<line x1="434.41" y1="176" x2="438.41" y2="176" stroke="#3259d1" stroke-width="0.7"/>
<line x1="443.15" y1="149.9" x2="443.15" y2="216.1" stroke="#3247d1" stroke-width="0.8"/>
<circle cx="443.15" cy="149.9" r="0.7" fill="#3247d1"/>
<circle cx="443.15" cy="216.1" r="0.7" fill="#3247d1"/>
<rect x="441.15" y="156" width="4.0" height="33.7" fill="#d6daf5" stroke="#3247d1" stroke-width="0.9"/>
<line x1="441.15" y1="174" x2="445.15" y2="174" stroke="#3247d1" stroke-width="0.7"/>
<circle cx="443.15" cy="158.69" r="0.6" fill="#3247d1" fill-opacity="0.75"/>
<circle cx="443.15" cy="161.26" r="0.6" fill="#3247d1" fill-opacity="0.75"/>
<circle cx="443.15" cy="163.84" r="0.6" fill="#3247d1" fill-opacity="0.75"/>
<circle cx="443.15" cy="166.41" r="0.6" fill="#3247d1" fill-opacity="0.75"/>
<circle cx="443.15" cy="168.99" r="0.6" fill="#3247d1" fill-opacity="0.75"/>
<circle cx="443.15" cy="171.56" r="0.6" fill="#3247d1" fill-opacity="0.75"/>
<circle cx="443.15" cy="176.71" r="0.6" fill="#3247d1" fill-opacity="0.75"/>
<circle cx="443.15" cy="179.29" r="0.6" fill="#3247d1" fill-opacity="0.75"/>
<circle cx="443.15" cy="181.86" r="0.6" fill="#3247d1" fill-opacity="0.75"/>
<circle cx="443.15" cy="184.44" r="0.6" fill="#3247d1" fill-opacity="0.75"/>
<circle cx="443.15" cy="187.01" r="0.6" fill="#3247d1" fill-opacity="0.75"/>
<text transform="translate(450.75,244.2) rotate(-45)" text-anchor="end" font-size="6.5" fill="#000">chondrosarcoma</text>
<line x1="449.9" y1="155.6" x2="449.9" y2="221.7" stroke="#3432d1" stroke-width="0.8"/>
<circle cx="449.9" cy="155.6" r="0.7" fill="#3432d1"/>
<circle cx="449.9" cy="221.7" r="0.7" fill="#3432d1"/>
<rect x="447.9" y="158" width="4.0" height="36.5" fill="#d6d6f5" stroke="#3432d1" stroke-width="0.9"/>
<line x1="447.9" y1="165" x2="451.9" y2="165" stroke="#3432d1" stroke-width="0.7"/>
<circle cx="449.9" cy="160.7" r="0.6" fill="#3432d1" fill-opacity="0.75"/>
<circle cx="449.9" cy="163.29" r="0.6" fill="#3432d1" fill-opacity="0.75"/>
<circle cx="449.9" cy="168.47" r="0.6" fill="#3432d1" fill-opacity="0.75"/>
<circle cx="449.9" cy="171.07" r="0.6" fill="#3432d1" fill-opacity="0.75"/>
<circle cx="449.9" cy="173.66" r="0.6" fill="#3432d1" fill-opacity="0.75"/>
<circle cx="449.9" cy="176.25" r="0.6" fill="#3432d1" fill-opacity="0.75"/>
<circle cx="449.9" cy="178.84" r="0.6" fill="#3432d1" fill-opacity="0.75"/>
<circle cx="449.9" cy="181.43" r="0.6" fill="#3432d1" fill-opacity="0.75"/>
<circle cx="449.9" cy="184.03" r="0.6" fill="#3432d1" fill-opacity="0.75"/>
<circle cx="449.9" cy="186.62" r="0.6" fill="#3432d1" fill-opacity="0.75"/>
<circle cx="449.9" cy="189.21" r="0.6" fill="#3432d1" fill-opacity="0.75"/>
<circle cx="449.9" cy="191.8" r="0.6" fill="#3432d1" fill-opacity="0.75"/>
<line x1="456.65" y1="158.5" x2="456.65" y2="185" stroke="#4c32d1" stroke-width="0.8"/>
<circle cx="456.65" cy="158.5" r="0.7" fill="#4c32d1"/>
<circle cx="456.65" cy="185" r="0.7" fill="#4c32d1"/>
<rect x="454.65" y="162" width="4.0" height="18.2" fill="#dbd6f5" stroke="#4c32d1" stroke-width="0.9"/>
<line x1="454.65" y1="170.1" x2="458.65" y2="170.1" stroke="#4c32d1" stroke-width="0.7"/>
<circle cx="456.65" cy="164.68" r="0.6" fill="#4c32d1" fill-opacity="0.75"/>
<circle cx="456.65" cy="167.25" r="0.6" fill="#4c32d1" fill-opacity="0.75"/>
<circle cx="456.65" cy="172.38" r="0.6" fill="#4c32d1" fill-opacity="0.75"/>
<circle cx="456.65" cy="174.95" r="0.6" fill="#4c32d1" fill-opacity="0.75"/>
<circle cx="456.65" cy="177.52" r="0.6" fill="#4c32d1" fill-opacity="0.75"/>
<circle cx="456.65" cy="218.9" r="1.25" fill="#4c32d1"/>
<text transform="translate(464.25,244.2) rotate(-45)" text-anchor="end" font-size="6.5" fill="#000">medulloblastoma</text>
<line x1="463.39" y1="158" x2="463.39" y2="200.5" stroke="#6432d1" stroke-width="0.8"/>
<circle cx="463.39" cy="158" r="0.7" fill="#6432d1"/>
<circle cx="463.39" cy="200.5" r="0.7" fill="#6432d1"/>
<rect x="461.39" y="162.5" width="4.0" height="32.5" fill="#e0d6f5" stroke="#6432d1" stroke-width="0.9"/>
<line x1="461.39" y1="168.1" x2="465.39" y2="168.1" stroke="#6432d1" stroke-width="0.7"/>
<circle cx="463.39" cy="165.25" r="0.6" fill="#6432d1" fill-opacity="0.75"/>
<circle cx="463.39" cy="170.65" r="0.6" fill="#6432d1" fill-opacity="0.75"/>
<circle cx="463.39" cy="173.35" r="0.6" fill="#6432d1" fill-opacity="0.75"/>
<circle cx="463.39" cy="176.05" r="0.6" fill="#6432d1" fill-opacity="0.75"/>
<circle cx="463.39" cy="178.75" r="0.6" fill="#6432d1" fill-opacity="0.75"/>
<circle cx="463.39" cy="181.45" r="0.6" fill="#6432d1" fill-opacity="0.75"/>
<circle cx="463.39" cy="184.15" r="0.6" fill="#6432d1" fill-opacity="0.75"/>
<circle cx="463.39" cy="186.85" r="0.6" fill="#6432d1" fill-opacity="0.75"/>
<circle cx="463.39" cy="189.55" r="0.6" fill="#6432d1" fill-opacity="0.75"/>
<circle cx="463.39" cy="192.25" r="0.6" fill="#6432d1" fill-opacity="0.75"/>
<line x1="470.14" y1="156" x2="470.14" y2="193.5" stroke="#7c32d1" stroke-width="0.8"/>
<circle cx="470.14" cy="156" r="0.7" fill="#7c32d1"/>
<circle cx="470.14" cy="193.5" r="0.7" fill="#7c32d1"/>
<rect x="468.14" y="171.2" width="4.0" height="10.9" fill="#e4d6f5" stroke="#7c32d1" stroke-width="0.9"/>
<line x1="468.14" y1="175" x2="472.14" y2="175" stroke="#7c32d1" stroke-width="0.7"/>
<circle cx="470.14" cy="173.95" r="0.6" fill="#7c32d1" fill-opacity="0.75"/>
<circle cx="470.14" cy="176.65" r="0.6" fill="#7c32d1" fill-opacity="0.75"/>
<circle cx="470.14" cy="179.35" r="0.6" fill="#7c32d1" fill-opacity="0.75"/>
<circle cx="470.14" cy="201.5" r="1.25" fill="#7c32d1"/>
<text transform="translate(477.74,244.2) rotate(-45)" text-anchor="end" font-size="6.5" fill="#000">thyroid</text>
<line x1="476.88" y1="142.5" x2="476.88" y2="218.9" stroke="#8e32d1" stroke-width="0.8"/>
<circle cx="476.88" cy="142.5" r="0.7" fill="#8e32d1"/>
<circle cx="476.88" cy="218.9" r="0.7" fill="#8e32d1"/>
<rect x="474.88" y="162.9" width="4.0" height="25.9" fill="#e8d6f5" stroke="#8e32d1" stroke-width="0.9"/>
<line x1="474.88" y1="171.5" x2="478.88" y2="171.5" stroke="#8e32d1" stroke-width="0.7"/>
<circle cx="476.88" cy="165.58" r="0.6" fill="#8e32d1" fill-opacity="0.75"/>
<circle cx="476.88" cy="168.15" r="0.6" fill="#8e32d1" fill-opacity="0.75"/>
<circle cx="476.88" cy="173.28" r="0.6" fill="#8e32d1" fill-opacity="0.75"/>
<circle cx="476.88" cy="175.85" r="0.6" fill="#8e32d1" fill-opacity="0.75"/>
<circle cx="476.88" cy="178.42" r="0.6" fill="#8e32d1" fill-opacity="0.75"/>
<circle cx="476.88" cy="180.98" r="0.6" fill="#8e32d1" fill-opacity="0.75"/>
<circle cx="476.88" cy="183.55" r="0.6" fill="#8e32d1" fill-opacity="0.75"/>
<circle cx="476.88" cy="186.12" r="0.6" fill="#8e32d1" fill-opacity="0.75"/>
<line x1="483.63" y1="159.1" x2="483.63" y2="193.1" stroke="#a332d1" stroke-width="0.8"/>
<circle cx="483.63" cy="159.1" r="0.7" fill="#a332d1"/>
<circle cx="483.63" cy="193.1" r="0.7" fill="#a332d1"/>
<rect x="481.63" y="170.1" width="4.0" height="13.9" fill="#ecd6f5" stroke="#a332d1" stroke-width="0.9"/>
<line x1="481.63" y1="176" x2="485.63" y2="176" stroke="#a332d1" stroke-width="0.7"/>
<circle cx="483.63" cy="172.89" r="0.6" fill="#a332d1" fill-opacity="0.75"/>
<circle cx="483.63" cy="178.44" r="0.6" fill="#a332d1" fill-opacity="0.75"/>
<circle cx="483.63" cy="181.21" r="0.6" fill="#a332d1" fill-opacity="0.75"/>
<text transform="translate(491.23,244.2) rotate(-45)" text-anchor="end" font-size="6.5" fill="#000">soft_tissue</text>
<line x1="490.38" y1="176" x2="490.38" y2="182.5" stroke="#b732d1" stroke-width="0.8"/>
<circle cx="490.38" cy="176" r="0.7" fill="#b732d1"/>
<circle cx="490.38" cy="182.5" r="0.7" fill="#b732d1"/>
<rect x="488.38" y="176.6" width="4.0" height="5.1" fill="#f0d6f5" stroke="#b732d1" stroke-width="0.9"/>
<line x1="488.38" y1="179" x2="492.38" y2="179" stroke="#b732d1" stroke-width="0.7"/>
<line x1="497.12" y1="152.1" x2="497.12" y2="206" stroke="#cb32d1" stroke-width="0.8"/>
<circle cx="497.12" cy="152.1" r="0.7" fill="#cb32d1"/>
<circle cx="497.12" cy="206" r="0.7" fill="#cb32d1"/>
<rect x="495.12" y="171.5" width="4.0" height="15.4" fill="#f4d6f5" stroke="#cb32d1" stroke-width="0.9"/>
<line x1="495.12" y1="178" x2="499.12" y2="178" stroke="#cb32d1" stroke-width="0.7"/>
<circle cx="497.12" cy="174.16" r="0.6" fill="#cb32d1" fill-opacity="0.75"/>
<circle cx="497.12" cy="176.68" r="0.6" fill="#cb32d1" fill-opacity="0.75"/>
<circle cx="497.12" cy="179.2" r="0.6" fill="#cb32d1" fill-opacity="0.75"/>
<circle cx="497.12" cy="181.72" r="0.6" fill="#cb32d1" fill-opacity="0.75"/>
<circle cx="497.12" cy="184.24" r="0.6" fill="#cb32d1" fill-opacity="0.75"/>
<circle cx="497.12" cy="144.2" r="1.25" fill="#cb32d1"/>
<circle cx="497.12" cy="147.8" r="1.25" fill="#cb32d1"/>
<circle cx="497.12" cy="210.7" r="1.25" fill="#cb32d1"/>
<circle cx="497.12" cy="218.3" r="1.25" fill="#cb32d1"/>
<circle cx="497.12" cy="226.5" r="1.25" fill="#cb32d1"/>
<text transform="translate(504.72,244.2) rotate(-45)" text-anchor="end" font-size="6.5" fill="#000">meningioma</text>
<line x1="503.87" y1="168.9" x2="503.87" y2="206" stroke="#d132bf" stroke-width="0.8"/>
<circle cx="503.87" cy="168.9" r="0.7" fill="#d132bf"/>
<circle cx="503.87" cy="206" r="0.7" fill="#d132bf"/>
<rect x="501.87" y="171.5" width="4.0" height="14.8" fill="#f5d6f2" stroke="#d132bf" stroke-width="0.9"/>
<line x1="501.87" y1="178" x2="505.87" y2="178" stroke="#d132bf" stroke-width="0.7"/>
<circle cx="503.87" cy="174.4" r="0.6" fill="#d132bf" fill-opacity="0.75"/>
<circle cx="503.87" cy="180.4" r="0.6" fill="#d132bf" fill-opacity="0.75"/>
<circle cx="503.87" cy="183.4" r="0.6" fill="#d132bf" fill-opacity="0.75"/>
<line x1="510.62" y1="178.5" x2="510.62" y2="183.5" stroke="#d132a9" stroke-width="0.8"/>
<circle cx="510.62" cy="178.5" r="0.7" fill="#d132a9"/>
<circle cx="510.62" cy="183.5" r="0.7" fill="#d132a9"/>
<rect x="508.62" y="179.3" width="4.0" height="3.2" fill="#f5d6ed" stroke="#d132a9" stroke-width="0.9"/>
<line x1="508.62" y1="181" x2="512.62" y2="181" stroke="#d132a9" stroke-width="0.7"/>
<text transform="translate(518.22,244.2) rotate(-45)" text-anchor="end" font-size="6.5" fill="#000">prostate</text>
<line x1="517.36" y1="156.8" x2="517.36" y2="226.5" stroke="#d13281" stroke-width="0.8"/>
<circle cx="517.36" cy="156.8" r="0.7" fill="#d13281"/>
<circle cx="517.36" cy="226.5" r="0.7" fill="#d13281"/>
<rect x="515.36" y="169.4" width="4.0" height="28.9" fill="#f5d6e5" stroke="#d13281" stroke-width="0.9"/>
<line x1="515.36" y1="180" x2="519.36" y2="180" stroke="#d13281" stroke-width="0.7"/>
<circle cx="517.36" cy="172.11" r="0.6" fill="#d13281" fill-opacity="0.75"/>
<circle cx="517.36" cy="174.72" r="0.6" fill="#d13281" fill-opacity="0.75"/>
<circle cx="517.36" cy="177.33" r="0.6" fill="#d13281" fill-opacity="0.75"/>
<circle cx="517.36" cy="182.55" r="0.6" fill="#d13281" fill-opacity="0.75"/>
<circle cx="517.36" cy="185.16" r="0.6" fill="#d13281" fill-opacity="0.75"/>
<circle cx="517.36" cy="187.77" r="0.6" fill="#d13281" fill-opacity="0.75"/>
<circle cx="517.36" cy="190.38" r="0.6" fill="#d13281" fill-opacity="0.75"/>
<circle cx="517.36" cy="192.99" r="0.6" fill="#d13281" fill-opacity="0.75"/>
<circle cx="517.36" cy="195.6" r="0.6" fill="#d13281" fill-opacity="0.75"/>
<line x1="524.11" y1="162.9" x2="524.11" y2="206" stroke="#d13268" stroke-width="0.8"/>
<circle cx="524.11" cy="162.9" r="0.7" fill="#d13268"/>
<circle cx="524.11" cy="206" r="0.7" fill="#d13268"/>
<rect x="522.11" y="172.9" width="4.0" height="22.6" fill="#f5d6e0" stroke="#d13268" stroke-width="0.9"/>
<line x1="522.11" y1="180" x2="526.11" y2="180" stroke="#d13268" stroke-width="0.7"/>
<circle cx="524.11" cy="175.71" r="0.6" fill="#d13268" fill-opacity="0.75"/>
<circle cx="524.11" cy="178.54" r="0.6" fill="#d13268" fill-opacity="0.75"/>
<circle cx="524.11" cy="181.37" r="0.6" fill="#d13268" fill-opacity="0.75"/>
<circle cx="524.11" cy="184.2" r="0.6" fill="#d13268" fill-opacity="0.75"/>
<circle cx="524.11" cy="187.03" r="0.6" fill="#d13268" fill-opacity="0.75"/>
<circle cx="524.11" cy="189.86" r="0.6" fill="#d13268" fill-opacity="0.75"/>
<circle cx="524.11" cy="192.69" r="0.6" fill="#d13268" fill-opacity="0.75"/>
<text transform="translate(531.71,244.2) rotate(-45)" text-anchor="end" font-size="6.5" fill="#000">AML</text>
<line x1="530.85" y1="176" x2="530.85" y2="189" stroke="#d13250" stroke-width="0.8"/>
<circle cx="530.85" cy="176" r="0.7" fill="#d13250"/>
<circle cx="530.85" cy="189" r="0.7" fill="#d13250"/>
<rect x="528.85" y="182.5" width="4.0" height="5" fill="#f5d6dc" stroke="#d13250" stroke-width="0.9"/>
<line x1="528.85" y1="185" x2="532.85" y2="185" stroke="#d13250" stroke-width="0.7"/>
<circle cx="530.85" cy="173.6" r="1.25" fill="#d13250"/>
<circle cx="530.85" cy="195.5" r="1.25" fill="#d13250"/>
<line x1="537.6" y1="157.3" x2="537.6" y2="222.9" stroke="#d13237" stroke-width="0.8"/>
<circle cx="537.6" cy="157.3" r="0.7" fill="#d13237"/>
<circle cx="537.6" cy="222.9" r="0.7" fill="#d13237"/>
<rect x="535.6" y="176.4" width="4.0" height="20" fill="#f5d6d7" stroke="#d13237" stroke-width="0.9"/>
<line x1="535.6" y1="185" x2="539.6" y2="185" stroke="#d13237" stroke-width="0.7"/>
<circle cx="537.6" cy="179.23" r="0.6" fill="#d13237" fill-opacity="0.75"/>
<circle cx="537.6" cy="182.1" r="0.6" fill="#d13237" fill-opacity="0.75"/>
<circle cx="537.6" cy="187.83" r="0.6" fill="#d13237" fill-opacity="0.75"/>
<circle cx="537.6" cy="190.7" r="0.6" fill="#d13237" fill-opacity="0.75"/>
<circle cx="537.6" cy="193.57" r="0.6" fill="#d13237" fill-opacity="0.75"/>
<text transform="translate(545.2,244.2) rotate(-45)" text-anchor="end" font-size="6.5" fill="#000">mesothelioma</text>
</svg>
</body></html>
